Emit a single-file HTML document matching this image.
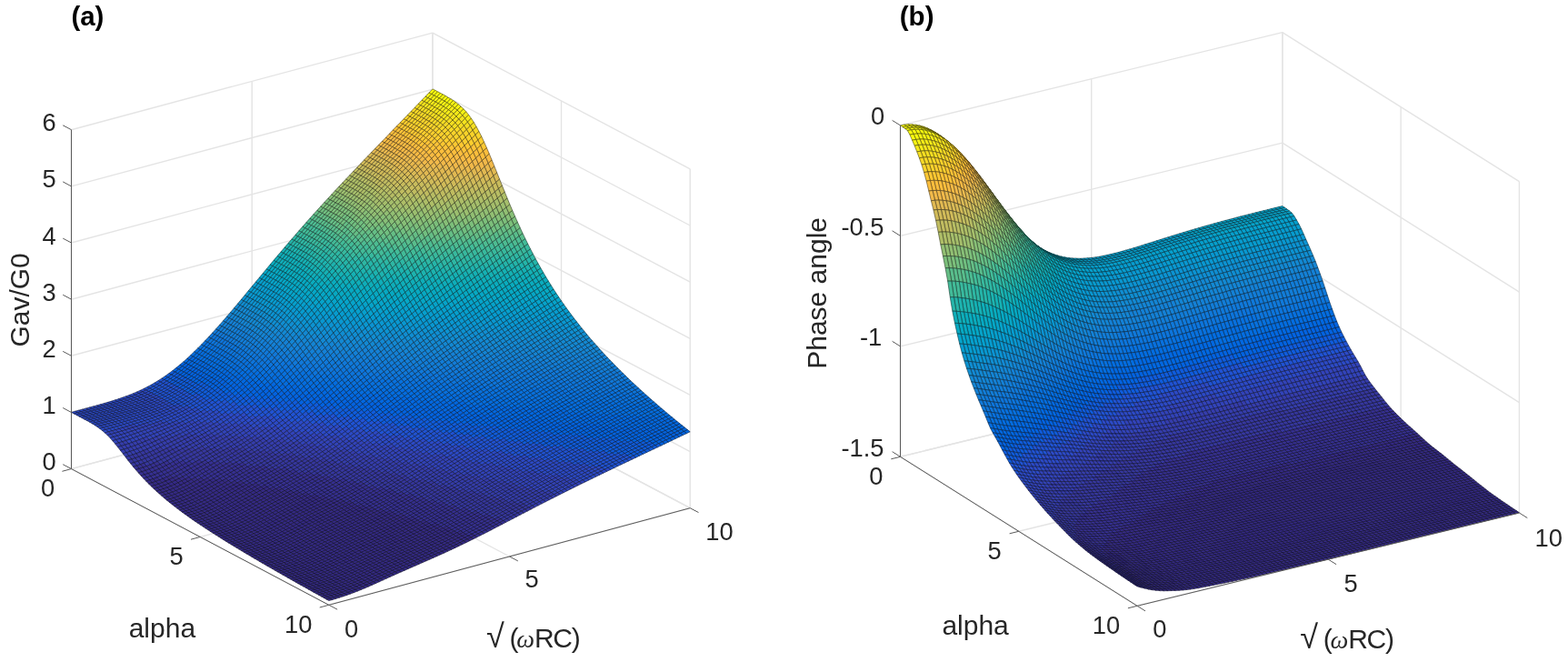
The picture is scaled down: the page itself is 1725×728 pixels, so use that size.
<!DOCTYPE html>
<html><head><meta charset="utf-8"><title>plot</title>
<style>
html,body{margin:0;padding:0;background:#fff}
body{width:1725px;height:728px;position:relative;overflow:hidden}
svg,canvas{position:absolute;left:0;top:0}
.tx{font-family:"Liberation Sans",Arial,Helvetica,sans-serif;fill:#262626}
</style></head><body>
<svg width="1725" height="728" id="g"><line x1="78.5" y1="515.6" x2="475.9" y2="409.0" stroke="#e4e4e4" stroke-width="1.4"/><line x1="475.9" y1="409.0" x2="759.2" y2="558.7" stroke="#e4e4e4" stroke-width="1.4"/><line x1="78.5" y1="453.5" x2="475.9" y2="346.9" stroke="#e4e4e4" stroke-width="1.4"/><line x1="475.9" y1="346.9" x2="759.2" y2="496.6" stroke="#e4e4e4" stroke-width="1.4"/><line x1="78.5" y1="391.3" x2="475.9" y2="284.7" stroke="#e4e4e4" stroke-width="1.4"/><line x1="475.9" y1="284.7" x2="759.2" y2="434.4" stroke="#e4e4e4" stroke-width="1.4"/><line x1="78.5" y1="329.2" x2="475.9" y2="222.6" stroke="#e4e4e4" stroke-width="1.4"/><line x1="475.9" y1="222.6" x2="759.2" y2="372.3" stroke="#e4e4e4" stroke-width="1.4"/><line x1="78.5" y1="267.0" x2="475.9" y2="160.4" stroke="#e4e4e4" stroke-width="1.4"/><line x1="475.9" y1="160.4" x2="759.2" y2="310.1" stroke="#e4e4e4" stroke-width="1.4"/><line x1="78.5" y1="204.9" x2="475.9" y2="98.2" stroke="#e4e4e4" stroke-width="1.4"/><line x1="475.9" y1="98.2" x2="759.2" y2="248.0" stroke="#e4e4e4" stroke-width="1.4"/><line x1="78.5" y1="142.7" x2="475.9" y2="36.1" stroke="#e4e4e4" stroke-width="1.4"/><line x1="475.9" y1="36.1" x2="759.2" y2="185.8" stroke="#e4e4e4" stroke-width="1.4"/><line x1="78.5" y1="515.6" x2="78.5" y2="142.7" stroke="#e4e4e4" stroke-width="1.4"/><line x1="475.9" y1="409.0" x2="475.9" y2="36.1" stroke="#e4e4e4" stroke-width="1.4"/><line x1="78.5" y1="515.6" x2="475.9" y2="409.0" stroke="#e4e4e4" stroke-width="1.4"/><line x1="78.5" y1="515.6" x2="361.8" y2="665.3" stroke="#e4e4e4" stroke-width="1.4"/><line x1="277.2" y1="462.3" x2="277.2" y2="89.4" stroke="#e4e4e4" stroke-width="1.4"/><line x1="617.5" y1="483.9" x2="617.5" y2="111.0" stroke="#e4e4e4" stroke-width="1.4"/><line x1="220.1" y1="590.5" x2="617.5" y2="483.9" stroke="#e4e4e4" stroke-width="1.4"/><line x1="277.2" y1="462.3" x2="560.5" y2="612.0" stroke="#e4e4e4" stroke-width="1.4"/><line x1="475.9" y1="409.0" x2="475.9" y2="36.1" stroke="#e4e4e4" stroke-width="1.4"/><line x1="759.2" y1="558.7" x2="759.2" y2="185.8" stroke="#e4e4e4" stroke-width="1.4"/><line x1="361.8" y1="665.3" x2="759.2" y2="558.7" stroke="#e4e4e4" stroke-width="1.4"/><line x1="475.9" y1="409.0" x2="759.2" y2="558.7" stroke="#e4e4e4" stroke-width="1.4"/><line x1="990.5" y1="502.3" x2="1410.8" y2="400.0" stroke="#e4e4e4" stroke-width="1.4"/><line x1="1410.8" y1="400.0" x2="1671.4" y2="564.0" stroke="#e4e4e4" stroke-width="1.4"/><line x1="990.5" y1="380.9" x2="1410.8" y2="278.6" stroke="#e4e4e4" stroke-width="1.4"/><line x1="1410.8" y1="278.6" x2="1671.4" y2="442.6" stroke="#e4e4e4" stroke-width="1.4"/><line x1="990.5" y1="259.4" x2="1410.8" y2="157.1" stroke="#e4e4e4" stroke-width="1.4"/><line x1="1410.8" y1="157.1" x2="1671.4" y2="321.1" stroke="#e4e4e4" stroke-width="1.4"/><line x1="990.5" y1="137.9" x2="1410.8" y2="35.6" stroke="#e4e4e4" stroke-width="1.4"/><line x1="1410.8" y1="35.6" x2="1671.4" y2="199.6" stroke="#e4e4e4" stroke-width="1.4"/><line x1="990.5" y1="502.3" x2="990.5" y2="137.9" stroke="#e4e4e4" stroke-width="1.4"/><line x1="1410.8" y1="400.0" x2="1410.8" y2="35.6" stroke="#e4e4e4" stroke-width="1.4"/><line x1="990.5" y1="502.3" x2="1410.8" y2="400.0" stroke="#e4e4e4" stroke-width="1.4"/><line x1="990.5" y1="502.3" x2="1251.1" y2="666.3" stroke="#e4e4e4" stroke-width="1.4"/><line x1="1200.7" y1="451.1" x2="1200.7" y2="86.8" stroke="#e4e4e4" stroke-width="1.4"/><line x1="1541.1" y1="482.0" x2="1541.1" y2="117.6" stroke="#e4e4e4" stroke-width="1.4"/><line x1="1120.8" y1="584.3" x2="1541.1" y2="482.0" stroke="#e4e4e4" stroke-width="1.4"/><line x1="1200.7" y1="451.1" x2="1461.2" y2="615.1" stroke="#e4e4e4" stroke-width="1.4"/><line x1="1410.8" y1="400.0" x2="1410.8" y2="35.6" stroke="#e4e4e4" stroke-width="1.4"/><line x1="1671.4" y1="564.0" x2="1671.4" y2="199.6" stroke="#e4e4e4" stroke-width="1.4"/><line x1="1251.1" y1="666.3" x2="1671.4" y2="564.0" stroke="#e4e4e4" stroke-width="1.4"/><line x1="1410.8" y1="400.0" x2="1671.4" y2="564.0" stroke="#e4e4e4" stroke-width="1.4"/></svg>
<svg width="1725" height="728" id="fb" stroke-width="0.6" stroke-linejoin="round"><path fill="#c2c40b" stroke="#c2c40b" d="M471.9 102.0L475.9 97.9 484.4 102.4 480.4 106.5Z"/><path fill="#bfb713" stroke="#bfb713" d="M460.0 114.4L471.9 102.0 480.4 106.5 468.5 118.9Z"/><path fill="#bfad1a" stroke="#bfad1a" d="M448.1 126.7L460.0 114.4 468.5 118.9 456.6 131.2Z"/><path fill="#c5a024" stroke="#c5a024" d="M436.2 139.0L448.1 126.7 456.6 131.2 444.7 143.5Z"/><path fill="#c7982b" stroke="#c7982b" d="M424.2 151.4L436.2 139.0 444.7 143.5 432.7 155.9Z"/><path fill="#bc9039" stroke="#bc9039" d="M412.3 163.7L424.2 151.4 432.7 155.9 420.8 168.2Z"/><path fill="#b09140" stroke="#b09140" d="M400.4 176.2L412.3 163.7 420.8 168.2 408.9 180.6Z"/><path fill="#9c9248" stroke="#9c9248" d="M388.5 188.7L400.4 176.2 408.9 180.6 397.0 193.2Z"/><path fill="#8f934e" stroke="#8f934e" d="M376.6 201.3L388.5 188.7 397.0 193.2 385.0 205.8Z"/><path fill="#799556" stroke="#799556" d="M364.6 214.1L376.6 201.3 385.0 205.8 373.1 218.6Z"/><path fill="#69955d" stroke="#69955d" d="M352.7 227.1L364.6 214.1 373.1 218.6 361.2 231.6Z"/><path fill="#4f9468" stroke="#4f9468" d="M340.8 240.3L352.7 227.1 361.2 231.6 349.3 244.8Z"/><path fill="#3c9372" stroke="#3c9372" d="M328.9 253.8L340.8 240.3 349.3 244.8 337.4 258.3Z"/><path fill="#248f80" stroke="#248f80" d="M316.9 267.6L328.9 253.8 337.4 258.3 325.4 272.1Z"/><path fill="#178c88" stroke="#178c88" d="M305.0 281.6L316.9 267.6 325.4 272.1 313.5 286.1Z"/><path fill="#088694" stroke="#088694" d="M293.1 295.9L305.0 281.6 313.5 286.1 301.6 300.4Z"/><path fill="#05829b" stroke="#05829b" d="M281.2 310.3L293.1 295.9 301.6 300.4 289.7 314.8Z"/><path fill="#057aa2" stroke="#057aa2" d="M269.3 324.7L281.2 310.3 289.7 314.8 277.8 329.2Z"/><path fill="#0a73a4" stroke="#0a73a4" d="M257.3 338.9L269.3 324.7 277.8 329.2 265.8 343.4Z"/><path fill="#1067a5" stroke="#1067a5" d="M245.4 352.9L257.3 338.9 265.8 343.4 253.9 357.4Z"/><path fill="#0e61a8" stroke="#0e61a8" d="M233.5 366.3L245.4 352.9 253.9 357.4 242.0 370.8Z"/><path fill="#0a5bac" stroke="#0a5bac" d="M221.6 379.0L233.5 366.3 242.0 370.8 230.1 383.5Z"/><path fill="#0355af" stroke="#0355af" d="M209.6 390.7L221.6 379.0 230.1 383.5 218.1 395.2Z"/><path fill="#0151b0" stroke="#0151b0" d="M197.7 401.3L209.6 390.7 218.1 395.2 206.2 405.8Z"/><path fill="#024daf" stroke="#024daf" d="M185.8 410.6L197.7 401.3 206.2 405.8 194.3 415.1Z"/><path fill="#0c48ad" stroke="#0c48ad" d="M173.9 418.7L185.8 410.6 194.3 415.1 182.4 423.2Z"/><path fill="#1940a5" stroke="#1940a5" d="M162.0 425.5L173.9 418.7 182.4 423.2 170.5 430.0ZM150.0 431.2L162.0 425.5 170.5 430.0 158.5 435.7Z"/><path fill="#223a9b" stroke="#223a9b" d="M138.1 436.0L150.0 431.2 158.5 435.7 146.6 440.4ZM126.2 440.0L138.1 436.0 146.6 440.4 134.7 444.5ZM114.3 443.7L126.2 440.0 134.7 444.5 122.8 448.2ZM102.3 447.0L114.3 443.7 122.8 448.2 110.8 451.5ZM90.4 450.2L102.3 447.0 110.8 451.5 98.9 454.7ZM78.5 453.5L90.4 450.2 98.9 454.7 87.0 457.9Z"/><path fill="#c2c40b" stroke="#c2c40b" d="M480.4 106.5L484.4 102.4 492.9 107.1 488.9 111.2Z"/><path fill="#bfb713" stroke="#bfb713" d="M468.5 118.9L480.4 106.5 488.9 111.2 477.0 123.5Z"/><path fill="#bfad1a" stroke="#bfad1a" d="M456.6 131.2L468.5 118.9 477.0 123.5 465.1 135.9Z"/><path fill="#c5a024" stroke="#c5a024" d="M444.7 143.5L456.6 131.2 465.1 135.9 453.2 148.2Z"/><path fill="#c7982b" stroke="#c7982b" d="M432.7 155.9L444.7 143.5 453.2 148.2 441.2 160.5Z"/><path fill="#bc9039" stroke="#bc9039" d="M420.8 168.2L432.7 155.9 441.2 160.5 429.3 172.9Z"/><path fill="#b09140" stroke="#b09140" d="M408.9 180.6L420.8 168.2 429.3 172.9 417.4 185.3Z"/><path fill="#9c9248" stroke="#9c9248" d="M397.0 193.2L408.9 180.6 417.4 185.3 405.5 197.8Z"/><path fill="#8f934e" stroke="#8f934e" d="M385.0 205.8L397.0 193.2 405.5 197.8 393.5 210.4Z"/><path fill="#799556" stroke="#799556" d="M373.1 218.6L385.0 205.8 393.5 210.4 381.6 223.2Z"/><path fill="#69955d" stroke="#69955d" d="M361.2 231.6L373.1 218.6 381.6 223.2 369.7 236.2Z"/><path fill="#4f9468" stroke="#4f9468" d="M349.3 244.8L361.2 231.6 369.7 236.2 357.8 249.4Z"/><path fill="#3c9372" stroke="#3c9372" d="M337.4 258.3L349.3 244.8 357.8 249.4 345.9 262.9Z"/><path fill="#248f80" stroke="#248f80" d="M325.4 272.1L337.4 258.3 345.9 262.9 333.9 276.7Z"/><path fill="#178c88" stroke="#178c88" d="M313.5 286.1L325.4 272.1 333.9 276.7 322.0 290.7Z"/><path fill="#088694" stroke="#088694" d="M301.6 300.4L313.5 286.1 322.0 290.7 310.1 305.0Z"/><path fill="#05829b" stroke="#05829b" d="M289.7 314.8L301.6 300.4 310.1 305.0 298.2 319.3Z"/><path fill="#057aa2" stroke="#057aa2" d="M277.8 329.2L289.7 314.8 298.2 319.3 286.2 333.7Z"/><path fill="#0a73a4" stroke="#0a73a4" d="M265.8 343.4L277.8 329.2 286.2 333.7 274.3 348.0Z"/><path fill="#1067a5" stroke="#1067a5" d="M253.9 357.4L265.8 343.4 274.3 348.0 262.4 361.9Z"/><path fill="#0e61a8" stroke="#0e61a8" d="M242.0 370.8L253.9 357.4 262.4 361.9 250.5 375.3Z"/><path fill="#0a5bac" stroke="#0a5bac" d="M230.1 383.5L242.0 370.8 250.5 375.3 238.6 388.0Z"/><path fill="#0355af" stroke="#0355af" d="M218.1 395.2L230.1 383.5 238.6 388.0 226.6 399.7Z"/><path fill="#0151b0" stroke="#0151b0" d="M206.2 405.8L218.1 395.2 226.6 399.7 214.7 410.3Z"/><path fill="#024daf" stroke="#024daf" d="M194.3 415.1L206.2 405.8 214.7 410.3 202.8 419.7Z"/><path fill="#0c48ad" stroke="#0c48ad" d="M182.4 423.2L194.3 415.1 202.8 419.7 190.9 427.7Z"/><path fill="#1940a5" stroke="#1940a5" d="M170.5 430.0L182.4 423.2 190.9 427.7 179.0 434.5ZM158.5 435.7L170.5 430.0 179.0 434.5 167.0 440.2Z"/><path fill="#223a9b" stroke="#223a9b" d="M146.6 440.4L158.5 435.7 167.0 440.2 155.1 445.0ZM134.7 444.5L146.6 440.4 155.1 445.0 143.2 449.1ZM122.8 448.2L134.7 444.5 143.2 449.1 131.3 452.7ZM110.8 451.5L122.8 448.2 131.3 452.7 119.3 456.1ZM98.9 454.7L110.8 451.5 119.3 456.1 107.4 459.3ZM87.0 457.9L98.9 454.7 107.4 459.3 95.5 462.5Z"/><path fill="#c2c40b" stroke="#c2c40b" d="M488.9 111.2L492.9 107.1 501.4 112.5 497.4 116.6Z"/><path fill="#bfb713" stroke="#bfb713" d="M477.0 123.5L488.9 111.2 497.4 116.6 485.5 128.9Z"/><path fill="#bfad1a" stroke="#bfad1a" d="M465.1 135.9L477.0 123.5 485.5 128.9 473.6 141.2Z"/><path fill="#c5a024" stroke="#c5a024" d="M453.2 148.2L465.1 135.9 473.6 141.2 461.7 153.5Z"/><path fill="#c7982b" stroke="#c7982b" d="M441.2 160.5L453.2 148.2 461.7 153.5 449.7 165.8Z"/><path fill="#bc9039" stroke="#bc9039" d="M429.3 172.9L441.2 160.5 449.7 165.8 437.8 178.2Z"/><path fill="#b09140" stroke="#b09140" d="M417.4 185.3L429.3 172.9 437.8 178.2 425.9 190.5Z"/><path fill="#9c9248" stroke="#9c9248" d="M405.5 197.8L417.4 185.3 425.9 190.5 414.0 203.0Z"/><path fill="#8f934e" stroke="#8f934e" d="M393.5 210.4L405.5 197.8 414.0 203.0 402.0 215.6Z"/><path fill="#799556" stroke="#799556" d="M381.6 223.2L393.5 210.4 402.0 215.6 390.1 228.4Z"/><path fill="#69955d" stroke="#69955d" d="M369.7 236.2L381.6 223.2 390.1 228.4 378.2 241.3Z"/><path fill="#4f9468" stroke="#4f9468" d="M357.8 249.4L369.7 236.2 378.2 241.3 366.3 254.5Z"/><path fill="#3c9372" stroke="#3c9372" d="M345.9 262.9L357.8 249.4 366.3 254.5 354.4 268.0Z"/><path fill="#248f80" stroke="#248f80" d="M333.9 276.7L345.9 262.9 354.4 268.0 342.4 281.7Z"/><path fill="#178c88" stroke="#178c88" d="M322.0 290.7L333.9 276.7 342.4 281.7 330.5 295.7Z"/><path fill="#088694" stroke="#088694" d="M310.1 305.0L322.0 290.7 330.5 295.7 318.6 309.9Z"/><path fill="#05829b" stroke="#05829b" d="M298.2 319.3L310.1 305.0 318.6 309.9 306.7 324.3Z"/><path fill="#057aa2" stroke="#057aa2" d="M286.2 333.7L298.2 319.3 306.7 324.3 294.7 338.6Z"/><path fill="#0a73a4" stroke="#0a73a4" d="M274.3 348.0L286.2 333.7 294.7 338.6 282.8 352.9Z"/><path fill="#1067a5" stroke="#1067a5" d="M262.4 361.9L274.3 348.0 282.8 352.9 270.9 366.8Z"/><path fill="#0e61a8" stroke="#0e61a8" d="M250.5 375.3L262.4 361.9 270.9 366.8 259.0 380.2Z"/><path fill="#0a5bac" stroke="#0a5bac" d="M238.6 388.0L250.5 375.3 259.0 380.2 247.1 392.8Z"/><path fill="#0355af" stroke="#0355af" d="M226.6 399.7L238.6 388.0 247.1 392.8 235.1 404.5Z"/><path fill="#0151b0" stroke="#0151b0" d="M214.7 410.3L226.6 399.7 235.1 404.5 223.2 415.1Z"/><path fill="#024daf" stroke="#024daf" d="M202.8 419.7L214.7 410.3 223.2 415.1 211.3 424.4Z"/><path fill="#0c48ad" stroke="#0c48ad" d="M190.9 427.7L202.8 419.7 211.3 424.4 199.4 432.4Z"/><path fill="#1940a5" stroke="#1940a5" d="M179.0 434.5L190.9 427.7 199.4 432.4 187.5 439.2ZM167.0 440.2L179.0 434.5 187.5 439.2 175.5 444.9Z"/><path fill="#223a9b" stroke="#223a9b" d="M155.1 445.0L167.0 440.2 175.5 444.9 163.6 449.7ZM143.2 449.1L155.1 445.0 163.6 449.7 151.7 453.8ZM131.3 452.7L143.2 449.1 151.7 453.8 139.8 457.5ZM119.3 456.1L131.3 452.7 139.8 457.5 127.8 460.9ZM107.4 459.3L119.3 456.1 127.8 460.9 115.9 464.2ZM95.5 462.5L107.4 459.3 115.9 464.2 104.0 467.4Z"/><path fill="#c0bd0f" stroke="#c0bd0f" d="M497.4 116.6L501.4 112.5 509.9 119.7 505.9 123.8Z"/><path fill="#bfb713" stroke="#bfb713" d="M485.5 128.9L497.4 116.6 505.9 123.8 494.0 136.1Z"/><path fill="#c1a91d" stroke="#c1a91d" d="M473.6 141.2L485.5 128.9 494.0 136.1 482.1 148.3Z"/><path fill="#c5a024" stroke="#c5a024" d="M461.7 153.5L473.6 141.2 482.1 148.3 470.2 160.5Z"/><path fill="#c69430" stroke="#c69430" d="M449.7 165.8L461.7 153.5 470.2 160.5 458.2 172.7Z"/><path fill="#bc9039" stroke="#bc9039" d="M437.8 178.2L449.7 165.8 458.2 172.7 446.3 185.0Z"/><path fill="#a99143" stroke="#a99143" d="M425.9 190.5L437.8 178.2 446.3 185.0 434.4 197.3Z"/><path fill="#9c9248" stroke="#9c9248" d="M414.0 203.0L425.9 190.5 434.4 197.3 422.5 209.7Z"/><path fill="#889450" stroke="#889450" d="M402.0 215.6L414.0 203.0 422.5 209.7 410.5 222.2Z"/><path fill="#799556" stroke="#799556" d="M390.1 228.4L402.0 215.6 410.5 222.2 398.6 234.9Z"/><path fill="#619560" stroke="#619560" d="M378.2 241.3L390.1 228.4 398.6 234.9 386.7 247.8Z"/><path fill="#4f9468" stroke="#4f9468" d="M366.3 254.5L378.2 241.3 386.7 247.8 374.8 260.9Z"/><path fill="#339276" stroke="#339276" d="M354.4 268.0L366.3 254.5 374.8 260.9 362.9 274.2Z"/><path fill="#248f80" stroke="#248f80" d="M342.4 281.7L354.4 268.0 362.9 274.2 350.9 287.9Z"/><path fill="#118a8c" stroke="#118a8c" d="M330.5 295.7L342.4 281.7 350.9 287.9 339.0 301.8Z"/><path fill="#088694" stroke="#088694" d="M318.6 309.9L330.5 295.7 339.0 301.8 327.1 315.9Z"/><path fill="#05809d" stroke="#05809d" d="M306.7 324.3L318.6 309.9 327.1 315.9 315.2 330.1Z"/><path fill="#057aa2" stroke="#057aa2" d="M294.7 338.6L306.7 324.3 315.2 330.1 303.2 344.4Z"/><path fill="#0d6fa4" stroke="#0d6fa4" d="M282.8 352.9L294.7 338.6 303.2 344.4 291.3 358.5Z"/><path fill="#1067a5" stroke="#1067a5" d="M270.9 366.8L282.8 352.9 291.3 358.5 279.4 372.3Z"/><path fill="#0e61a8" stroke="#0e61a8" d="M259.0 380.2L270.9 366.8 279.4 372.3 267.5 385.6Z"/><path fill="#0a5bac" stroke="#0a5bac" d="M247.1 392.8L259.0 380.2 267.5 385.6 255.6 398.2Z"/><path fill="#0355af" stroke="#0355af" d="M235.1 404.5L247.1 392.8 255.6 398.2 243.6 409.8Z"/><path fill="#0151b0" stroke="#0151b0" d="M223.2 415.1L235.1 404.5 243.6 409.8 231.7 420.3Z"/><path fill="#024daf" stroke="#024daf" d="M211.3 424.4L223.2 415.1 231.7 420.3 219.8 429.6Z"/><path fill="#0c48ad" stroke="#0c48ad" d="M199.4 432.4L211.3 424.4 219.8 429.6 207.9 437.6Z"/><path fill="#1940a5" stroke="#1940a5" d="M187.5 439.2L199.4 432.4 207.9 437.6 195.9 444.4Z"/><path fill="#223a9b" stroke="#223a9b" d="M175.5 444.9L187.5 439.2 195.9 444.4 184.0 450.2ZM163.6 449.7L175.5 444.9 184.0 450.2 172.1 455.0ZM151.7 453.8L163.6 449.7 172.1 455.0 160.2 459.3ZM139.8 457.5L151.7 453.8 160.2 459.3 148.3 463.1ZM127.8 460.9L139.8 457.5 148.3 463.1 136.3 466.7ZM115.9 464.2L127.8 460.9 136.3 466.7 124.4 470.2ZM104.0 467.4L115.9 464.2 124.4 470.2 112.5 473.5Z"/><path fill="#bfb713" stroke="#bfb713" d="M505.9 123.8L509.9 119.7 518.4 130.1 514.4 134.2Z"/><path fill="#bfb217" stroke="#bfb217" d="M494.0 136.1L505.9 123.8 514.4 134.2 502.5 146.2Z"/><path fill="#c3a520" stroke="#c3a520" d="M482.1 148.3L494.0 136.1 502.5 146.2 490.6 158.3Z"/><path fill="#c69c27" stroke="#c69c27" d="M470.2 160.5L482.1 148.3 490.6 158.3 478.7 170.3Z"/><path fill="#c29135" stroke="#c29135" d="M458.2 172.7L470.2 160.5 478.7 170.3 466.7 182.4Z"/><path fill="#b6903d" stroke="#b6903d" d="M446.3 185.0L458.2 172.7 466.7 182.4 454.8 194.4Z"/><path fill="#a39246" stroke="#a39246" d="M434.4 197.3L446.3 185.0 454.8 194.4 442.9 206.6Z"/><path fill="#96934b" stroke="#96934b" d="M422.5 209.7L434.4 197.3 442.9 206.6 431.0 218.8Z"/><path fill="#819453" stroke="#819453" d="M410.5 222.2L422.5 209.7 431.0 218.8 419.0 231.1Z"/><path fill="#729559" stroke="#729559" d="M398.6 234.9L410.5 222.2 419.0 231.1 407.1 243.6Z"/><path fill="#619560" stroke="#619560" d="M386.7 247.8L398.6 234.9 407.1 243.6 395.2 256.3Z"/><path fill="#45946d" stroke="#45946d" d="M374.8 260.9L386.7 247.8 395.2 256.3 383.3 269.2Z"/><path fill="#339276" stroke="#339276" d="M362.9 274.2L374.8 260.9 383.3 269.2 371.4 282.4Z"/><path fill="#1d8d84" stroke="#1d8d84" d="M350.9 287.9L362.9 274.2 371.4 282.4 359.4 295.9Z"/><path fill="#118a8c" stroke="#118a8c" d="M339.0 301.8L350.9 287.9 359.4 295.9 347.5 309.5Z"/><path fill="#058497" stroke="#058497" d="M327.1 315.9L339.0 301.8 347.5 309.5 335.6 323.4Z"/><path fill="#05809d" stroke="#05809d" d="M315.2 330.1L327.1 315.9 335.6 323.4 323.7 337.5Z"/><path fill="#0777a3" stroke="#0777a3" d="M303.2 344.4L315.2 330.1 323.7 337.5 311.7 351.5Z"/><path fill="#0d6fa4" stroke="#0d6fa4" d="M291.3 358.5L303.2 344.4 311.7 351.5 299.8 365.4Z"/><path fill="#1067a5" stroke="#1067a5" d="M279.4 372.3L291.3 358.5 299.8 365.4 287.9 379.0Z"/><path fill="#0e61a8" stroke="#0e61a8" d="M267.5 385.6L279.4 372.3 287.9 379.0 276.0 392.1Z"/><path fill="#0a5bac" stroke="#0a5bac" d="M255.6 398.2L267.5 385.6 276.0 392.1 264.1 404.5Z"/><path fill="#0355af" stroke="#0355af" d="M243.6 409.8L255.6 398.2 264.1 404.5 252.1 416.0Z"/><path fill="#0151b0" stroke="#0151b0" d="M231.7 420.3L243.6 409.8 252.1 416.0 240.2 426.4Z"/><path fill="#0c48ad" stroke="#0c48ad" d="M219.8 429.6L231.7 420.3 240.2 426.4 228.3 435.6ZM207.9 437.6L219.8 429.6 228.3 435.6 216.4 443.6Z"/><path fill="#1940a5" stroke="#1940a5" d="M195.9 444.4L207.9 437.6 216.4 443.6 204.4 450.4Z"/><path fill="#223a9b" stroke="#223a9b" d="M184.0 450.2L195.9 444.4 204.4 450.4 192.5 456.2ZM172.1 455.0L184.0 450.2 192.5 456.2 180.6 461.3ZM160.2 459.3L172.1 455.0 180.6 461.3 168.7 465.9ZM148.3 463.1L160.2 459.3 168.7 465.9 156.8 470.1Z"/><path fill="#273591" stroke="#273591" d="M136.3 466.7L148.3 463.1 156.8 470.1 144.8 474.2ZM124.4 470.2L136.3 466.7 144.8 474.2 132.9 478.1ZM112.5 473.5L124.4 470.2 132.9 478.1 121.0 481.5Z"/><path fill="#bfad1a" stroke="#bfad1a" d="M514.4 134.2L518.4 130.1 526.9 144.5 522.9 148.4Z"/><path fill="#c3a520" stroke="#c3a520" d="M502.5 146.2L514.4 134.2 522.9 148.4 511.0 160.2Z"/><path fill="#c69c27" stroke="#c69c27" d="M490.6 158.3L502.5 146.2 511.0 160.2 499.1 171.9Z"/><path fill="#c69430" stroke="#c69430" d="M478.7 170.3L490.6 158.3 499.1 171.9 487.2 183.7Z"/><path fill="#b6903d" stroke="#b6903d" d="M466.7 182.4L478.7 170.3 487.2 183.7 475.2 195.5Z"/><path fill="#a99143" stroke="#a99143" d="M454.8 194.4L466.7 182.4 475.2 195.5 463.3 207.2Z"/><path fill="#9c9248" stroke="#9c9248" d="M442.9 206.6L454.8 194.4 463.3 207.2 451.4 219.1Z"/><path fill="#889450" stroke="#889450" d="M431.0 218.8L442.9 206.6 451.4 219.1 439.5 231.0Z"/><path fill="#799556" stroke="#799556" d="M419.0 231.1L431.0 218.8 439.5 231.0 427.5 243.0Z"/><path fill="#69955d" stroke="#69955d" d="M407.1 243.6L419.0 231.1 427.5 243.0 415.6 255.2Z"/><path fill="#4f9468" stroke="#4f9468" d="M395.2 256.3L407.1 243.6 415.6 255.2 403.7 267.6Z"/><path fill="#3c9372" stroke="#3c9372" d="M383.3 269.2L395.2 256.3 403.7 267.6 391.8 280.2Z"/><path fill="#2b907b" stroke="#2b907b" d="M371.4 282.4L383.3 269.2 391.8 280.2 379.9 293.1Z"/><path fill="#178c88" stroke="#178c88" d="M359.4 295.9L371.4 282.4 379.9 293.1 367.9 306.2Z"/><path fill="#0c8890" stroke="#0c8890" d="M347.5 309.5L359.4 295.9 367.9 306.2 356.0 319.5Z"/><path fill="#05829b" stroke="#05829b" d="M335.6 323.4L347.5 309.5 356.0 319.5 344.1 333.1Z"/><path fill="#057da0" stroke="#057da0" d="M323.7 337.5L335.6 323.4 344.1 333.1 332.2 346.7Z"/><path fill="#0777a3" stroke="#0777a3" d="M311.7 351.5L323.7 337.5 332.2 346.7 320.2 360.4Z"/><path fill="#0f6ba4" stroke="#0f6ba4" d="M299.8 365.4L311.7 351.5 320.2 360.4 308.3 374.0Z"/><path fill="#0f64a7" stroke="#0f64a7" d="M287.9 379.0L299.8 365.4 308.3 374.0 296.4 387.3Z"/><path fill="#0d5eaa" stroke="#0d5eaa" d="M276.0 392.1L287.9 379.0 296.4 387.3 284.5 400.1Z"/><path fill="#0758ad" stroke="#0758ad" d="M264.1 404.5L276.0 392.1 284.5 400.1 272.6 412.1Z"/><path fill="#0355af" stroke="#0355af" d="M252.1 416.0L264.1 404.5 272.6 412.1 260.6 423.4Z"/><path fill="#024daf" stroke="#024daf" d="M240.2 426.4L252.1 416.0 260.6 423.4 248.7 433.5Z"/><path fill="#0c48ad" stroke="#0c48ad" d="M228.3 435.6L240.2 426.4 248.7 433.5 236.8 442.6Z"/><path fill="#1940a5" stroke="#1940a5" d="M216.4 443.6L228.3 435.6 236.8 442.6 224.9 450.5Z"/><path fill="#223a9b" stroke="#223a9b" d="M204.4 450.4L216.4 443.6 224.9 450.5 212.9 457.4ZM192.5 456.2L204.4 450.4 212.9 457.4 201.0 463.4ZM180.6 461.3L192.5 456.2 201.0 463.4 189.1 468.8Z"/><path fill="#273591" stroke="#273591" d="M168.7 465.9L180.6 461.3 189.1 468.8 177.2 473.8ZM156.8 470.1L168.7 465.9 177.2 473.8 165.3 478.7ZM144.8 474.2L156.8 470.1 165.3 478.7 153.3 483.5ZM132.9 478.1L144.8 474.2 153.3 483.5 141.4 487.9ZM121.0 481.5L132.9 478.1 141.4 487.9 129.5 491.6Z"/><path fill="#c5a024" stroke="#c5a024" d="M522.9 148.4L526.9 144.5 535.4 162.5 531.4 166.3Z"/><path fill="#c7982b" stroke="#c7982b" d="M511.0 160.2L522.9 148.4 531.4 166.3 519.5 177.7Z"/><path fill="#c29135" stroke="#c29135" d="M499.1 171.9L511.0 160.2 519.5 177.7 507.6 189.0Z"/><path fill="#b6903d" stroke="#b6903d" d="M487.2 183.7L499.1 171.9 507.6 189.0 495.7 200.4Z"/><path fill="#a39246" stroke="#a39246" d="M475.2 195.5L487.2 183.7 495.7 200.4 483.7 211.8Z"/><path fill="#96934b" stroke="#96934b" d="M463.3 207.2L475.2 195.5 483.7 211.8 471.8 223.2Z"/><path fill="#889450" stroke="#889450" d="M451.4 219.1L463.3 207.2 471.8 223.2 459.9 234.6Z"/><path fill="#799556" stroke="#799556" d="M439.5 231.0L451.4 219.1 459.9 234.6 448.0 246.1Z"/><path fill="#69955d" stroke="#69955d" d="M427.5 243.0L439.5 231.0 448.0 246.1 436.0 257.7Z"/><path fill="#4f9468" stroke="#4f9468" d="M415.6 255.2L427.5 243.0 436.0 257.7 424.1 269.5Z"/><path fill="#3c9372" stroke="#3c9372" d="M403.7 267.6L415.6 255.2 424.1 269.5 412.2 281.5Z"/><path fill="#2b907b" stroke="#2b907b" d="M391.8 280.2L403.7 267.6 412.2 281.5 400.3 293.6Z"/><path fill="#1d8d84" stroke="#1d8d84" d="M379.9 293.1L391.8 280.2 400.3 293.6 388.4 306.0Z"/><path fill="#0c8890" stroke="#0c8890" d="M367.9 306.2L379.9 293.1 388.4 306.0 376.4 318.7Z"/><path fill="#058497" stroke="#058497" d="M356.0 319.5L367.9 306.2 376.4 318.7 364.5 331.6Z"/><path fill="#05809d" stroke="#05809d" d="M344.1 333.1L356.0 319.5 364.5 331.6 352.6 344.6Z"/><path fill="#057aa2" stroke="#057aa2" d="M332.2 346.7L344.1 333.1 352.6 344.6 340.7 357.8Z"/><path fill="#0d6fa4" stroke="#0d6fa4" d="M320.2 360.4L332.2 346.7 340.7 357.8 328.7 371.0Z"/><path fill="#1067a5" stroke="#1067a5" d="M308.3 374.0L320.2 360.4 328.7 371.0 316.8 384.1Z"/><path fill="#0e61a8" stroke="#0e61a8" d="M296.4 387.3L308.3 374.0 316.8 384.1 304.9 396.9Z"/><path fill="#0a5bac" stroke="#0a5bac" d="M284.5 400.1L296.4 387.3 304.9 396.9 293.0 409.2Z"/><path fill="#0758ad" stroke="#0758ad" d="M272.6 412.1L284.5 400.1 293.0 409.2 281.1 420.9Z"/><path fill="#0151b0" stroke="#0151b0" d="M260.6 423.4L272.6 412.1 281.1 420.9 269.1 431.8Z"/><path fill="#024daf" stroke="#024daf" d="M248.7 433.5L260.6 423.4 269.1 431.8 257.2 441.7Z"/><path fill="#0c48ad" stroke="#0c48ad" d="M236.8 442.6L248.7 433.5 257.2 441.7 245.3 450.5Z"/><path fill="#1940a5" stroke="#1940a5" d="M224.9 450.5L236.8 442.6 245.3 450.5 233.4 458.4Z"/><path fill="#223a9b" stroke="#223a9b" d="M212.9 457.4L224.9 450.5 233.4 458.4 221.4 465.3Z"/><path fill="#273591" stroke="#273591" d="M201.0 463.4L212.9 457.4 221.4 465.3 209.5 471.5ZM189.1 468.8L201.0 463.4 209.5 471.5 197.6 477.2ZM177.2 473.8L189.1 468.8 197.6 477.2 185.7 482.8Z"/><path fill="#292f87" stroke="#292f87" d="M165.3 478.7L177.2 473.8 185.7 482.8 173.8 488.4ZM153.3 483.5L165.3 478.7 173.8 488.4 161.8 493.8ZM141.4 487.9L153.3 483.5 161.8 493.8 149.9 498.7ZM129.5 491.6L141.4 487.9 149.9 498.7 138.0 502.5Z"/><path fill="#c29135" stroke="#c29135" d="M531.4 166.3L535.4 162.5 543.9 182.9 539.9 186.6Z"/><path fill="#b6903d" stroke="#b6903d" d="M519.5 177.7L531.4 166.3 539.9 186.6 528.0 197.5Z"/><path fill="#a99143" stroke="#a99143" d="M507.6 189.0L519.5 177.7 528.0 197.5 516.1 208.4Z"/><path fill="#9c9248" stroke="#9c9248" d="M495.7 200.4L507.6 189.0 516.1 208.4 504.2 219.2Z"/><path fill="#8f934e" stroke="#8f934e" d="M483.7 211.8L495.7 200.4 504.2 219.2 492.2 230.1Z"/><path fill="#819453" stroke="#819453" d="M471.8 223.2L483.7 211.8 492.2 230.1 480.3 241.1Z"/><path fill="#729559" stroke="#729559" d="M459.9 234.6L471.8 223.2 480.3 241.1 468.4 252.0Z"/><path fill="#619560" stroke="#619560" d="M448.0 246.1L459.9 234.6 468.4 252.0 456.5 263.1Z"/><path fill="#4f9468" stroke="#4f9468" d="M436.0 257.7L448.0 246.1 456.5 263.1 444.5 274.2Z"/><path fill="#3c9372" stroke="#3c9372" d="M424.1 269.5L436.0 257.7 444.5 274.2 432.6 285.5Z"/><path fill="#2b907b" stroke="#2b907b" d="M412.2 281.5L424.1 269.5 432.6 285.5 420.7 296.9Z"/><path fill="#1d8d84" stroke="#1d8d84" d="M400.3 293.6L412.2 281.5 420.7 296.9 408.8 308.6Z"/><path fill="#0c8890" stroke="#0c8890" d="M388.4 306.0L400.3 293.6 408.8 308.6 396.9 320.5Z"/><path fill="#058497" stroke="#058497" d="M376.4 318.7L388.4 306.0 396.9 320.5 384.9 332.6Z"/><path fill="#05809d" stroke="#05809d" d="M364.5 331.6L376.4 318.7 384.9 332.6 373.0 344.9Z"/><path fill="#057aa2" stroke="#057aa2" d="M352.6 344.6L364.5 331.6 373.0 344.9 361.1 357.4Z"/><path fill="#0a73a4" stroke="#0a73a4" d="M340.7 357.8L352.6 344.6 361.1 357.4 349.2 370.0Z"/><path fill="#0f6ba4" stroke="#0f6ba4" d="M328.7 371.0L340.7 357.8 349.2 370.0 337.2 382.7Z"/><path fill="#0f64a7" stroke="#0f64a7" d="M316.8 384.1L328.7 371.0 337.2 382.7 325.3 395.2Z"/><path fill="#0d5eaa" stroke="#0d5eaa" d="M304.9 396.9L316.8 384.1 325.3 395.2 313.4 407.4Z"/><path fill="#0758ad" stroke="#0758ad" d="M293.0 409.2L304.9 396.9 313.4 407.4 301.5 419.2Z"/><path fill="#0355af" stroke="#0355af" d="M281.1 420.9L293.0 409.2 301.5 419.2 289.6 430.5Z"/><path fill="#024daf" stroke="#024daf" d="M269.1 431.8L281.1 420.9 289.6 430.5 277.6 440.9Z"/><path fill="#0c48ad" stroke="#0c48ad" d="M257.2 441.7L269.1 431.8 277.6 440.9 265.7 450.4Z"/><path fill="#1940a5" stroke="#1940a5" d="M245.3 450.5L257.2 441.7 265.7 450.4 253.8 459.1Z"/><path fill="#223a9b" stroke="#223a9b" d="M233.4 458.4L245.3 450.5 253.8 459.1 241.9 466.8Z"/><path fill="#273591" stroke="#273591" d="M221.4 465.3L233.4 458.4 241.9 466.8 229.9 473.7ZM209.5 471.5L221.4 465.3 229.9 473.7 218.0 480.0Z"/><path fill="#292f87" stroke="#292f87" d="M197.6 477.2L209.5 471.5 218.0 480.0 206.1 486.1ZM185.7 482.8L197.6 477.2 206.1 486.1 194.2 492.2ZM173.8 488.4L185.7 482.8 194.2 492.2 182.3 498.3Z"/><path fill="#2a2b7d" stroke="#2a2b7d" d="M161.8 493.8L173.8 488.4 182.3 498.3 170.3 504.1ZM149.9 498.7L161.8 493.8 170.3 504.1 158.4 509.3ZM138.0 502.5L149.9 498.7 158.4 509.3 146.5 513.2Z"/><path fill="#a39246" stroke="#a39246" d="M539.9 186.6L543.9 182.9 552.4 204.1 548.4 207.5Z"/><path fill="#9c9248" stroke="#9c9248" d="M528.0 197.5L539.9 186.6 548.4 207.5 536.5 218.0Z"/><path fill="#8f934e" stroke="#8f934e" d="M516.1 208.4L528.0 197.5 536.5 218.0 524.6 228.4Z"/><path fill="#819453" stroke="#819453" d="M504.2 219.2L516.1 208.4 524.6 228.4 512.7 238.8Z"/><path fill="#729559" stroke="#729559" d="M492.2 230.1L504.2 219.2 512.7 238.8 500.7 249.2Z"/><path fill="#619560" stroke="#619560" d="M480.3 241.1L492.2 230.1 500.7 249.2 488.8 259.6Z"/><path fill="#4f9468" stroke="#4f9468" d="M468.4 252.0L480.3 241.1 488.8 259.6 476.9 270.1Z"/><path fill="#45946d" stroke="#45946d" d="M456.5 263.1L468.4 252.0 476.9 270.1 465.0 280.6Z"/><path fill="#339276" stroke="#339276" d="M444.5 274.2L456.5 263.1 465.0 280.6 453.0 291.3Z"/><path fill="#248f80" stroke="#248f80" d="M432.6 285.5L444.5 274.2 453.0 291.3 441.1 302.0Z"/><path fill="#178c88" stroke="#178c88" d="M420.7 296.9L432.6 285.5 441.1 302.0 429.2 313.0Z"/><path fill="#0c8890" stroke="#0c8890" d="M408.8 308.6L420.7 296.9 429.2 313.0 417.3 324.1Z"/><path fill="#058497" stroke="#058497" d="M396.9 320.5L408.8 308.6 417.3 324.1 405.4 335.4Z"/><path fill="#05809d" stroke="#05809d" d="M384.9 332.6L396.9 320.5 405.4 335.4 393.4 346.9Z"/><path fill="#057aa2" stroke="#057aa2" d="M373.0 344.9L384.9 332.6 393.4 346.9 381.5 358.7Z"/><path fill="#0a73a4" stroke="#0a73a4" d="M361.1 357.4L373.0 344.9 381.5 358.7 369.6 370.6Z"/><path fill="#0f6ba4" stroke="#0f6ba4" d="M349.2 370.0L361.1 357.4 369.6 370.6 357.7 382.6Z"/><path fill="#0f64a7" stroke="#0f64a7" d="M337.2 382.7L349.2 370.0 357.7 382.6 345.7 394.6Z"/><path fill="#0d5eaa" stroke="#0d5eaa" d="M325.3 395.2L337.2 382.7 345.7 394.6 333.8 406.6Z"/><path fill="#0a5bac" stroke="#0a5bac" d="M313.4 407.4L325.3 395.2 333.8 406.6 321.9 418.2Z"/><path fill="#0355af" stroke="#0355af" d="M301.5 419.2L313.4 407.4 321.9 418.2 310.0 429.5Z"/><path fill="#0151b0" stroke="#0151b0" d="M289.6 430.5L301.5 419.2 310.0 429.5 298.1 440.2Z"/><path fill="#0c48ad" stroke="#0c48ad" d="M277.6 440.9L289.6 430.5 298.1 440.2 286.1 450.2Z"/><path fill="#1940a5" stroke="#1940a5" d="M265.7 450.4L277.6 440.9 286.1 450.2 274.2 459.4Z"/><path fill="#223a9b" stroke="#223a9b" d="M253.8 459.1L265.7 450.4 274.2 459.4 262.3 467.8Z"/><path fill="#273591" stroke="#273591" d="M241.9 466.8L253.8 459.1 262.3 467.8 250.4 475.3ZM229.9 473.7L241.9 466.8 250.4 475.3 238.4 482.2Z"/><path fill="#292f87" stroke="#292f87" d="M218.0 480.0L229.9 473.7 238.4 482.2 226.5 488.7ZM206.1 486.1L218.0 480.0 226.5 488.7 214.6 495.0Z"/><path fill="#2a2b7d" stroke="#2a2b7d" d="M194.2 492.2L206.1 486.1 214.6 495.0 202.7 501.3ZM182.3 498.3L194.2 492.2 202.7 501.3 190.8 507.7ZM170.3 504.1L182.3 498.3 190.8 507.7 178.8 513.8Z"/><path fill="#2a2673" stroke="#2a2673" d="M158.4 509.3L170.3 504.1 178.8 513.8 166.9 519.1ZM146.5 513.2L158.4 509.3 166.9 519.1 155.0 523.0Z"/><path fill="#889450" stroke="#889450" d="M548.4 207.5L552.4 204.1 560.9 224.8 556.9 228.1Z"/><path fill="#819453" stroke="#819453" d="M536.5 218.0L548.4 207.5 556.9 228.1 545.0 238.0Z"/><path fill="#729559" stroke="#729559" d="M524.6 228.4L536.5 218.0 545.0 238.0 533.1 248.0Z"/><path fill="#619560" stroke="#619560" d="M512.7 238.8L524.6 228.4 533.1 248.0 521.2 257.9Z"/><path fill="#4f9468" stroke="#4f9468" d="M500.7 249.2L512.7 238.8 521.2 257.9 509.2 267.8Z"/><path fill="#45946d" stroke="#45946d" d="M488.8 259.6L500.7 249.2 509.2 267.8 497.3 277.8Z"/><path fill="#339276" stroke="#339276" d="M476.9 270.1L488.8 259.6 497.3 277.8 485.4 287.8Z"/><path fill="#248f80" stroke="#248f80" d="M465.0 280.6L476.9 270.1 485.4 287.8 473.5 297.8Z"/><path fill="#1d8d84" stroke="#1d8d84" d="M453.0 291.3L465.0 280.6 473.5 297.8 461.5 308.0Z"/><path fill="#118a8c" stroke="#118a8c" d="M441.1 302.0L453.0 291.3 461.5 308.0 449.6 318.2Z"/><path fill="#088694" stroke="#088694" d="M429.2 313.0L441.1 302.0 449.6 318.2 437.7 328.6Z"/><path fill="#05829b" stroke="#05829b" d="M417.3 324.1L429.2 313.0 437.7 328.6 425.8 339.2Z"/><path fill="#05809d" stroke="#05809d" d="M405.4 335.4L417.3 324.1 425.8 339.2 413.9 350.0Z"/><path fill="#057aa2" stroke="#057aa2" d="M393.4 346.9L405.4 335.4 413.9 350.0 401.9 361.0Z"/><path fill="#0a73a4" stroke="#0a73a4" d="M381.5 358.7L393.4 346.9 401.9 361.0 390.0 372.2Z"/><path fill="#0f6ba4" stroke="#0f6ba4" d="M369.6 370.6L381.5 358.7 390.0 372.2 378.1 383.5Z"/><path fill="#1067a5" stroke="#1067a5" d="M357.7 382.6L369.6 370.6 378.1 383.5 366.2 395.0Z"/><path fill="#0e61a8" stroke="#0e61a8" d="M345.7 394.6L357.7 382.6 366.2 395.0 354.2 406.4Z"/><path fill="#0a5bac" stroke="#0a5bac" d="M333.8 406.6L345.7 394.6 354.2 406.4 342.3 417.8Z"/><path fill="#0355af" stroke="#0355af" d="M321.9 418.2L333.8 406.6 342.3 417.8 330.4 428.9Z"/><path fill="#0151b0" stroke="#0151b0" d="M310.0 429.5L321.9 418.2 330.4 428.9 318.5 439.6Z"/><path fill="#024daf" stroke="#024daf" d="M298.1 440.2L310.0 429.5 318.5 439.6 306.6 449.8Z"/><path fill="#1940a5" stroke="#1940a5" d="M286.1 450.2L298.1 440.2 306.6 449.8 294.6 459.4Z"/><path fill="#223a9b" stroke="#223a9b" d="M274.2 459.4L286.1 450.2 294.6 459.4 282.7 468.2ZM262.3 467.8L274.2 459.4 282.7 468.2 270.8 476.3Z"/><path fill="#273591" stroke="#273591" d="M250.4 475.3L262.3 467.8 270.8 476.3 258.9 483.7Z"/><path fill="#292f87" stroke="#292f87" d="M238.4 482.2L250.4 475.3 258.9 483.7 246.9 490.5ZM226.5 488.7L238.4 482.2 246.9 490.5 235.0 497.0Z"/><path fill="#2a2b7d" stroke="#2a2b7d" d="M214.6 495.0L226.5 488.7 235.0 497.0 223.1 503.5ZM202.7 501.3L214.6 495.0 223.1 503.5 211.2 510.0Z"/><path fill="#2a2673" stroke="#2a2673" d="M190.8 507.7L202.7 501.3 211.2 510.0 199.3 516.5ZM178.8 513.8L190.8 507.7 199.3 516.5 187.3 522.7ZM166.9 519.1L178.8 513.8 187.3 522.7 175.4 528.0ZM155.0 523.0L166.9 519.1 175.4 528.0 163.5 532.0Z"/><path fill="#69955d" stroke="#69955d" d="M556.9 228.1L560.9 224.8 569.4 244.3 565.4 247.5Z"/><path fill="#619560" stroke="#619560" d="M545.0 238.0L556.9 228.1 565.4 247.5 553.5 257.0Z"/><path fill="#4f9468" stroke="#4f9468" d="M533.1 248.0L545.0 238.0 553.5 257.0 541.6 266.5Z"/><path fill="#45946d" stroke="#45946d" d="M521.2 257.9L533.1 248.0 541.6 266.5 529.6 276.0Z"/><path fill="#339276" stroke="#339276" d="M509.2 267.8L521.2 257.9 529.6 276.0 517.7 285.5Z"/><path fill="#248f80" stroke="#248f80" d="M497.3 277.8L509.2 267.8 517.7 285.5 505.8 295.0Z"/><path fill="#1d8d84" stroke="#1d8d84" d="M485.4 287.8L497.3 277.8 505.8 295.0 493.9 304.5Z"/><path fill="#118a8c" stroke="#118a8c" d="M473.5 297.8L485.4 287.8 493.9 304.5 482.0 314.1Z"/><path fill="#0c8890" stroke="#0c8890" d="M461.5 308.0L473.5 297.8 482.0 314.1 470.0 323.8Z"/><path fill="#058497" stroke="#058497" d="M449.6 318.2L461.5 308.0 470.0 323.8 458.1 333.6Z"/><path fill="#05829b" stroke="#05829b" d="M437.7 328.6L449.6 318.2 458.1 333.6 446.2 343.6Z"/><path fill="#057da0" stroke="#057da0" d="M425.8 339.2L437.7 328.6 446.2 343.6 434.3 353.7Z"/><path fill="#0777a3" stroke="#0777a3" d="M413.9 350.0L425.8 339.2 434.3 353.7 422.4 363.9Z"/><path fill="#0a73a4" stroke="#0a73a4" d="M401.9 361.0L413.9 350.0 422.4 363.9 410.4 374.4Z"/><path fill="#0f6ba4" stroke="#0f6ba4" d="M390.0 372.2L401.9 361.0 410.4 374.4 398.5 385.1Z"/><path fill="#1067a5" stroke="#1067a5" d="M378.1 383.5L390.0 372.2 398.5 385.1 386.6 395.9Z"/><path fill="#0e61a8" stroke="#0e61a8" d="M366.2 395.0L378.1 383.5 386.6 395.9 374.7 406.8Z"/><path fill="#0a5bac" stroke="#0a5bac" d="M354.2 406.4L366.2 395.0 374.7 406.8 362.7 417.7Z"/><path fill="#0758ad" stroke="#0758ad" d="M342.3 417.8L354.2 406.4 362.7 417.7 350.8 428.5Z"/><path fill="#0151b0" stroke="#0151b0" d="M330.4 428.9L342.3 417.8 350.8 428.5 338.9 439.1Z"/><path fill="#024daf" stroke="#024daf" d="M318.5 439.6L330.4 428.9 338.9 439.1 327.0 449.3Z"/><path fill="#0c48ad" stroke="#0c48ad" d="M306.6 449.8L318.5 439.6 327.0 449.3 315.1 459.1Z"/><path fill="#1940a5" stroke="#1940a5" d="M294.6 459.4L306.6 449.8 315.1 459.1 303.1 468.3Z"/><path fill="#223a9b" stroke="#223a9b" d="M282.7 468.2L294.6 459.4 303.1 468.3 291.2 476.8Z"/><path fill="#273591" stroke="#273591" d="M270.8 476.3L282.7 468.2 291.2 476.8 279.3 484.6Z"/><path fill="#292f87" stroke="#292f87" d="M258.9 483.7L270.8 476.3 279.3 484.6 267.4 491.8ZM246.9 490.5L258.9 483.7 267.4 491.8 255.4 498.5Z"/><path fill="#2a2b7d" stroke="#2a2b7d" d="M235.0 497.0L246.9 490.5 255.4 498.5 243.5 505.0ZM223.1 503.5L235.0 497.0 243.5 505.0 231.6 511.5Z"/><path fill="#2a2673" stroke="#2a2673" d="M211.2 510.0L223.1 503.5 231.6 511.5 219.7 518.1ZM199.3 516.5L211.2 510.0 219.7 518.1 207.8 524.7ZM187.3 522.7L199.3 516.5 207.8 524.7 195.8 530.9Z"/><path fill="#292169" stroke="#292169" d="M175.4 528.0L187.3 522.7 195.8 530.9 183.9 536.1ZM163.5 532.0L175.4 528.0 183.9 536.1 172.0 540.1Z"/><path fill="#45946d" stroke="#45946d" d="M565.4 247.5L569.4 244.3 577.9 262.5 573.9 265.6Z"/><path fill="#3c9372" stroke="#3c9372" d="M553.5 257.0L565.4 247.5 573.9 265.6 562.0 274.7Z"/><path fill="#339276" stroke="#339276" d="M541.6 266.5L553.5 257.0 562.0 274.7 550.1 283.8Z"/><path fill="#248f80" stroke="#248f80" d="M529.6 276.0L541.6 266.5 550.1 283.8 538.1 292.8Z"/><path fill="#1d8d84" stroke="#1d8d84" d="M517.7 285.5L529.6 276.0 538.1 292.8 526.2 301.9Z"/><path fill="#118a8c" stroke="#118a8c" d="M505.8 295.0L517.7 285.5 526.2 301.9 514.3 311.0Z"/><path fill="#0c8890" stroke="#0c8890" d="M493.9 304.5L505.8 295.0 514.3 311.0 502.4 320.2Z"/><path fill="#088694" stroke="#088694" d="M482.0 314.1L493.9 304.5 502.4 320.2 490.5 329.4Z"/><path fill="#05829b" stroke="#05829b" d="M470.0 323.8L482.0 314.1 490.5 329.4 478.5 338.6Z"/><path fill="#05809d" stroke="#05809d" d="M458.1 333.6L470.0 323.8 478.5 338.6 466.6 348.0Z"/><path fill="#057aa2" stroke="#057aa2" d="M446.2 343.6L458.1 333.6 466.6 348.0 454.7 357.5Z"/><path fill="#0777a3" stroke="#0777a3" d="M434.3 353.7L446.2 343.6 454.7 357.5 442.8 367.2Z"/><path fill="#0d6fa4" stroke="#0d6fa4" d="M422.4 363.9L434.3 353.7 442.8 367.2 430.9 377.0Z"/><path fill="#0f6ba4" stroke="#0f6ba4" d="M410.4 374.4L422.4 363.9 430.9 377.0 418.9 387.0Z"/><path fill="#0f64a7" stroke="#0f64a7" d="M398.5 385.1L410.4 374.4 418.9 387.0 407.0 397.2Z"/><path fill="#0e61a8" stroke="#0e61a8" d="M386.6 395.9L398.5 385.1 407.0 397.2 395.1 407.5Z"/><path fill="#0a5bac" stroke="#0a5bac" d="M374.7 406.8L386.6 395.9 395.1 407.5 383.2 417.9Z"/><path fill="#0758ad" stroke="#0758ad" d="M362.7 417.7L374.7 406.8 383.2 417.9 371.2 428.3Z"/><path fill="#0355af" stroke="#0355af" d="M350.8 428.5L362.7 417.7 371.2 428.3 359.3 438.6Z"/><path fill="#024daf" stroke="#024daf" d="M338.9 439.1L350.8 428.5 359.3 438.6 347.4 448.8Z"/><path fill="#0c48ad" stroke="#0c48ad" d="M327.0 449.3L338.9 439.1 347.4 448.8 335.5 458.6Z"/><path fill="#1940a5" stroke="#1940a5" d="M315.1 459.1L327.0 449.3 335.5 458.6 323.6 467.9Z"/><path fill="#223a9b" stroke="#223a9b" d="M303.1 468.3L315.1 459.1 323.6 467.9 311.6 476.7Z"/><path fill="#273591" stroke="#273591" d="M291.2 476.8L303.1 468.3 311.6 476.7 299.7 484.9Z"/><path fill="#292f87" stroke="#292f87" d="M279.3 484.6L291.2 476.8 299.7 484.9 287.8 492.5ZM267.4 491.8L279.3 484.6 287.8 492.5 275.9 499.5Z"/><path fill="#2a2b7d" stroke="#2a2b7d" d="M255.4 498.5L267.4 491.8 275.9 499.5 263.9 506.1ZM243.5 505.0L255.4 498.5 263.9 506.1 252.0 512.6Z"/><path fill="#2a2673" stroke="#2a2673" d="M231.6 511.5L243.5 505.0 252.0 512.6 240.1 519.1ZM219.7 518.1L231.6 511.5 240.1 519.1 228.2 525.8ZM207.8 524.7L219.7 518.1 228.2 525.8 216.3 532.3Z"/><path fill="#292169" stroke="#292169" d="M195.8 530.9L207.8 524.7 216.3 532.3 204.3 538.4ZM183.9 536.1L195.8 530.9 204.3 538.4 192.4 543.6ZM172.0 540.1L183.9 536.1 192.4 543.6 180.5 547.5Z"/><path fill="#2b907b" stroke="#2b907b" d="M573.9 265.6L577.9 262.5 586.4 279.3 582.4 282.3Z"/><path fill="#248f80" stroke="#248f80" d="M562.0 274.7L573.9 265.6 582.4 282.3 570.5 291.0Z"/><path fill="#1d8d84" stroke="#1d8d84" d="M550.1 283.8L562.0 274.7 570.5 291.0 558.6 299.7Z"/><path fill="#178c88" stroke="#178c88" d="M538.1 292.8L550.1 283.8 558.6 299.7 546.6 308.4Z"/><path fill="#0c8890" stroke="#0c8890" d="M526.2 301.9L538.1 292.8 546.6 308.4 534.7 317.2Z"/><path fill="#088694" stroke="#088694" d="M514.3 311.0L526.2 301.9 534.7 317.2 522.8 325.9Z"/><path fill="#058497" stroke="#058497" d="M502.4 320.2L514.3 311.0 522.8 325.9 510.9 334.7Z"/><path fill="#05809d" stroke="#05809d" d="M490.5 329.4L502.4 320.2 510.9 334.7 499.0 343.5Z"/><path fill="#057da0" stroke="#057da0" d="M478.5 338.6L490.5 329.4 499.0 343.5 487.0 352.4Z"/><path fill="#057aa2" stroke="#057aa2" d="M466.6 348.0L478.5 338.6 487.0 352.4 475.1 361.4Z"/><path fill="#0a73a4" stroke="#0a73a4" d="M454.7 357.5L466.6 348.0 475.1 361.4 463.2 370.5Z"/><path fill="#0d6fa4" stroke="#0d6fa4" d="M442.8 367.2L454.7 357.5 463.2 370.5 451.3 379.8Z"/><path fill="#0f6ba4" stroke="#0f6ba4" d="M430.9 377.0L442.8 367.2 451.3 379.8 439.3 389.2Z"/><path fill="#0f64a7" stroke="#0f64a7" d="M418.9 387.0L430.9 377.0 439.3 389.2 427.4 398.8Z"/><path fill="#0e61a8" stroke="#0e61a8" d="M407.0 397.2L418.9 387.0 427.4 398.8 415.5 408.5Z"/><path fill="#0d5eaa" stroke="#0d5eaa" d="M395.1 407.5L407.0 397.2 415.5 408.5 403.6 418.4Z"/><path fill="#0758ad" stroke="#0758ad" d="M383.2 417.9L395.1 407.5 403.6 418.4 391.7 428.4Z"/><path fill="#0355af" stroke="#0355af" d="M371.2 428.3L383.2 417.9 391.7 428.4 379.7 438.3Z"/><path fill="#0151b0" stroke="#0151b0" d="M359.3 438.6L371.2 428.3 379.7 438.3 367.8 448.2Z"/><path fill="#0c48ad" stroke="#0c48ad" d="M347.4 448.8L359.3 438.6 367.8 448.2 355.9 457.9Z"/><path fill="#1940a5" stroke="#1940a5" d="M335.5 458.6L347.4 448.8 355.9 457.9 344.0 467.3Z"/><path fill="#223a9b" stroke="#223a9b" d="M323.6 467.9L335.5 458.6 344.0 467.3 332.1 476.3Z"/><path fill="#273591" stroke="#273591" d="M311.6 476.7L323.6 467.9 332.1 476.3 320.1 484.8ZM299.7 484.9L311.6 476.7 320.1 484.8 308.2 492.7Z"/><path fill="#292f87" stroke="#292f87" d="M287.8 492.5L299.7 484.9 308.2 492.7 296.3 500.0Z"/><path fill="#2a2b7d" stroke="#2a2b7d" d="M275.9 499.5L287.8 492.5 296.3 500.0 284.4 506.9ZM263.9 506.1L275.9 499.5 284.4 506.9 272.4 513.4Z"/><path fill="#2a2673" stroke="#2a2673" d="M252.0 512.6L263.9 506.1 272.4 513.4 260.5 519.8ZM240.1 519.1L252.0 512.6 260.5 519.8 248.6 526.3ZM228.2 525.8L240.1 519.1 248.6 526.3 236.7 532.9Z"/><path fill="#292169" stroke="#292169" d="M216.3 532.3L228.2 525.8 236.7 532.9 224.8 539.5ZM204.3 538.4L216.3 532.3 224.8 539.5 212.8 545.5ZM192.4 543.6L204.3 538.4 212.8 545.5 200.9 550.6ZM180.5 547.5L192.4 543.6 200.9 550.6 189.0 554.5Z"/><path fill="#178c88" stroke="#178c88" d="M582.4 282.3L586.4 279.3 594.9 294.8 590.9 297.7ZM570.5 291.0L582.4 282.3 590.9 297.7 579.0 306.1Z"/><path fill="#0c8890" stroke="#0c8890" d="M558.6 299.7L570.5 291.0 579.0 306.1 567.1 314.5Z"/><path fill="#088694" stroke="#088694" d="M546.6 308.4L558.6 299.7 567.1 314.5 555.1 322.9Z"/><path fill="#058497" stroke="#058497" d="M534.7 317.2L546.6 308.4 555.1 322.9 543.2 331.3Z"/><path fill="#05829b" stroke="#05829b" d="M522.8 325.9L534.7 317.2 543.2 331.3 531.3 339.7Z"/><path fill="#057da0" stroke="#057da0" d="M510.9 334.7L522.8 325.9 531.3 339.7 519.4 348.1Z"/><path fill="#057aa2" stroke="#057aa2" d="M499.0 343.5L510.9 334.7 519.4 348.1 507.5 356.6Z"/><path fill="#0777a3" stroke="#0777a3" d="M487.0 352.4L499.0 343.5 507.5 356.6 495.5 365.2Z"/><path fill="#0a73a4" stroke="#0a73a4" d="M475.1 361.4L487.0 352.4 495.5 365.2 483.6 373.8Z"/><path fill="#0d6fa4" stroke="#0d6fa4" d="M463.2 370.5L475.1 361.4 483.6 373.8 471.7 382.6Z"/><path fill="#1067a5" stroke="#1067a5" d="M451.3 379.8L463.2 370.5 471.7 382.6 459.8 391.5Z"/><path fill="#0f64a7" stroke="#0f64a7" d="M439.3 389.2L451.3 379.8 459.8 391.5 447.8 400.6Z"/><path fill="#0e61a8" stroke="#0e61a8" d="M427.4 398.8L439.3 389.2 447.8 400.6 435.9 409.8Z"/><path fill="#0d5eaa" stroke="#0d5eaa" d="M415.5 408.5L427.4 398.8 435.9 409.8 424.0 419.2Z"/><path fill="#0758ad" stroke="#0758ad" d="M403.6 418.4L415.5 408.5 424.0 419.2 412.1 428.6Z"/><path fill="#0355af" stroke="#0355af" d="M391.7 428.4L403.6 418.4 412.1 428.6 400.2 438.2Z"/><path fill="#0151b0" stroke="#0151b0" d="M379.7 438.3L391.7 428.4 400.2 438.2 388.2 447.8Z"/><path fill="#024daf" stroke="#024daf" d="M367.8 448.2L379.7 438.3 388.2 447.8 376.3 457.3Z"/><path fill="#0c48ad" stroke="#0c48ad" d="M355.9 457.9L367.8 448.2 376.3 457.3 364.4 466.6Z"/><path fill="#1940a5" stroke="#1940a5" d="M344.0 467.3L355.9 457.9 364.4 466.6 352.5 475.6Z"/><path fill="#223a9b" stroke="#223a9b" d="M332.1 476.3L344.0 467.3 352.5 475.6 340.6 484.3Z"/><path fill="#273591" stroke="#273591" d="M320.1 484.8L332.1 476.3 340.6 484.3 328.6 492.4Z"/><path fill="#292f87" stroke="#292f87" d="M308.2 492.7L320.1 484.8 328.6 492.4 316.7 500.1Z"/><path fill="#2a2b7d" stroke="#2a2b7d" d="M296.3 500.0L308.2 492.7 316.7 500.1 304.8 507.2ZM284.4 506.9L296.3 500.0 304.8 507.2 292.9 513.9Z"/><path fill="#2a2673" stroke="#2a2673" d="M272.4 513.4L284.4 506.9 292.9 513.9 280.9 520.4ZM260.5 519.8L272.4 513.4 280.9 520.4 269.0 526.7ZM248.6 526.3L260.5 519.8 269.0 526.7 257.1 533.2Z"/><path fill="#292169" stroke="#292169" d="M236.7 532.9L248.6 526.3 257.1 533.2 245.2 539.7ZM224.8 539.5L236.7 532.9 245.2 539.7 233.3 546.2ZM212.8 545.5L224.8 539.5 233.3 546.2 221.3 552.1ZM200.9 550.6L212.8 545.5 221.3 552.1 209.4 557.2ZM189.0 554.5L200.9 550.6 209.4 557.2 197.5 561.0Z"/><path fill="#0c8890" stroke="#0c8890" d="M590.9 297.7L594.9 294.8 603.4 309.2 599.4 311.9Z"/><path fill="#088694" stroke="#088694" d="M579.0 306.1L590.9 297.7 599.4 311.9 587.5 320.0Z"/><path fill="#058497" stroke="#058497" d="M567.1 314.5L579.0 306.1 587.5 320.0 575.6 328.1Z"/><path fill="#05829b" stroke="#05829b" d="M555.1 322.9L567.1 314.5 575.6 328.1 563.6 336.2Z"/><path fill="#05809d" stroke="#05809d" d="M543.2 331.3L555.1 322.9 563.6 336.2 551.7 344.3Z"/><path fill="#057da0" stroke="#057da0" d="M531.3 339.7L543.2 331.3 551.7 344.3 539.8 352.5Z"/><path fill="#0777a3" stroke="#0777a3" d="M519.4 348.1L531.3 339.7 539.8 352.5 527.9 360.6Z"/><path fill="#0a73a4" stroke="#0a73a4" d="M507.5 356.6L519.4 348.1 527.9 360.6 516.0 368.8Z"/><path fill="#0d6fa4" stroke="#0d6fa4" d="M495.5 365.2L507.5 356.6 516.0 368.8 504.0 377.1Z"/><path fill="#0f6ba4" stroke="#0f6ba4" d="M483.6 373.8L495.5 365.2 504.0 377.1 492.1 385.4Z"/><path fill="#1067a5" stroke="#1067a5" d="M471.7 382.6L483.6 373.8 492.1 385.4 480.2 393.9Z"/><path fill="#0f64a7" stroke="#0f64a7" d="M459.8 391.5L471.7 382.6 480.2 393.9 468.3 402.5Z"/><path fill="#0e61a8" stroke="#0e61a8" d="M447.8 400.6L459.8 391.5 468.3 402.5 456.3 411.2Z"/><path fill="#0d5eaa" stroke="#0d5eaa" d="M435.9 409.8L447.8 400.6 456.3 411.2 444.4 420.1Z"/><path fill="#0758ad" stroke="#0758ad" d="M424.0 419.2L435.9 409.8 444.4 420.1 432.5 429.1Z"/><path fill="#0355af" stroke="#0355af" d="M412.1 428.6L424.0 419.2 432.5 429.1 420.6 438.3Z"/><path fill="#0151b0" stroke="#0151b0" d="M400.2 438.2L412.1 428.6 420.6 438.3 408.7 447.5Z"/><path fill="#024daf" stroke="#024daf" d="M388.2 447.8L400.2 438.2 408.7 447.5 396.7 456.7Z"/><path fill="#0c48ad" stroke="#0c48ad" d="M376.3 457.3L388.2 447.8 396.7 456.7 384.8 465.8Z"/><path fill="#1940a5" stroke="#1940a5" d="M364.4 466.6L376.3 457.3 384.8 465.8 372.9 474.8Z"/><path fill="#223a9b" stroke="#223a9b" d="M352.5 475.6L364.4 466.6 372.9 474.8 361.0 483.5Z"/><path fill="#273591" stroke="#273591" d="M340.6 484.3L352.5 475.6 361.0 483.5 349.0 491.9Z"/><path fill="#292f87" stroke="#292f87" d="M328.6 492.4L340.6 484.3 349.0 491.9 337.1 499.8ZM316.7 500.1L328.6 492.4 337.1 499.8 325.2 507.2Z"/><path fill="#2a2b7d" stroke="#2a2b7d" d="M304.8 507.2L316.7 500.1 325.2 507.2 313.3 514.1ZM292.9 513.9L304.8 507.2 313.3 514.1 301.4 520.7Z"/><path fill="#2a2673" stroke="#2a2673" d="M280.9 520.4L292.9 513.9 301.4 520.7 289.4 527.0ZM269.0 526.7L280.9 520.4 289.4 527.0 277.5 533.3Z"/><path fill="#292169" stroke="#292169" d="M257.1 533.2L269.0 526.7 277.5 533.3 265.6 539.7ZM245.2 539.7L257.1 533.2 265.6 539.7 253.7 546.2ZM233.3 546.2L245.2 539.7 253.7 546.2 241.8 552.6ZM221.3 552.1L233.3 546.2 241.8 552.6 229.8 558.4ZM209.4 557.2L221.3 552.1 229.8 558.4 217.9 563.4ZM197.5 561.0L209.4 557.2 217.9 563.4 206.0 567.2Z"/><path fill="#058497" stroke="#058497" d="M599.4 311.9L603.4 309.2 611.9 322.5 607.9 325.1Z"/><path fill="#05829b" stroke="#05829b" d="M587.5 320.0L599.4 311.9 607.9 325.1 596.0 333.0Z"/><path fill="#05809d" stroke="#05809d" d="M575.6 328.1L587.5 320.0 596.0 333.0 584.1 340.8Z"/><path fill="#057da0" stroke="#057da0" d="M563.6 336.2L575.6 328.1 584.1 340.8 572.1 348.7Z"/><path fill="#057aa2" stroke="#057aa2" d="M551.7 344.3L563.6 336.2 572.1 348.7 560.2 356.5Z"/><path fill="#0777a3" stroke="#0777a3" d="M539.8 352.5L551.7 344.3 560.2 356.5 548.3 364.4Z"/><path fill="#0a73a4" stroke="#0a73a4" d="M527.9 360.6L539.8 352.5 548.3 364.4 536.4 372.3Z"/><path fill="#0d6fa4" stroke="#0d6fa4" d="M516.0 368.8L527.9 360.6 536.4 372.3 524.5 380.2Z"/><path fill="#0f6ba4" stroke="#0f6ba4" d="M504.0 377.1L516.0 368.8 524.5 380.2 512.5 388.2Z"/><path fill="#1067a5" stroke="#1067a5" d="M492.1 385.4L504.0 377.1 512.5 388.2 500.6 396.3Z"/><path fill="#0f64a7" stroke="#0f64a7" d="M480.2 393.9L492.1 385.4 500.6 396.3 488.7 404.5Z"/><path fill="#0e61a8" stroke="#0e61a8" d="M468.3 402.5L480.2 393.9 488.7 404.5 476.8 412.8Z"/><path fill="#0d5eaa" stroke="#0d5eaa" d="M456.3 411.2L468.3 402.5 476.8 412.8 464.8 421.2Z"/><path fill="#0758ad" stroke="#0758ad" d="M444.4 420.1L456.3 411.2 464.8 421.2 452.9 429.8Z"/><path fill="#0355af" stroke="#0355af" d="M432.5 429.1L444.4 420.1 452.9 429.8 441.0 438.5Z"/><path fill="#0151b0" stroke="#0151b0" d="M420.6 438.3L432.5 429.1 441.0 438.5 429.1 447.4Z"/><path fill="#024daf" stroke="#024daf" d="M408.7 447.5L420.6 438.3 429.1 447.4 417.2 456.3Z"/><path fill="#0c48ad" stroke="#0c48ad" d="M396.7 456.7L408.7 447.5 417.2 456.3 405.2 465.2Z"/><path fill="#1940a5" stroke="#1940a5" d="M384.8 465.8L396.7 456.7 405.2 465.2 393.3 474.0Z"/><path fill="#223a9b" stroke="#223a9b" d="M372.9 474.8L384.8 465.8 393.3 474.0 381.4 482.7Z"/><path fill="#273591" stroke="#273591" d="M361.0 483.5L372.9 474.8 381.4 482.7 369.5 491.1ZM349.0 491.9L361.0 483.5 369.5 491.1 357.5 499.2Z"/><path fill="#292f87" stroke="#292f87" d="M337.1 499.8L349.0 491.9 357.5 499.2 345.6 506.8Z"/><path fill="#2a2b7d" stroke="#2a2b7d" d="M325.2 507.2L337.1 499.8 345.6 506.8 333.7 514.0ZM313.3 514.1L325.2 507.2 333.7 514.0 321.8 520.8Z"/><path fill="#2a2673" stroke="#2a2673" d="M301.4 520.7L313.3 514.1 321.8 520.8 309.9 527.2ZM289.4 527.0L301.4 520.7 309.9 527.2 297.9 533.5ZM277.5 533.3L289.4 527.0 297.9 533.5 286.0 539.7Z"/><path fill="#292169" stroke="#292169" d="M265.6 539.7L277.5 533.3 286.0 539.7 274.1 546.0ZM253.7 546.2L265.6 539.7 274.1 546.0 262.2 552.5ZM241.8 552.6L253.7 546.2 262.2 552.5 250.2 558.7ZM229.8 558.4L241.8 552.6 250.2 558.7 238.3 564.5ZM217.9 563.4L229.8 558.4 238.3 564.5 226.4 569.4ZM206.0 567.2L217.9 563.4 226.4 569.4 214.5 573.1Z"/><path fill="#05809d" stroke="#05809d" d="M607.9 325.1L611.9 322.5 620.4 334.9 616.4 337.5Z"/><path fill="#057da0" stroke="#057da0" d="M596.0 333.0L607.9 325.1 616.4 337.5 604.5 345.1Z"/><path fill="#057aa2" stroke="#057aa2" d="M584.1 340.8L596.0 333.0 604.5 345.1 592.6 352.7Z"/><path fill="#0777a3" stroke="#0777a3" d="M572.1 348.7L584.1 340.8 592.6 352.7 580.6 360.3Z"/><path fill="#0a73a4" stroke="#0a73a4" d="M560.2 356.5L572.1 348.7 580.6 360.3 568.7 368.0Z"/><path fill="#0d6fa4" stroke="#0d6fa4" d="M548.3 364.4L560.2 356.5 568.7 368.0 556.8 375.6Z"/><path fill="#0f6ba4" stroke="#0f6ba4" d="M536.4 372.3L548.3 364.4 556.8 375.6 544.9 383.2Z"/><path fill="#1067a5" stroke="#1067a5" d="M524.5 380.2L536.4 372.3 544.9 383.2 533.0 390.9Z"/><path fill="#0f64a7" stroke="#0f64a7" d="M512.5 388.2L524.5 380.2 533.0 390.9 521.0 398.7Z"/><path fill="#0e61a8" stroke="#0e61a8" d="M500.6 396.3L512.5 388.2 521.0 398.7 509.1 406.5Z"/><path fill="#0d5eaa" stroke="#0d5eaa" d="M488.7 404.5L500.6 396.3 509.1 406.5 497.2 414.5Z"/><path fill="#0a5bac" stroke="#0a5bac" d="M476.8 412.8L488.7 404.5 497.2 414.5 485.3 422.5Z"/><path fill="#0758ad" stroke="#0758ad" d="M464.8 421.2L476.8 412.8 485.3 422.5 473.3 430.7Z"/><path fill="#0355af" stroke="#0355af" d="M452.9 429.8L464.8 421.2 473.3 430.7 461.4 439.0Z"/><path fill="#0151b0" stroke="#0151b0" d="M441.0 438.5L452.9 429.8 461.4 439.0 449.5 447.5Z"/><path fill="#024daf" stroke="#024daf" d="M429.1 447.4L441.0 438.5 449.5 447.5 437.6 456.0Z"/><path fill="#0c48ad" stroke="#0c48ad" d="M417.2 456.3L429.1 447.4 437.6 456.0 425.7 464.6ZM405.2 465.2L417.2 456.3 425.7 464.6 413.7 473.2Z"/><path fill="#1940a5" stroke="#1940a5" d="M393.3 474.0L405.2 465.2 413.7 473.2 401.8 481.8Z"/><path fill="#223a9b" stroke="#223a9b" d="M381.4 482.7L393.3 474.0 401.8 481.8 389.9 490.2Z"/><path fill="#273591" stroke="#273591" d="M369.5 491.1L381.4 482.7 389.9 490.2 378.0 498.3Z"/><path fill="#292f87" stroke="#292f87" d="M357.5 499.2L369.5 491.1 378.0 498.3 366.0 506.2ZM345.6 506.8L357.5 499.2 366.0 506.2 354.1 513.6Z"/><path fill="#2a2b7d" stroke="#2a2b7d" d="M333.7 514.0L345.6 506.8 354.1 513.6 342.2 520.6Z"/><path fill="#2a2673" stroke="#2a2673" d="M321.8 520.8L333.7 514.0 342.2 520.6 330.3 527.2ZM309.9 527.2L321.8 520.8 330.3 527.2 318.4 533.6ZM297.9 533.5L309.9 527.2 318.4 533.6 306.4 539.7Z"/><path fill="#292169" stroke="#292169" d="M286.0 539.7L297.9 533.5 306.4 539.7 294.5 545.9ZM274.1 546.0L286.0 539.7 294.5 545.9 282.6 552.1ZM262.2 552.5L274.1 546.0 282.6 552.1 270.7 558.5ZM250.2 558.7L262.2 552.5 270.7 558.5 258.7 564.7ZM238.3 564.5L250.2 558.7 258.7 564.7 246.8 570.3ZM226.4 569.4L238.3 564.5 246.8 570.3 234.9 575.1ZM214.5 573.1L226.4 569.4 234.9 575.1 223.0 578.9Z"/><path fill="#057aa2" stroke="#057aa2" d="M616.4 337.5L620.4 334.9 628.9 346.6 624.9 349.1ZM604.5 345.1L616.4 337.5 624.9 349.1 613.0 356.5Z"/><path fill="#0777a3" stroke="#0777a3" d="M592.6 352.7L604.5 345.1 613.0 356.5 601.1 363.9Z"/><path fill="#0a73a4" stroke="#0a73a4" d="M580.6 360.3L592.6 352.7 601.1 363.9 589.1 371.3Z"/><path fill="#0d6fa4" stroke="#0d6fa4" d="M568.7 368.0L580.6 360.3 589.1 371.3 577.2 378.7Z"/><path fill="#0f6ba4" stroke="#0f6ba4" d="M556.8 375.6L568.7 368.0 577.2 378.7 565.3 386.1Z"/><path fill="#1067a5" stroke="#1067a5" d="M544.9 383.2L556.8 375.6 565.3 386.1 553.4 393.6Z"/><path fill="#0f64a7" stroke="#0f64a7" d="M533.0 390.9L544.9 383.2 553.4 393.6 541.5 401.1Z"/><path fill="#0e61a8" stroke="#0e61a8" d="M521.0 398.7L533.0 390.9 541.5 401.1 529.5 408.6Z"/><path fill="#0d5eaa" stroke="#0d5eaa" d="M509.1 406.5L521.0 398.7 529.5 408.6 517.6 416.2Z"/><path fill="#0a5bac" stroke="#0a5bac" d="M497.2 414.5L509.1 406.5 517.6 416.2 505.7 423.9Z"/><path fill="#0758ad" stroke="#0758ad" d="M485.3 422.5L497.2 414.5 505.7 423.9 493.8 431.7ZM473.3 430.7L485.3 422.5 493.8 431.7 481.8 439.7Z"/><path fill="#0355af" stroke="#0355af" d="M461.4 439.0L473.3 430.7 481.8 439.7 469.9 447.7Z"/><path fill="#0151b0" stroke="#0151b0" d="M449.5 447.5L461.4 439.0 469.9 447.7 458.0 455.9Z"/><path fill="#024daf" stroke="#024daf" d="M437.6 456.0L449.5 447.5 458.0 455.9 446.1 464.2Z"/><path fill="#0c48ad" stroke="#0c48ad" d="M425.7 464.6L437.6 456.0 446.1 464.2 434.2 472.6Z"/><path fill="#1940a5" stroke="#1940a5" d="M413.7 473.2L425.7 464.6 434.2 472.6 422.2 480.9Z"/><path fill="#223a9b" stroke="#223a9b" d="M401.8 481.8L413.7 473.2 422.2 480.9 410.3 489.2Z"/><path fill="#273591" stroke="#273591" d="M389.9 490.2L401.8 481.8 410.3 489.2 398.4 497.4Z"/><path fill="#292f87" stroke="#292f87" d="M378.0 498.3L389.9 490.2 398.4 497.4 386.5 505.3ZM366.0 506.2L378.0 498.3 386.5 505.3 374.5 512.9Z"/><path fill="#2a2b7d" stroke="#2a2b7d" d="M354.1 513.6L366.0 506.2 374.5 512.9 362.6 520.2ZM342.2 520.6L354.1 513.6 362.6 520.2 350.7 527.0Z"/><path fill="#2a2673" stroke="#2a2673" d="M330.3 527.2L342.2 520.6 350.7 527.0 338.8 533.5ZM318.4 533.6L330.3 527.2 338.8 533.5 326.9 539.7Z"/><path fill="#292169" stroke="#292169" d="M306.4 539.7L318.4 533.6 326.9 539.7 314.9 545.8ZM294.5 545.9L306.4 539.7 314.9 545.8 303.0 551.8ZM282.6 552.1L294.5 545.9 303.0 551.8 291.1 558.1ZM270.7 558.5L282.6 552.1 291.1 558.1 279.2 564.3ZM258.7 564.7L270.7 558.5 279.2 564.3 267.2 570.4ZM246.8 570.3L258.7 564.7 267.2 570.4 255.3 576.0ZM234.9 575.1L246.8 570.3 255.3 576.0 243.4 580.7ZM223.0 578.9L234.9 575.1 243.4 580.7 231.5 584.5Z"/><path fill="#0777a3" stroke="#0777a3" d="M624.9 349.1L628.9 346.6 637.4 357.6 633.4 360.0Z"/><path fill="#0a73a4" stroke="#0a73a4" d="M613.0 356.5L624.9 349.1 633.4 360.0 621.5 367.2Z"/><path fill="#0d6fa4" stroke="#0d6fa4" d="M601.1 363.9L613.0 356.5 621.5 367.2 609.6 374.4Z"/><path fill="#0f6ba4" stroke="#0f6ba4" d="M589.1 371.3L601.1 363.9 609.6 374.4 597.6 381.7ZM577.2 378.7L589.1 371.3 597.6 381.7 585.7 388.9Z"/><path fill="#1067a5" stroke="#1067a5" d="M565.3 386.1L577.2 378.7 585.7 388.9 573.8 396.1Z"/><path fill="#0f64a7" stroke="#0f64a7" d="M553.4 393.6L565.3 386.1 573.8 396.1 561.9 403.3Z"/><path fill="#0e61a8" stroke="#0e61a8" d="M541.5 401.1L553.4 393.6 561.9 403.3 550.0 410.6Z"/><path fill="#0d5eaa" stroke="#0d5eaa" d="M529.5 408.6L541.5 401.1 550.0 410.6 538.0 418.0Z"/><path fill="#0a5bac" stroke="#0a5bac" d="M517.6 416.2L529.5 408.6 538.0 418.0 526.1 425.4Z"/><path fill="#0758ad" stroke="#0758ad" d="M505.7 423.9L517.6 416.2 526.1 425.4 514.2 432.9ZM493.8 431.7L505.7 423.9 514.2 432.9 502.3 440.5Z"/><path fill="#0355af" stroke="#0355af" d="M481.8 439.7L493.8 431.7 502.3 440.5 490.3 448.2Z"/><path fill="#0151b0" stroke="#0151b0" d="M469.9 447.7L481.8 439.7 490.3 448.2 478.4 456.1Z"/><path fill="#024daf" stroke="#024daf" d="M458.0 455.9L469.9 447.7 478.4 456.1 466.5 464.0Z"/><path fill="#0c48ad" stroke="#0c48ad" d="M446.1 464.2L458.0 455.9 466.5 464.0 454.6 472.1Z"/><path fill="#1940a5" stroke="#1940a5" d="M434.2 472.6L446.1 464.2 454.6 472.1 442.7 480.2Z"/><path fill="#223a9b" stroke="#223a9b" d="M422.2 480.9L434.2 472.6 442.7 480.2 430.7 488.3ZM410.3 489.2L422.2 480.9 430.7 488.3 418.8 496.4Z"/><path fill="#273591" stroke="#273591" d="M398.4 497.4L410.3 489.2 418.8 496.4 406.9 504.3Z"/><path fill="#292f87" stroke="#292f87" d="M386.5 505.3L398.4 497.4 406.9 504.3 395.0 512.0Z"/><path fill="#2a2b7d" stroke="#2a2b7d" d="M374.5 512.9L386.5 505.3 395.0 512.0 383.0 519.5ZM362.6 520.2L374.5 512.9 383.0 519.5 371.1 526.5Z"/><path fill="#2a2673" stroke="#2a2673" d="M350.7 527.0L362.6 520.2 371.1 526.5 359.2 533.2ZM338.8 533.5L350.7 527.0 359.2 533.2 347.3 539.6ZM326.9 539.7L338.8 533.5 347.3 539.6 335.4 545.7Z"/><path fill="#292169" stroke="#292169" d="M314.9 545.8L326.9 539.7 335.4 545.7 323.4 551.7ZM303.0 551.8L314.9 545.8 323.4 551.7 311.5 557.7ZM291.1 558.1L303.0 551.8 311.5 557.7 299.6 563.8ZM279.2 564.3L291.1 558.1 299.6 563.8 287.7 570.0ZM267.2 570.4L279.2 564.3 287.7 570.0 275.7 576.0ZM255.3 576.0L267.2 570.4 275.7 576.0 263.8 581.5ZM243.4 580.7L255.3 576.0 263.8 581.5 251.9 586.2ZM231.5 584.5L243.4 580.7 251.9 586.2 240.0 589.9Z"/><path fill="#0d6fa4" stroke="#0d6fa4" d="M633.4 360.0L637.4 357.6 645.9 368.0 641.9 370.4ZM621.5 367.2L633.4 360.0 641.9 370.4 630.0 377.4Z"/><path fill="#0f6ba4" stroke="#0f6ba4" d="M609.6 374.4L621.5 367.2 630.0 377.4 618.1 384.4Z"/><path fill="#1067a5" stroke="#1067a5" d="M597.6 381.7L609.6 374.4 618.1 384.4 606.1 391.5Z"/><path fill="#0f64a7" stroke="#0f64a7" d="M585.7 388.9L597.6 381.7 606.1 391.5 594.2 398.5ZM573.8 396.1L585.7 388.9 594.2 398.5 582.3 405.6Z"/><path fill="#0e61a8" stroke="#0e61a8" d="M561.9 403.3L573.8 396.1 582.3 405.6 570.4 412.6Z"/><path fill="#0d5eaa" stroke="#0d5eaa" d="M550.0 410.6L561.9 403.3 570.4 412.6 558.5 419.8Z"/><path fill="#0a5bac" stroke="#0a5bac" d="M538.0 418.0L550.0 410.6 558.5 419.8 546.5 426.9Z"/><path fill="#0758ad" stroke="#0758ad" d="M526.1 425.4L538.0 418.0 546.5 426.9 534.6 434.2ZM514.2 432.9L526.1 425.4 534.6 434.2 522.7 441.5Z"/><path fill="#0355af" stroke="#0355af" d="M502.3 440.5L514.2 432.9 522.7 441.5 510.8 448.9Z"/><path fill="#0151b0" stroke="#0151b0" d="M490.3 448.2L502.3 440.5 510.8 448.9 498.8 456.4Z"/><path fill="#024daf" stroke="#024daf" d="M478.4 456.1L490.3 448.2 498.8 456.4 486.9 464.1Z"/><path fill="#0c48ad" stroke="#0c48ad" d="M466.5 464.0L478.4 456.1 486.9 464.1 475.0 471.8ZM454.6 472.1L466.5 464.0 475.0 471.8 463.1 479.7Z"/><path fill="#1940a5" stroke="#1940a5" d="M442.7 480.2L454.6 472.1 463.1 479.7 451.2 487.6Z"/><path fill="#223a9b" stroke="#223a9b" d="M430.7 488.3L442.7 480.2 451.2 487.6 439.2 495.5Z"/><path fill="#273591" stroke="#273591" d="M418.8 496.4L430.7 488.3 439.2 495.5 427.3 503.3Z"/><path fill="#292f87" stroke="#292f87" d="M406.9 504.3L418.8 496.4 427.3 503.3 415.4 511.1ZM395.0 512.0L406.9 504.3 415.4 511.1 403.5 518.6Z"/><path fill="#2a2b7d" stroke="#2a2b7d" d="M383.0 519.5L395.0 512.0 403.5 518.6 391.5 525.8ZM371.1 526.5L383.0 519.5 391.5 525.8 379.6 532.7Z"/><path fill="#2a2673" stroke="#2a2673" d="M359.2 533.2L371.1 526.5 379.6 532.7 367.7 539.3ZM347.3 539.6L359.2 533.2 367.7 539.3 355.8 545.5Z"/><path fill="#292169" stroke="#292169" d="M335.4 545.7L347.3 539.6 355.8 545.5 343.9 551.5ZM323.4 551.7L335.4 545.7 343.9 551.5 331.9 557.4ZM311.5 557.7L323.4 551.7 331.9 557.4 320.0 563.4ZM299.6 563.8L311.5 557.7 320.0 563.4 308.1 569.5ZM287.7 570.0L299.6 563.8 308.1 569.5 296.2 575.6ZM275.7 576.0L287.7 570.0 296.2 575.6 284.2 581.5ZM263.8 581.5L275.7 576.0 284.2 581.5 272.3 586.9ZM251.9 586.2L263.8 581.5 272.3 586.9 260.4 591.5ZM240.0 589.9L251.9 586.2 260.4 591.5 248.5 595.2Z"/><path fill="#0f6ba4" stroke="#0f6ba4" d="M641.9 370.4L645.9 368.0 654.4 377.9 650.4 380.2ZM630.0 377.4L641.9 370.4 650.4 380.2 638.5 387.1Z"/><path fill="#1067a5" stroke="#1067a5" d="M618.1 384.4L630.0 377.4 638.5 387.1 626.6 394.0Z"/><path fill="#0f64a7" stroke="#0f64a7" d="M606.1 391.5L618.1 384.4 626.6 394.0 614.6 400.8Z"/><path fill="#0e61a8" stroke="#0e61a8" d="M594.2 398.5L606.1 391.5 614.6 400.8 602.7 407.7ZM582.3 405.6L594.2 398.5 602.7 407.7 590.8 414.6Z"/><path fill="#0d5eaa" stroke="#0d5eaa" d="M570.4 412.6L582.3 405.6 590.8 414.6 578.9 421.5Z"/><path fill="#0a5bac" stroke="#0a5bac" d="M558.5 419.8L570.4 412.6 578.9 421.5 567.0 428.5Z"/><path fill="#0758ad" stroke="#0758ad" d="M546.5 426.9L558.5 419.8 567.0 428.5 555.0 435.5ZM534.6 434.2L546.5 426.9 555.0 435.5 543.1 442.6Z"/><path fill="#0355af" stroke="#0355af" d="M522.7 441.5L534.6 434.2 543.1 442.6 531.2 449.7Z"/><path fill="#0151b0" stroke="#0151b0" d="M510.8 448.9L522.7 441.5 531.2 449.7 519.3 456.9Z"/><path fill="#024daf" stroke="#024daf" d="M498.8 456.4L510.8 448.9 519.3 456.9 507.3 464.3ZM486.9 464.1L498.8 456.4 507.3 464.3 495.4 471.8Z"/><path fill="#0c48ad" stroke="#0c48ad" d="M475.0 471.8L486.9 464.1 495.4 471.8 483.5 479.3Z"/><path fill="#1940a5" stroke="#1940a5" d="M463.1 479.7L475.0 471.8 483.5 479.3 471.6 487.0Z"/><path fill="#223a9b" stroke="#223a9b" d="M451.2 487.6L463.1 479.7 471.6 487.0 459.7 494.7ZM439.2 495.5L451.2 487.6 459.7 494.7 447.7 502.4Z"/><path fill="#273591" stroke="#273591" d="M427.3 503.3L439.2 495.5 447.7 502.4 435.8 510.1Z"/><path fill="#292f87" stroke="#292f87" d="M415.4 511.1L427.3 503.3 435.8 510.1 423.9 517.6Z"/><path fill="#2a2b7d" stroke="#2a2b7d" d="M403.5 518.6L415.4 511.1 423.9 517.6 412.0 524.9ZM391.5 525.8L403.5 518.6 412.0 524.9 400.0 532.0Z"/><path fill="#2a2673" stroke="#2a2673" d="M379.6 532.7L391.5 525.8 400.0 532.0 388.1 538.8ZM367.7 539.3L379.6 532.7 388.1 538.8 376.2 545.2ZM355.8 545.5L367.7 539.3 376.2 545.2 364.3 551.3Z"/><path fill="#292169" stroke="#292169" d="M343.9 551.5L355.8 545.5 364.3 551.3 352.4 557.2ZM331.9 557.4L343.9 551.5 352.4 557.2 340.4 563.1ZM320.0 563.4L331.9 557.4 340.4 563.1 328.5 569.0ZM308.1 569.5L320.0 563.4 328.5 569.0 316.6 575.0ZM296.2 575.6L308.1 569.5 316.6 575.0 304.7 581.0ZM284.2 581.5L296.2 575.6 304.7 581.0 292.7 586.9ZM272.3 586.9L284.2 581.5 292.7 586.9 280.8 592.2ZM260.4 591.5L272.3 586.9 280.8 592.2 268.9 596.8ZM248.5 595.2L260.4 591.5 268.9 596.8 257.0 600.4Z"/><path fill="#1067a5" stroke="#1067a5" d="M650.4 380.2L654.4 377.9 662.9 387.3 658.9 389.6ZM638.5 387.1L650.4 380.2 658.9 389.6 647.0 396.3Z"/><path fill="#0f64a7" stroke="#0f64a7" d="M626.6 394.0L638.5 387.1 647.0 396.3 635.1 403.1Z"/><path fill="#0e61a8" stroke="#0e61a8" d="M614.6 400.8L626.6 394.0 635.1 403.1 623.1 409.8Z"/><path fill="#0d5eaa" stroke="#0d5eaa" d="M602.7 407.7L614.6 400.8 623.1 409.8 611.2 416.5ZM590.8 414.6L602.7 407.7 611.2 416.5 599.3 423.3Z"/><path fill="#0a5bac" stroke="#0a5bac" d="M578.9 421.5L590.8 414.6 599.3 423.3 587.4 430.1Z"/><path fill="#0758ad" stroke="#0758ad" d="M567.0 428.5L578.9 421.5 587.4 430.1 575.5 436.9ZM555.0 435.5L567.0 428.5 575.5 436.9 563.5 443.7Z"/><path fill="#0355af" stroke="#0355af" d="M543.1 442.6L555.0 435.5 563.5 443.7 551.6 450.6Z"/><path fill="#0151b0" stroke="#0151b0" d="M531.2 449.7L543.1 442.6 551.6 450.6 539.7 457.6Z"/><path fill="#024daf" stroke="#024daf" d="M519.3 456.9L531.2 449.7 539.7 457.6 527.8 464.7ZM507.3 464.3L519.3 456.9 527.8 464.7 515.8 471.9Z"/><path fill="#0c48ad" stroke="#0c48ad" d="M495.4 471.8L507.3 464.3 515.8 471.9 503.9 479.2Z"/><path fill="#1940a5" stroke="#1940a5" d="M483.5 479.3L495.4 471.8 503.9 479.2 492.0 486.6ZM471.6 487.0L483.5 479.3 492.0 486.6 480.1 494.1Z"/><path fill="#223a9b" stroke="#223a9b" d="M459.7 494.7L471.6 487.0 480.1 494.1 468.2 501.6Z"/><path fill="#273591" stroke="#273591" d="M447.7 502.4L459.7 494.7 468.2 501.6 456.2 509.1Z"/><path fill="#292f87" stroke="#292f87" d="M435.8 510.1L447.7 502.4 456.2 509.1 444.3 516.6ZM423.9 517.6L435.8 510.1 444.3 516.6 432.4 524.0Z"/><path fill="#2a2b7d" stroke="#2a2b7d" d="M412.0 524.9L423.9 517.6 432.4 524.0 420.5 531.2ZM400.0 532.0L412.0 524.9 420.5 531.2 408.5 538.1Z"/><path fill="#2a2673" stroke="#2a2673" d="M388.1 538.8L400.0 532.0 408.5 538.1 396.6 544.7ZM376.2 545.2L388.1 538.8 396.6 544.7 384.7 551.0ZM364.3 551.3L376.2 545.2 384.7 551.0 372.8 557.0Z"/><path fill="#292169" stroke="#292169" d="M352.4 557.2L364.3 551.3 372.8 557.0 360.9 562.8ZM340.4 563.1L352.4 557.2 360.9 562.8 348.9 568.6ZM328.5 569.0L340.4 563.1 348.9 568.6 337.0 574.4ZM316.6 575.0L328.5 569.0 337.0 574.4 325.1 580.4ZM304.7 581.0L316.6 575.0 325.1 580.4 313.2 586.4ZM292.7 586.9L304.7 581.0 313.2 586.4 301.2 592.2ZM280.8 592.2L292.7 586.9 301.2 592.2 289.3 597.4ZM268.9 596.8L280.8 592.2 289.3 597.4 277.4 601.9ZM257.0 600.4L268.9 596.8 277.4 601.9 265.5 605.5Z"/><path fill="#0f64a7" stroke="#0f64a7" d="M658.9 389.6L662.9 387.3 671.4 396.4 667.4 398.6ZM647.0 396.3L658.9 389.6 667.4 398.6 655.5 405.2Z"/><path fill="#0e61a8" stroke="#0e61a8" d="M635.1 403.1L647.0 396.3 655.5 405.2 643.6 411.8Z"/><path fill="#0d5eaa" stroke="#0d5eaa" d="M623.1 409.8L635.1 403.1 643.6 411.8 631.6 418.4ZM611.2 416.5L623.1 409.8 631.6 418.4 619.7 425.0Z"/><path fill="#0a5bac" stroke="#0a5bac" d="M599.3 423.3L611.2 416.5 619.7 425.0 607.8 431.6Z"/><path fill="#0758ad" stroke="#0758ad" d="M587.4 430.1L599.3 423.3 607.8 431.6 595.9 438.3ZM575.5 436.9L587.4 430.1 595.9 438.3 583.9 444.9Z"/><path fill="#0355af" stroke="#0355af" d="M563.5 443.7L575.5 436.9 583.9 444.9 572.0 451.6Z"/><path fill="#0151b0" stroke="#0151b0" d="M551.6 450.6L563.5 443.7 572.0 451.6 560.1 458.4ZM539.7 457.6L551.6 450.6 560.1 458.4 548.2 465.3Z"/><path fill="#024daf" stroke="#024daf" d="M527.8 464.7L539.7 457.6 548.2 465.3 536.3 472.2Z"/><path fill="#0c48ad" stroke="#0c48ad" d="M515.8 471.9L527.8 464.7 536.3 472.2 524.3 479.2Z"/><path fill="#1940a5" stroke="#1940a5" d="M503.9 479.2L515.8 471.9 524.3 479.2 512.4 486.4ZM492.0 486.6L503.9 479.2 512.4 486.4 500.5 493.6Z"/><path fill="#223a9b" stroke="#223a9b" d="M480.1 494.1L492.0 486.6 500.5 493.6 488.6 500.9Z"/><path fill="#273591" stroke="#273591" d="M468.2 501.6L480.1 494.1 488.6 500.9 476.7 508.3ZM456.2 509.1L468.2 501.6 476.7 508.3 464.7 515.7Z"/><path fill="#292f87" stroke="#292f87" d="M444.3 516.6L456.2 509.1 464.7 515.7 452.8 523.0ZM432.4 524.0L444.3 516.6 452.8 523.0 440.9 530.2Z"/><path fill="#2a2b7d" stroke="#2a2b7d" d="M420.5 531.2L432.4 524.0 440.9 530.2 429.0 537.2ZM408.5 538.1L420.5 531.2 429.0 537.2 417.0 544.0Z"/><path fill="#2a2673" stroke="#2a2673" d="M396.6 544.7L408.5 538.1 417.0 544.0 405.1 550.5ZM384.7 551.0L396.6 544.7 405.1 550.5 393.2 556.7Z"/><path fill="#292169" stroke="#292169" d="M372.8 557.0L384.7 551.0 393.2 556.7 381.3 562.6ZM360.9 562.8L372.8 557.0 381.3 562.6 369.4 568.4ZM348.9 568.6L360.9 562.8 369.4 568.4 357.4 574.1ZM337.0 574.4L348.9 568.6 357.4 574.1 345.5 579.8ZM325.1 580.4L337.0 574.4 345.5 579.8 333.6 585.7ZM313.2 586.4L325.1 580.4 333.6 585.7 321.7 591.7ZM301.2 592.2L313.2 586.4 321.7 591.7 309.7 597.4ZM289.3 597.4L301.2 592.2 309.7 597.4 297.8 602.5ZM277.4 601.9L289.3 597.4 297.8 602.5 285.9 607.0ZM265.5 605.5L277.4 601.9 285.9 607.0 274.0 610.6Z"/><path fill="#0e61a8" stroke="#0e61a8" d="M667.4 398.6L671.4 396.4 679.9 405.1 675.9 407.3ZM655.5 405.2L667.4 398.6 675.9 407.3 664.0 413.7Z"/><path fill="#0d5eaa" stroke="#0d5eaa" d="M643.6 411.8L655.5 405.2 664.0 413.7 652.1 420.2Z"/><path fill="#0a5bac" stroke="#0a5bac" d="M631.6 418.4L643.6 411.8 652.1 420.2 640.1 426.7ZM619.7 425.0L631.6 418.4 640.1 426.7 628.2 433.2Z"/><path fill="#0758ad" stroke="#0758ad" d="M607.8 431.6L619.7 425.0 628.2 433.2 616.3 439.7ZM595.9 438.3L607.8 431.6 616.3 439.7 604.4 446.2Z"/><path fill="#0355af" stroke="#0355af" d="M583.9 444.9L595.9 438.3 604.4 446.2 592.4 452.7Z"/><path fill="#0151b0" stroke="#0151b0" d="M572.0 451.6L583.9 444.9 592.4 452.7 580.5 459.3ZM560.1 458.4L572.0 451.6 580.5 459.3 568.6 465.9Z"/><path fill="#024daf" stroke="#024daf" d="M548.2 465.3L560.1 458.4 568.6 465.9 556.7 472.7Z"/><path fill="#0c48ad" stroke="#0c48ad" d="M536.3 472.2L548.2 465.3 556.7 472.7 544.8 479.5ZM524.3 479.2L536.3 472.2 544.8 479.5 532.8 486.4Z"/><path fill="#1940a5" stroke="#1940a5" d="M512.4 486.4L524.3 479.2 532.8 486.4 520.9 493.4Z"/><path fill="#223a9b" stroke="#223a9b" d="M500.5 493.6L512.4 486.4 520.9 493.4 509.0 500.4ZM488.6 500.9L500.5 493.6 509.0 500.4 497.1 507.6Z"/><path fill="#273591" stroke="#273591" d="M476.7 508.3L488.6 500.9 497.1 507.6 485.1 514.8Z"/><path fill="#292f87" stroke="#292f87" d="M464.7 515.7L476.7 508.3 485.1 514.8 473.2 522.0ZM452.8 523.0L464.7 515.7 473.2 522.0 461.3 529.2Z"/><path fill="#2a2b7d" stroke="#2a2b7d" d="M440.9 530.2L452.8 523.0 461.3 529.2 449.4 536.3ZM429.0 537.2L440.9 530.2 449.4 536.3 437.5 543.2Z"/><path fill="#2a2673" stroke="#2a2673" d="M417.0 544.0L429.0 537.2 437.5 543.2 425.5 549.8ZM405.1 550.5L417.0 544.0 425.5 549.8 413.6 556.2ZM393.2 556.7L405.1 550.5 413.6 556.2 401.7 562.3Z"/><path fill="#292169" stroke="#292169" d="M381.3 562.6L393.2 556.7 401.7 562.3 389.8 568.1ZM369.4 568.4L381.3 562.6 389.8 568.1 377.9 573.8ZM357.4 574.1L369.4 568.4 377.9 573.8 365.9 579.5ZM345.5 579.8L357.4 574.1 365.9 579.5 354.0 585.2ZM333.6 585.7L345.5 579.8 354.0 585.2 342.1 591.0ZM321.7 591.7L333.6 585.7 342.1 591.0 330.2 596.9ZM309.7 597.4L321.7 591.7 330.2 596.9 318.2 602.5ZM297.8 602.5L309.7 597.4 318.2 602.5 306.3 607.6ZM285.9 607.0L297.8 602.5 306.3 607.6 294.4 612.0ZM274.0 610.6L285.9 607.0 294.4 612.0 282.5 615.6Z"/><path fill="#0d5eaa" stroke="#0d5eaa" d="M675.9 407.3L679.9 405.1 688.4 413.5 684.4 415.6ZM664.0 413.7L675.9 407.3 684.4 415.6 672.5 422.0Z"/><path fill="#0a5bac" stroke="#0a5bac" d="M652.1 420.2L664.0 413.7 672.5 422.0 660.6 428.3ZM640.1 426.7L652.1 420.2 660.6 428.3 648.6 434.7Z"/><path fill="#0758ad" stroke="#0758ad" d="M628.2 433.2L640.1 426.7 648.6 434.7 636.7 441.1ZM616.3 439.7L628.2 433.2 636.7 441.1 624.8 447.4Z"/><path fill="#0355af" stroke="#0355af" d="M604.4 446.2L616.3 439.7 624.8 447.4 612.9 453.8Z"/><path fill="#0151b0" stroke="#0151b0" d="M592.4 452.7L604.4 446.2 612.9 453.8 600.9 460.3ZM580.5 459.3L592.4 452.7 600.9 460.3 589.0 466.7Z"/><path fill="#024daf" stroke="#024daf" d="M568.6 465.9L580.5 459.3 589.0 466.7 577.1 473.3Z"/><path fill="#0c48ad" stroke="#0c48ad" d="M556.7 472.7L568.6 465.9 577.1 473.3 565.2 479.8ZM544.8 479.5L556.7 472.7 565.2 479.8 553.3 486.5Z"/><path fill="#1940a5" stroke="#1940a5" d="M532.8 486.4L544.8 479.5 553.3 486.5 541.3 493.3ZM520.9 493.4L532.8 486.4 541.3 493.3 529.4 500.2Z"/><path fill="#223a9b" stroke="#223a9b" d="M509.0 500.4L520.9 493.4 529.4 500.2 517.5 507.1Z"/><path fill="#273591" stroke="#273591" d="M497.1 507.6L509.0 500.4 517.5 507.1 505.6 514.1ZM485.1 514.8L497.1 507.6 505.6 514.1 493.6 521.2Z"/><path fill="#292f87" stroke="#292f87" d="M473.2 522.0L485.1 514.8 493.6 521.2 481.7 528.3ZM461.3 529.2L473.2 522.0 481.7 528.3 469.8 535.3Z"/><path fill="#2a2b7d" stroke="#2a2b7d" d="M449.4 536.3L461.3 529.2 469.8 535.3 457.9 542.2ZM437.5 543.2L449.4 536.3 457.9 542.2 446.0 549.0Z"/><path fill="#2a2673" stroke="#2a2673" d="M425.5 549.8L437.5 543.2 446.0 549.0 434.0 555.5ZM413.6 556.2L425.5 549.8 434.0 555.5 422.1 561.8Z"/><path fill="#292169" stroke="#292169" d="M401.7 562.3L413.6 556.2 422.1 561.8 410.2 567.8ZM389.8 568.1L401.7 562.3 410.2 567.8 398.3 573.6ZM377.9 573.8L389.8 568.1 398.3 573.6 386.4 579.2ZM365.9 579.5L377.9 573.8 386.4 579.2 374.4 584.8ZM354.0 585.2L365.9 579.5 374.4 584.8 362.5 590.4ZM342.1 591.0L354.0 585.2 362.5 590.4 350.6 596.2ZM330.2 596.9L342.1 591.0 350.6 596.2 338.7 602.0ZM318.2 602.5L330.2 596.9 338.7 602.0 326.7 607.6ZM306.3 607.6L318.2 602.5 326.7 607.6 314.8 612.6ZM294.4 612.0L306.3 607.6 314.8 612.6 302.9 617.0ZM282.5 615.6L294.4 612.0 302.9 617.0 291.0 620.6Z"/><path fill="#0d5eaa" stroke="#0d5eaa" d="M684.4 415.6L688.4 413.5 696.9 421.6 692.9 423.7Z"/><path fill="#0a5bac" stroke="#0a5bac" d="M672.5 422.0L684.4 415.6 692.9 423.7 681.0 429.9ZM660.6 428.3L672.5 422.0 681.0 429.9 669.1 436.2Z"/><path fill="#0758ad" stroke="#0758ad" d="M648.6 434.7L660.6 428.3 669.1 436.2 657.1 442.5Z"/><path fill="#0355af" stroke="#0355af" d="M636.7 441.1L648.6 434.7 657.1 442.5 645.2 448.7ZM624.8 447.4L636.7 441.1 645.2 448.7 633.3 455.0Z"/><path fill="#0151b0" stroke="#0151b0" d="M612.9 453.8L624.8 447.4 633.3 455.0 621.4 461.3ZM600.9 460.3L612.9 453.8 621.4 461.3 609.4 467.6Z"/><path fill="#024daf" stroke="#024daf" d="M589.0 466.7L600.9 460.3 609.4 467.6 597.5 473.9ZM577.1 473.3L589.0 466.7 597.5 473.9 585.6 480.4Z"/><path fill="#0c48ad" stroke="#0c48ad" d="M565.2 479.8L577.1 473.3 585.6 480.4 573.7 486.8Z"/><path fill="#1940a5" stroke="#1940a5" d="M553.3 486.5L565.2 479.8 573.7 486.8 561.8 493.4ZM541.3 493.3L553.3 486.5 561.8 493.4 549.8 500.0Z"/><path fill="#223a9b" stroke="#223a9b" d="M529.4 500.2L541.3 493.3 549.8 500.0 537.9 506.8ZM517.5 507.1L529.4 500.2 537.9 506.8 526.0 513.6Z"/><path fill="#273591" stroke="#273591" d="M505.6 514.1L517.5 507.1 526.0 513.6 514.1 520.5ZM493.6 521.2L505.6 514.1 514.1 520.5 502.1 527.4Z"/><path fill="#292f87" stroke="#292f87" d="M481.7 528.3L493.6 521.2 502.1 527.4 490.2 534.4Z"/><path fill="#2a2b7d" stroke="#2a2b7d" d="M469.8 535.3L481.7 528.3 490.2 534.4 478.3 541.3ZM457.9 542.2L469.8 535.3 478.3 541.3 466.4 548.1Z"/><path fill="#2a2673" stroke="#2a2673" d="M446.0 549.0L457.9 542.2 466.4 548.1 454.5 554.8ZM434.0 555.5L446.0 549.0 454.5 554.8 442.5 561.2ZM422.1 561.8L434.0 555.5 442.5 561.2 430.6 567.4Z"/><path fill="#292169" stroke="#292169" d="M410.2 567.8L422.1 561.8 430.6 567.4 418.7 573.3ZM398.3 573.6L410.2 567.8 418.7 573.3 406.8 578.9ZM386.4 579.2L398.3 573.6 406.8 578.9 394.9 584.5ZM374.4 584.8L386.4 579.2 394.9 584.5 382.9 590.0ZM362.5 590.4L374.4 584.8 382.9 590.0 371.0 595.6ZM350.6 596.2L362.5 590.4 371.0 595.6 359.1 601.4ZM338.7 602.0L350.6 596.2 359.1 601.4 347.2 607.1ZM326.7 607.6L338.7 602.0 347.2 607.1 335.2 612.6ZM314.8 612.6L326.7 607.6 335.2 612.6 323.3 617.6ZM302.9 617.0L314.8 612.6 323.3 617.6 311.4 621.9ZM291.0 620.6L302.9 617.0 311.4 621.9 299.5 625.5Z"/><path fill="#0a5bac" stroke="#0a5bac" d="M692.9 423.7L696.9 421.6 705.4 429.5 701.4 431.5ZM681.0 429.9L692.9 423.7 701.4 431.5 689.5 437.7Z"/><path fill="#0758ad" stroke="#0758ad" d="M669.1 436.2L681.0 429.9 689.5 437.7 677.6 443.8Z"/><path fill="#0355af" stroke="#0355af" d="M657.1 442.5L669.1 436.2 677.6 443.8 665.6 450.0ZM645.2 448.7L657.1 442.5 665.6 450.0 653.7 456.2Z"/><path fill="#0151b0" stroke="#0151b0" d="M633.3 455.0L645.2 448.7 653.7 456.2 641.8 462.3ZM621.4 461.3L633.3 455.0 641.8 462.3 629.9 468.5Z"/><path fill="#024daf" stroke="#024daf" d="M609.4 467.6L621.4 461.3 629.9 468.5 617.9 474.7ZM597.5 473.9L609.4 467.6 617.9 474.7 606.0 481.0Z"/><path fill="#0c48ad" stroke="#0c48ad" d="M585.6 480.4L597.5 473.9 606.0 481.0 594.1 487.3ZM573.7 486.8L585.6 480.4 594.1 487.3 582.2 493.7Z"/><path fill="#1940a5" stroke="#1940a5" d="M561.8 493.4L573.7 486.8 582.2 493.7 570.3 500.1Z"/><path fill="#223a9b" stroke="#223a9b" d="M549.8 500.0L561.8 493.4 570.3 500.1 558.3 506.6ZM537.9 506.8L549.8 500.0 558.3 506.6 546.4 513.3Z"/><path fill="#273591" stroke="#273591" d="M526.0 513.6L537.9 506.8 546.4 513.3 534.5 520.0ZM514.1 520.5L526.0 513.6 534.5 520.0 522.6 526.8Z"/><path fill="#292f87" stroke="#292f87" d="M502.1 527.4L514.1 520.5 522.6 526.8 510.6 533.6ZM490.2 534.4L502.1 527.4 510.6 533.6 498.7 540.4Z"/><path fill="#2a2b7d" stroke="#2a2b7d" d="M478.3 541.3L490.2 534.4 498.7 540.4 486.8 547.2ZM466.4 548.1L478.3 541.3 486.8 547.2 474.9 553.9Z"/><path fill="#2a2673" stroke="#2a2673" d="M454.5 554.8L466.4 548.1 474.9 553.9 463.0 560.4ZM442.5 561.2L454.5 554.8 463.0 560.4 451.0 566.7ZM430.6 567.4L442.5 561.2 451.0 566.7 439.1 572.8Z"/><path fill="#292169" stroke="#292169" d="M418.7 573.3L430.6 567.4 439.1 572.8 427.2 578.6ZM406.8 578.9L418.7 573.3 427.2 578.6 415.3 584.3ZM394.9 584.5L406.8 578.9 415.3 584.3 403.3 589.7ZM382.9 590.0L394.9 584.5 403.3 589.7 391.4 595.2ZM371.0 595.6L382.9 590.0 391.4 595.2 379.5 600.8ZM359.1 601.4L371.0 595.6 379.5 600.8 367.6 606.5ZM347.2 607.1L359.1 601.4 367.6 606.5 355.7 612.1ZM335.2 612.6L347.2 607.1 355.7 612.1 343.7 617.6ZM323.3 617.6L335.2 612.6 343.7 617.6 331.8 622.5ZM311.4 621.9L323.3 617.6 331.8 622.5 319.9 626.8ZM299.5 625.5L311.4 621.9 319.9 626.8 308.0 630.4Z"/><path fill="#0758ad" stroke="#0758ad" d="M701.4 431.5L705.4 429.5 713.9 437.1 709.9 439.1ZM689.5 437.7L701.4 431.5 709.9 439.1 698.0 445.2Z"/><path fill="#0355af" stroke="#0355af" d="M677.6 443.8L689.5 437.7 698.0 445.2 686.1 451.3ZM665.6 450.0L677.6 443.8 686.1 451.3 674.1 457.3Z"/><path fill="#0151b0" stroke="#0151b0" d="M653.7 456.2L665.6 450.0 674.1 457.3 662.2 463.4ZM641.8 462.3L653.7 456.2 662.2 463.4 650.3 469.5Z"/><path fill="#024daf" stroke="#024daf" d="M629.9 468.5L641.8 462.3 650.3 469.5 638.4 475.6ZM617.9 474.7L629.9 468.5 638.4 475.6 626.4 481.7Z"/><path fill="#0c48ad" stroke="#0c48ad" d="M606.0 481.0L617.9 474.7 626.4 481.7 614.5 487.8ZM594.1 487.3L606.0 481.0 614.5 487.8 602.6 494.0Z"/><path fill="#1940a5" stroke="#1940a5" d="M582.2 493.7L594.1 487.3 602.6 494.0 590.7 500.3ZM570.3 500.1L582.2 493.7 590.7 500.3 578.8 506.7Z"/><path fill="#223a9b" stroke="#223a9b" d="M558.3 506.6L570.3 500.1 578.8 506.7 566.8 513.1ZM546.4 513.3L558.3 506.6 566.8 513.1 554.9 519.6Z"/><path fill="#273591" stroke="#273591" d="M534.5 520.0L546.4 513.3 554.9 519.6 543.0 526.2ZM522.6 526.8L534.5 520.0 543.0 526.2 531.1 532.9Z"/><path fill="#292f87" stroke="#292f87" d="M510.6 533.6L522.6 526.8 531.1 532.9 519.1 539.6Z"/><path fill="#2a2b7d" stroke="#2a2b7d" d="M498.7 540.4L510.6 533.6 519.1 539.6 507.2 546.3ZM486.8 547.2L498.7 540.4 507.2 546.3 495.3 553.0ZM474.9 553.9L486.8 547.2 495.3 553.0 483.4 559.6Z"/><path fill="#2a2673" stroke="#2a2673" d="M463.0 560.4L474.9 553.9 483.4 559.6 471.5 566.0ZM451.0 566.7L463.0 560.4 471.5 566.0 459.5 572.2Z"/><path fill="#292169" stroke="#292169" d="M439.1 572.8L451.0 566.7 459.5 572.2 447.6 578.2ZM427.2 578.6L439.1 572.8 447.6 578.2 435.7 584.0ZM415.3 584.3L427.2 578.6 435.7 584.0 423.8 589.5ZM403.3 589.7L415.3 584.3 423.8 589.5 411.8 594.9ZM391.4 595.2L403.3 589.7 411.8 594.9 399.9 600.4ZM379.5 600.8L391.4 595.2 399.9 600.4 388.0 605.9ZM367.6 606.5L379.5 600.8 388.0 605.9 376.1 611.5ZM355.7 612.1L367.6 606.5 376.1 611.5 364.2 617.1ZM343.7 617.6L355.7 612.1 364.2 617.1 352.2 622.5ZM331.8 622.5L343.7 617.6 352.2 622.5 340.3 627.4ZM319.9 626.8L331.8 622.5 340.3 627.4 328.4 631.7ZM308.0 630.4L319.9 626.8 328.4 631.7 316.5 635.2Z"/><path fill="#0758ad" stroke="#0758ad" d="M709.9 439.1L713.9 437.1 722.4 444.5 718.4 446.5Z"/><path fill="#0355af" stroke="#0355af" d="M698.0 445.2L709.9 439.1 718.4 446.5 706.5 452.5ZM686.1 451.3L698.0 445.2 706.5 452.5 694.6 458.5Z"/><path fill="#0151b0" stroke="#0151b0" d="M674.1 457.3L686.1 451.3 694.6 458.5 682.6 464.5ZM662.2 463.4L674.1 457.3 682.6 464.5 670.7 470.4Z"/><path fill="#024daf" stroke="#024daf" d="M650.3 469.5L662.2 463.4 670.7 470.4 658.8 476.4ZM638.4 475.6L650.3 469.5 658.8 476.4 646.9 482.4Z"/><path fill="#0c48ad" stroke="#0c48ad" d="M626.4 481.7L638.4 475.6 646.9 482.4 634.9 488.5ZM614.5 487.8L626.4 481.7 634.9 488.5 623.0 494.5Z"/><path fill="#1940a5" stroke="#1940a5" d="M602.6 494.0L614.5 487.8 623.0 494.5 611.1 500.7ZM590.7 500.3L602.6 494.0 611.1 500.7 599.2 506.8Z"/><path fill="#223a9b" stroke="#223a9b" d="M578.8 506.7L590.7 500.3 599.2 506.8 587.3 513.1ZM566.8 513.1L578.8 506.7 587.3 513.1 575.3 519.4Z"/><path fill="#273591" stroke="#273591" d="M554.9 519.6L566.8 513.1 575.3 519.4 563.4 525.9ZM543.0 526.2L554.9 519.6 563.4 525.9 551.5 532.3Z"/><path fill="#292f87" stroke="#292f87" d="M531.1 532.9L543.0 526.2 551.5 532.3 539.6 538.9ZM519.1 539.6L531.1 532.9 539.6 538.9 527.6 545.5Z"/><path fill="#2a2b7d" stroke="#2a2b7d" d="M507.2 546.3L519.1 539.6 527.6 545.5 515.7 552.1ZM495.3 553.0L507.2 546.3 515.7 552.1 503.8 558.7Z"/><path fill="#2a2673" stroke="#2a2673" d="M483.4 559.6L495.3 553.0 503.8 558.7 491.9 565.2ZM471.5 566.0L483.4 559.6 491.9 565.2 480.0 571.5ZM459.5 572.2L471.5 566.0 480.0 571.5 468.0 577.6Z"/><path fill="#292169" stroke="#292169" d="M447.6 578.2L459.5 572.2 468.0 577.6 456.1 583.5ZM435.7 584.0L447.6 578.2 456.1 583.5 444.2 589.2ZM423.8 589.5L435.7 584.0 444.2 589.2 432.3 594.7ZM411.8 594.9L423.8 589.5 432.3 594.7 420.3 600.1ZM399.9 600.4L411.8 594.9 420.3 600.1 408.4 605.5ZM388.0 605.9L399.9 600.4 408.4 605.5 396.5 610.9ZM376.1 611.5L388.0 605.9 396.5 610.9 384.6 616.5ZM364.2 617.1L376.1 611.5 384.6 616.5 372.7 622.1ZM352.2 622.5L364.2 617.1 372.7 622.1 360.7 627.4ZM340.3 627.4L352.2 622.5 360.7 627.4 348.8 632.3ZM328.4 631.7L340.3 627.4 348.8 632.3 336.9 636.5ZM316.5 635.2L328.4 631.7 336.9 636.5 325.0 640.0Z"/><path fill="#0355af" stroke="#0355af" d="M718.4 446.5L722.4 444.5 730.9 451.8 726.9 453.7ZM706.5 452.5L718.4 446.5 726.9 453.7 715.0 459.7Z"/><path fill="#0151b0" stroke="#0151b0" d="M694.6 458.5L706.5 452.5 715.0 459.7 703.1 465.6ZM682.6 464.5L694.6 458.5 703.1 465.6 691.1 471.4Z"/><path fill="#024daf" stroke="#024daf" d="M670.7 470.4L682.6 464.5 691.1 471.4 679.2 477.3ZM658.8 476.4L670.7 470.4 679.2 477.3 667.3 483.3Z"/><path fill="#0c48ad" stroke="#0c48ad" d="M646.9 482.4L658.8 476.4 667.3 483.3 655.4 489.2ZM634.9 488.5L646.9 482.4 655.4 489.2 643.4 495.1Z"/><path fill="#1940a5" stroke="#1940a5" d="M623.0 494.5L634.9 488.5 643.4 495.1 631.5 501.1ZM611.1 500.7L623.0 494.5 631.5 501.1 619.6 507.2Z"/><path fill="#223a9b" stroke="#223a9b" d="M599.2 506.8L611.1 500.7 619.6 507.2 607.7 513.2ZM587.3 513.1L599.2 506.8 607.7 513.2 595.8 519.4ZM575.3 519.4L587.3 513.1 595.8 519.4 583.8 525.7Z"/><path fill="#273591" stroke="#273591" d="M563.4 525.9L575.3 519.4 583.8 525.7 571.9 532.0ZM551.5 532.3L563.4 525.9 571.9 532.0 560.0 538.4Z"/><path fill="#292f87" stroke="#292f87" d="M539.6 538.9L551.5 532.3 560.0 538.4 548.1 544.8ZM527.6 545.5L539.6 538.9 548.1 544.8 536.1 551.3Z"/><path fill="#2a2b7d" stroke="#2a2b7d" d="M515.7 552.1L527.6 545.5 536.1 551.3 524.2 557.9ZM503.8 558.7L515.7 552.1 524.2 557.9 512.3 564.3Z"/><path fill="#2a2673" stroke="#2a2673" d="M491.9 565.2L503.8 558.7 512.3 564.3 500.4 570.7ZM480.0 571.5L491.9 565.2 500.4 570.7 488.5 577.0ZM468.0 577.6L480.0 571.5 488.5 577.0 476.5 583.0Z"/><path fill="#292169" stroke="#292169" d="M456.1 583.5L468.0 577.6 476.5 583.0 464.6 588.8ZM444.2 589.2L456.1 583.5 464.6 588.8 452.7 594.4ZM432.3 594.7L444.2 589.2 452.7 594.4 440.8 599.9ZM420.3 600.1L432.3 594.7 440.8 599.9 428.8 605.2ZM408.4 605.5L420.3 600.1 428.8 605.2 416.9 610.5ZM396.5 610.9L408.4 605.5 416.9 610.5 405.0 616.0ZM384.6 616.5L396.5 610.9 405.0 616.0 393.1 621.5ZM372.7 622.1L384.6 616.5 393.1 621.5 381.2 627.0ZM360.7 627.4L372.7 622.1 381.2 627.0 369.2 632.3ZM348.8 632.3L360.7 627.4 369.2 632.3 357.3 637.1ZM336.9 636.5L348.8 632.3 357.3 637.1 345.4 641.3ZM325.0 640.0L336.9 636.5 345.4 641.3 333.5 644.8Z"/><path fill="#0355af" stroke="#0355af" d="M726.9 453.7L730.9 451.8 739.4 458.9 735.4 460.8Z"/><path fill="#0151b0" stroke="#0151b0" d="M715.0 459.7L726.9 453.7 735.4 460.8 723.5 466.6ZM703.1 465.6L715.0 459.7 723.5 466.6 711.6 472.5Z"/><path fill="#024daf" stroke="#024daf" d="M691.1 471.4L703.1 465.6 711.6 472.5 699.6 478.3ZM679.2 477.3L691.1 471.4 699.6 478.3 687.7 484.1ZM667.3 483.3L679.2 477.3 687.7 484.1 675.8 489.9Z"/><path fill="#0c48ad" stroke="#0c48ad" d="M655.4 489.2L667.3 483.3 675.8 489.9 663.9 495.8ZM643.4 495.1L655.4 489.2 663.9 495.8 651.9 501.7Z"/><path fill="#1940a5" stroke="#1940a5" d="M631.5 501.1L643.4 495.1 651.9 501.7 640.0 507.6ZM619.6 507.2L631.5 501.1 640.0 507.6 628.1 513.5Z"/><path fill="#223a9b" stroke="#223a9b" d="M607.7 513.2L619.6 507.2 628.1 513.5 616.2 519.5ZM595.8 519.4L607.7 513.2 616.2 519.5 604.3 525.6Z"/><path fill="#273591" stroke="#273591" d="M583.8 525.7L595.8 519.4 604.3 525.6 592.3 531.8ZM571.9 532.0L583.8 525.7 592.3 531.8 580.4 538.0Z"/><path fill="#292f87" stroke="#292f87" d="M560.0 538.4L571.9 532.0 580.4 538.0 568.5 544.3ZM548.1 544.8L560.0 538.4 568.5 544.3 556.6 550.7Z"/><path fill="#2a2b7d" stroke="#2a2b7d" d="M536.1 551.3L548.1 544.8 556.6 550.7 544.6 557.1ZM524.2 557.9L536.1 551.3 544.6 557.1 532.7 563.5ZM512.3 564.3L524.2 557.9 532.7 563.5 520.8 569.9Z"/><path fill="#2a2673" stroke="#2a2673" d="M500.4 570.7L512.3 564.3 520.8 569.9 508.9 576.2ZM488.5 577.0L500.4 570.7 508.9 576.2 497.0 582.3Z"/><path fill="#292169" stroke="#292169" d="M476.5 583.0L488.5 577.0 497.0 582.3 485.0 588.3ZM464.6 588.8L476.5 583.0 485.0 588.3 473.1 594.1ZM452.7 594.4L464.6 588.8 473.1 594.1 461.2 599.6ZM440.8 599.9L452.7 594.4 461.2 599.6 449.3 605.0ZM428.8 605.2L440.8 599.9 449.3 605.0 437.3 610.3ZM416.9 610.5L428.8 605.2 437.3 610.3 425.4 615.6ZM405.0 616.0L416.9 610.5 425.4 615.6 413.5 620.9ZM393.1 621.5L405.0 616.0 413.5 620.9 401.6 626.4ZM381.2 627.0L393.1 621.5 401.6 626.4 389.7 631.9ZM369.2 632.3L381.2 627.0 389.7 631.9 377.7 637.1ZM357.3 637.1L369.2 632.3 377.7 637.1 365.8 641.9ZM345.4 641.3L357.3 637.1 365.8 641.9 353.9 646.0ZM333.5 644.8L345.4 641.3 353.9 646.0 342.0 649.6Z"/><path fill="#0151b0" stroke="#0151b0" d="M735.4 460.8L739.4 458.9 747.9 465.8 743.9 467.7ZM723.5 466.6L735.4 460.8 743.9 467.7 732.0 473.5ZM711.6 472.5L723.5 466.6 732.0 473.5 720.0 479.2Z"/><path fill="#024daf" stroke="#024daf" d="M699.6 478.3L711.6 472.5 720.0 479.2 708.1 485.0ZM687.7 484.1L699.6 478.3 708.1 485.0 696.2 490.7Z"/><path fill="#0c48ad" stroke="#0c48ad" d="M675.8 489.9L687.7 484.1 696.2 490.7 684.3 496.5ZM663.9 495.8L675.8 489.9 684.3 496.5 672.4 502.3Z"/><path fill="#1940a5" stroke="#1940a5" d="M651.9 501.7L663.9 495.8 672.4 502.3 660.4 508.1ZM640.0 507.6L651.9 501.7 660.4 508.1 648.5 513.9Z"/><path fill="#223a9b" stroke="#223a9b" d="M628.1 513.5L640.0 507.6 648.5 513.9 636.6 519.8ZM616.2 519.5L628.1 513.5 636.6 519.8 624.7 525.7Z"/><path fill="#273591" stroke="#273591" d="M604.3 525.6L616.2 519.5 624.7 525.7 612.8 531.7ZM592.3 531.8L604.3 525.6 612.8 531.7 600.8 537.8ZM580.4 538.0L592.3 531.8 600.8 537.8 588.9 543.9Z"/><path fill="#292f87" stroke="#292f87" d="M568.5 544.3L580.4 538.0 588.9 543.9 577.0 550.2ZM556.6 550.7L568.5 544.3 577.0 550.2 565.1 556.4Z"/><path fill="#2a2b7d" stroke="#2a2b7d" d="M544.6 557.1L556.6 550.7 565.1 556.4 553.1 562.8ZM532.7 563.5L544.6 557.1 553.1 562.8 541.2 569.1Z"/><path fill="#2a2673" stroke="#2a2673" d="M520.8 569.9L532.7 563.5 541.2 569.1 529.3 575.4ZM508.9 576.2L520.8 569.9 529.3 575.4 517.4 581.6ZM497.0 582.3L508.9 576.2 517.4 581.6 505.5 587.7Z"/><path fill="#292169" stroke="#292169" d="M485.0 588.3L497.0 582.3 505.5 587.7 493.5 593.6ZM473.1 594.1L485.0 588.3 493.5 593.6 481.6 599.3ZM461.2 599.6L473.1 594.1 481.6 599.3 469.7 604.7ZM449.3 605.0L461.2 599.6 469.7 604.7 457.8 610.1ZM437.3 610.3L449.3 605.0 457.8 610.1 445.8 615.3ZM425.4 615.6L437.3 610.3 445.8 615.3 433.9 620.6ZM413.5 620.9L425.4 615.6 433.9 620.6 422.0 625.9ZM401.6 626.4L413.5 620.9 422.0 625.9 410.1 631.4ZM389.7 631.9L401.6 626.4 410.1 631.4 398.2 636.8ZM377.7 637.1L389.7 631.9 398.2 636.8 386.2 642.0ZM365.8 641.9L377.7 637.1 386.2 642.0 374.3 646.7ZM353.9 646.0L365.8 641.9 374.3 646.7 362.4 650.8ZM342.0 649.6L353.9 646.0 362.4 650.8 350.5 654.3Z"/><path fill="#0151b0" stroke="#0151b0" d="M743.9 467.7L747.9 465.8 756.4 472.6 752.4 474.5ZM732.0 473.5L743.9 467.7 752.4 474.5 740.5 480.2Z"/><path fill="#024daf" stroke="#024daf" d="M720.0 479.2L732.0 473.5 740.5 480.2 728.5 485.9ZM708.1 485.0L720.0 479.2 728.5 485.9 716.6 491.5Z"/><path fill="#0c48ad" stroke="#0c48ad" d="M696.2 490.7L708.1 485.0 716.6 491.5 704.7 497.2ZM684.3 496.5L696.2 490.7 704.7 497.2 692.8 502.9Z"/><path fill="#1940a5" stroke="#1940a5" d="M672.4 502.3L684.3 496.5 692.8 502.9 680.9 508.6ZM660.4 508.1L672.4 502.3 680.9 508.6 668.9 514.4Z"/><path fill="#223a9b" stroke="#223a9b" d="M648.5 513.9L660.4 508.1 668.9 514.4 657.0 520.1ZM636.6 519.8L648.5 513.9 657.0 520.1 645.1 525.9ZM624.7 525.7L636.6 519.8 645.1 525.9 633.2 531.8Z"/><path fill="#273591" stroke="#273591" d="M612.8 531.7L624.7 525.7 633.2 531.8 621.3 537.7ZM600.8 537.8L612.8 531.7 621.3 537.7 609.3 543.7Z"/><path fill="#292f87" stroke="#292f87" d="M588.9 543.9L600.8 537.8 609.3 543.7 597.4 549.8ZM577.0 550.2L588.9 543.9 597.4 549.8 585.5 555.9Z"/><path fill="#2a2b7d" stroke="#2a2b7d" d="M565.1 556.4L577.0 550.2 585.5 555.9 573.6 562.1ZM553.1 562.8L565.1 556.4 573.6 562.1 561.6 568.4ZM541.2 569.1L553.1 562.8 561.6 568.4 549.7 574.6Z"/><path fill="#2a2673" stroke="#2a2673" d="M529.3 575.4L541.2 569.1 549.7 574.6 537.8 580.8ZM517.4 581.6L529.3 575.4 537.8 580.8 525.9 587.0ZM505.5 587.7L517.4 581.6 525.9 587.0 514.0 593.0Z"/><path fill="#292169" stroke="#292169" d="M493.5 593.6L505.5 587.7 514.0 593.0 502.0 598.8ZM481.6 599.3L493.5 593.6 502.0 598.8 490.1 604.4ZM469.7 604.7L481.6 599.3 490.1 604.4 478.2 609.8ZM457.8 610.1L469.7 604.7 478.2 609.8 466.3 615.1ZM445.8 615.3L457.8 610.1 466.3 615.1 454.3 620.3ZM433.9 620.6L445.8 615.3 454.3 620.3 442.4 625.5ZM422.0 625.9L433.9 620.6 442.4 625.5 430.5 630.8ZM410.1 631.4L422.0 625.9 430.5 630.8 418.6 636.2ZM398.2 636.8L410.1 631.4 418.6 636.2 406.7 641.6ZM386.2 642.0L398.2 636.8 406.7 641.6 394.7 646.8ZM374.3 646.7L386.2 642.0 394.7 646.8 382.8 651.4ZM362.4 650.8L374.3 646.7 382.8 651.4 370.9 655.5ZM350.5 654.3L362.4 650.8 370.9 655.5 359.0 659.0Z"/><path fill="#0151b0" stroke="#0151b0" d="M752.4 474.5L756.4 472.6 759.2 474.8 755.2 476.7Z"/><path fill="#024daf" stroke="#024daf" d="M740.5 480.2L752.4 474.5 755.2 476.7 743.3 482.4ZM728.5 485.9L740.5 480.2 743.3 482.4 731.4 488.1Z"/><path fill="#0c48ad" stroke="#0c48ad" d="M716.6 491.5L728.5 485.9 731.4 488.1 719.5 493.7ZM704.7 497.2L716.6 491.5 719.5 493.7 707.5 499.4ZM692.8 502.9L704.7 497.2 707.5 499.4 695.6 505.0Z"/><path fill="#1940a5" stroke="#1940a5" d="M680.9 508.6L692.8 502.9 695.6 505.0 683.7 510.7ZM668.9 514.4L680.9 508.6 683.7 510.7 671.8 516.4Z"/><path fill="#223a9b" stroke="#223a9b" d="M657.0 520.1L668.9 514.4 671.8 516.4 659.8 522.2ZM645.1 525.9L657.0 520.1 659.8 522.2 647.9 528.0Z"/><path fill="#273591" stroke="#273591" d="M633.2 531.8L645.1 525.9 647.9 528.0 636.0 533.8ZM621.3 537.7L633.2 531.8 636.0 533.8 624.1 539.7ZM609.3 543.7L621.3 537.7 624.1 539.7 612.2 545.7Z"/><path fill="#292f87" stroke="#292f87" d="M597.4 549.8L609.3 543.7 612.2 545.7 600.2 551.7ZM585.5 555.9L597.4 549.8 600.2 551.7 588.3 557.8Z"/><path fill="#2a2b7d" stroke="#2a2b7d" d="M573.6 562.1L585.5 555.9 588.3 557.8 576.4 564.0ZM561.6 568.4L573.6 562.1 576.4 564.0 564.5 570.2ZM549.7 574.6L561.6 568.4 564.5 570.2 552.6 576.5Z"/><path fill="#2a2673" stroke="#2a2673" d="M537.8 580.8L549.7 574.6 552.6 576.5 540.6 582.6ZM525.9 587.0L537.8 580.8 540.6 582.6 528.7 588.7Z"/><path fill="#292169" stroke="#292169" d="M514.0 593.0L525.9 587.0 528.7 588.7 516.8 594.7ZM502.0 598.8L514.0 593.0 516.8 594.7 504.9 600.5ZM490.1 604.4L502.0 598.8 504.9 600.5 492.9 606.1ZM478.2 609.8L490.1 604.4 492.9 606.1 481.0 611.5ZM466.3 615.1L478.2 609.8 481.0 611.5 469.1 616.8ZM454.3 620.3L466.3 615.1 469.1 616.8 457.2 622.0ZM442.4 625.5L454.3 620.3 457.2 622.0 445.3 627.2ZM430.5 630.8L442.4 625.5 445.3 627.2 433.3 632.5ZM418.6 636.2L430.5 630.8 433.3 632.5 421.4 637.9ZM406.7 641.6L418.6 636.2 421.4 637.9 409.5 643.2ZM394.7 646.8L406.7 641.6 409.5 643.2 397.6 648.4ZM382.8 651.4L394.7 646.8 397.6 648.4 385.6 653.0ZM370.9 655.5L382.8 651.4 385.6 653.0 373.7 657.1ZM359.0 659.0L370.9 655.5 373.7 657.1 361.8 660.6Z"/><path fill="#05809d" stroke="#05809d" d="M1406.6 227.6L1410.8 226.6 1418.6 232.0 1414.4 233.0ZM1394.0 230.7L1406.6 227.6 1414.4 233.0 1401.8 236.1ZM1381.4 233.8L1394.0 230.7 1401.8 236.1 1389.2 239.3ZM1368.8 237.0L1381.4 233.8 1389.2 239.3 1376.6 242.5ZM1356.2 240.3L1368.8 237.0 1376.6 242.5 1364.0 245.7ZM1343.6 243.7L1356.2 240.3 1364.0 245.7 1351.4 249.1ZM1330.9 247.1L1343.6 243.7 1351.4 249.1 1338.8 252.6ZM1318.3 250.7L1330.9 247.1 1338.8 252.6 1326.2 256.2ZM1305.7 254.4L1318.3 250.7 1326.2 256.2 1313.5 259.9Z"/><path fill="#057da0" stroke="#057da0" d="M1293.1 258.3L1305.7 254.4 1313.5 259.9 1300.9 263.7ZM1280.5 262.2L1293.1 258.3 1300.9 263.7 1288.3 267.6ZM1267.9 266.2L1280.5 262.2 1288.3 267.6 1275.7 271.6ZM1255.3 270.2L1267.9 266.2 1275.7 271.6 1263.1 275.6ZM1242.7 274.0L1255.3 270.2 1263.1 275.6 1250.5 279.4ZM1230.1 277.5L1242.7 274.0 1250.5 279.4 1237.9 282.9ZM1217.5 280.6L1230.1 277.5 1237.9 282.9 1225.3 286.0ZM1204.9 282.9L1217.5 280.6 1225.3 286.0 1212.7 288.3ZM1192.2 284.1L1204.9 282.9 1212.7 288.3 1200.1 289.5ZM1179.6 283.9L1192.2 284.1 1200.1 289.5 1187.5 289.3Z"/><path fill="#05809d" stroke="#05809d" d="M1167.0 281.9L1179.6 283.9 1187.5 289.3 1174.8 287.3Z"/><path fill="#05829b" stroke="#05829b" d="M1154.4 277.6L1167.0 281.9 1174.8 287.3 1162.2 283.1Z"/><path fill="#088694" stroke="#088694" d="M1141.8 270.8L1154.4 277.6 1162.2 283.1 1149.6 276.3Z"/><path fill="#118a8c" stroke="#118a8c" d="M1129.2 261.2L1141.8 270.8 1149.6 276.3 1137.0 266.6Z"/><path fill="#248f80" stroke="#248f80" d="M1116.6 248.7L1129.2 261.2 1137.0 266.6 1124.4 254.2Z"/><path fill="#3c9372" stroke="#3c9372" d="M1104.0 233.8L1116.6 248.7 1124.4 254.2 1111.8 239.3Z"/><path fill="#619560" stroke="#619560" d="M1091.4 217.1L1104.0 233.8 1111.8 239.3 1099.2 222.6Z"/><path fill="#819453" stroke="#819453" d="M1078.8 199.6L1091.4 217.1 1099.2 222.6 1086.6 205.2Z"/><path fill="#a39246" stroke="#a39246" d="M1066.2 182.7L1078.8 199.6 1086.6 205.2 1074.0 188.3Z"/><path fill="#bc9039" stroke="#bc9039" d="M1053.5 167.4L1066.2 182.7 1074.0 188.3 1061.4 173.0Z"/><path fill="#c69c27" stroke="#c69c27" d="M1040.9 154.7L1053.5 167.4 1061.4 173.0 1048.8 160.3Z"/><path fill="#c1a91d" stroke="#c1a91d" d="M1028.3 145.2L1040.9 154.7 1048.8 160.3 1036.1 150.8Z"/><path fill="#bfb713" stroke="#bfb713" d="M1015.7 139.1L1028.3 145.2 1036.1 150.8 1023.5 144.7Z"/><path fill="#c0bd0f" stroke="#c0bd0f" d="M1003.1 136.7L1015.7 139.1 1023.5 144.7 1010.9 142.3Z"/><path fill="#c2c40b" stroke="#c2c40b" d="M990.5 137.9L1003.1 136.7 1010.9 142.3 998.3 143.5Z"/><path fill="#05809d" stroke="#05809d" d="M1414.4 233.0L1418.6 232.0 1426.4 242.0 1422.2 243.0ZM1401.8 236.1L1414.4 233.0 1422.2 243.0 1409.6 246.1ZM1389.2 239.3L1401.8 236.1 1409.6 246.1 1397.0 249.2Z"/><path fill="#057da0" stroke="#057da0" d="M1376.6 242.5L1389.2 239.3 1397.0 249.2 1384.4 252.4ZM1364.0 245.7L1376.6 242.5 1384.4 252.4 1371.8 255.7ZM1351.4 249.1L1364.0 245.7 1371.8 255.7 1359.2 259.0ZM1338.8 252.6L1351.4 249.1 1359.2 259.0 1346.6 262.5ZM1326.2 256.2L1338.8 252.6 1346.6 262.5 1334.0 266.1ZM1313.5 259.9L1326.2 256.2 1334.0 266.1 1321.4 269.8ZM1300.9 263.7L1313.5 259.9 1321.4 269.8 1308.8 273.6ZM1288.3 267.6L1300.9 263.7 1308.8 273.6 1296.1 277.5ZM1275.7 271.6L1288.3 267.6 1296.1 277.5 1283.5 281.5ZM1263.1 275.6L1275.7 271.6 1283.5 281.5 1270.9 285.4Z"/><path fill="#057aa2" stroke="#057aa2" d="M1250.5 279.4L1263.1 275.6 1270.9 285.4 1258.3 289.2ZM1237.9 282.9L1250.5 279.4 1258.3 289.2 1245.7 292.7ZM1225.3 286.0L1237.9 282.9 1245.7 292.7 1233.1 295.8ZM1212.7 288.3L1225.3 286.0 1233.1 295.8 1220.5 298.1Z"/><path fill="#057da0" stroke="#057da0" d="M1200.1 289.5L1212.7 288.3 1220.5 298.1 1207.9 299.4ZM1187.5 289.3L1200.1 289.5 1207.9 299.4 1195.3 299.3Z"/><path fill="#05809d" stroke="#05809d" d="M1174.8 287.3L1187.5 289.3 1195.3 299.3 1182.7 297.5Z"/><path fill="#05829b" stroke="#05829b" d="M1162.2 283.1L1174.8 287.3 1182.7 297.5 1170.1 293.5Z"/><path fill="#058497" stroke="#058497" d="M1149.6 276.3L1162.2 283.1 1170.1 293.5 1157.4 287.1Z"/><path fill="#118a8c" stroke="#118a8c" d="M1137.0 266.6L1149.6 276.3 1157.4 287.1 1144.8 277.9Z"/><path fill="#1d8d84" stroke="#1d8d84" d="M1124.4 254.2L1137.0 266.6 1144.8 277.9 1132.2 266.1Z"/><path fill="#339276" stroke="#339276" d="M1111.8 239.3L1124.4 254.2 1132.2 266.1 1119.6 251.8Z"/><path fill="#589564" stroke="#589564" d="M1099.2 222.6L1111.8 239.3 1119.6 251.8 1107.0 235.8Z"/><path fill="#799556" stroke="#799556" d="M1086.6 205.2L1099.2 222.6 1107.0 235.8 1094.4 219.2Z"/><path fill="#9c9248" stroke="#9c9248" d="M1074.0 188.3L1086.6 205.2 1094.4 219.2 1081.8 203.0Z"/><path fill="#b6903d" stroke="#b6903d" d="M1061.4 173.0L1074.0 188.3 1081.8 203.0 1069.2 188.4Z"/><path fill="#c7982b" stroke="#c7982b" d="M1048.8 160.3L1061.4 173.0 1069.2 188.4 1056.6 176.3Z"/><path fill="#c3a520" stroke="#c3a520" d="M1036.1 150.8L1048.8 160.3 1056.6 176.3 1044.0 167.3Z"/><path fill="#bfad1a" stroke="#bfad1a" d="M1023.5 144.7L1036.1 150.8 1044.0 167.3 1031.4 161.5Z"/><path fill="#bfb713" stroke="#bfb713" d="M1010.9 142.3L1023.5 144.7 1031.4 161.5 1018.7 159.2Z"/><path fill="#c0bd0f" stroke="#c0bd0f" d="M998.3 143.5L1010.9 142.3 1018.7 159.2 1006.1 160.2Z"/><path fill="#057aa2" stroke="#057aa2" d="M1422.2 243.0L1426.4 242.0 1434.3 257.5 1430.1 258.6ZM1409.6 246.1L1422.2 243.0 1430.1 258.6 1417.4 261.7ZM1397.0 249.2L1409.6 246.1 1417.4 261.7 1404.8 264.8ZM1384.4 252.4L1397.0 249.2 1404.8 264.8 1392.2 268.0ZM1371.8 255.7L1384.4 252.4 1392.2 268.0 1379.6 271.2ZM1359.2 259.0L1371.8 255.7 1379.6 271.2 1367.0 274.6ZM1346.6 262.5L1359.2 259.0 1367.0 274.6 1354.4 278.0ZM1334.0 266.1L1346.6 262.5 1354.4 278.0 1341.8 281.5ZM1321.4 269.8L1334.0 266.1 1341.8 281.5 1329.2 285.2ZM1308.8 273.6L1321.4 269.8 1329.2 285.2 1316.6 289.0Z"/><path fill="#0777a3" stroke="#0777a3" d="M1296.1 277.5L1308.8 273.6 1316.6 289.0 1304.0 292.8ZM1283.5 281.5L1296.1 277.5 1304.0 292.8 1291.4 296.7ZM1270.9 285.4L1283.5 281.5 1291.4 296.7 1278.7 300.6ZM1258.3 289.2L1270.9 285.4 1278.7 300.6 1266.1 304.3ZM1245.7 292.7L1258.3 289.2 1266.1 304.3 1253.5 307.8ZM1233.1 295.8L1245.7 292.7 1253.5 307.8 1240.9 310.8ZM1220.5 298.1L1233.1 295.8 1240.9 310.8 1228.3 313.2ZM1207.9 299.4L1220.5 298.1 1228.3 313.2 1215.7 314.5Z"/><path fill="#057aa2" stroke="#057aa2" d="M1195.3 299.3L1207.9 299.4 1215.7 314.5 1203.1 314.6ZM1182.7 297.5L1195.3 299.3 1203.1 314.6 1190.5 312.9Z"/><path fill="#057da0" stroke="#057da0" d="M1170.1 293.5L1182.7 297.5 1190.5 312.9 1177.9 309.3Z"/><path fill="#05829b" stroke="#05829b" d="M1157.4 287.1L1170.1 293.5 1177.9 309.3 1165.3 303.2Z"/><path fill="#088694" stroke="#088694" d="M1144.8 277.9L1157.4 287.1 1165.3 303.2 1152.7 294.6Z"/><path fill="#118a8c" stroke="#118a8c" d="M1132.2 266.1L1144.8 277.9 1152.7 294.6 1140.0 283.4Z"/><path fill="#248f80" stroke="#248f80" d="M1119.6 251.8L1132.2 266.1 1140.0 283.4 1127.4 269.8Z"/><path fill="#45946d" stroke="#45946d" d="M1107.0 235.8L1119.6 251.8 1127.4 269.8 1114.8 254.6Z"/><path fill="#69955d" stroke="#69955d" d="M1094.4 219.2L1107.0 235.8 1114.8 254.6 1102.2 238.7Z"/><path fill="#889450" stroke="#889450" d="M1081.8 203.0L1094.4 219.2 1102.2 238.7 1089.6 223.1Z"/><path fill="#a39246" stroke="#a39246" d="M1069.2 188.4L1081.8 203.0 1089.6 223.1 1077.0 209.1Z"/><path fill="#bc9039" stroke="#bc9039" d="M1056.6 176.3L1069.2 188.4 1077.0 209.1 1064.4 197.3Z"/><path fill="#c7982b" stroke="#c7982b" d="M1044.0 167.3L1056.6 176.3 1064.4 197.3 1051.8 188.4Z"/><path fill="#c5a024" stroke="#c5a024" d="M1031.4 161.5L1044.0 167.3 1051.8 188.4 1039.2 182.7Z"/><path fill="#c1a91d" stroke="#c1a91d" d="M1018.7 159.2L1031.4 161.5 1039.2 182.7 1026.6 180.2Z"/><path fill="#bfad1a" stroke="#bfad1a" d="M1006.1 160.2L1018.7 159.2 1026.6 180.2 1014.0 181.1Z"/><path fill="#0a73a4" stroke="#0a73a4" d="M1430.1 258.6L1434.3 257.5 1442.1 275.2 1437.9 276.2ZM1417.4 261.7L1430.1 258.6 1437.9 276.2 1425.3 279.3ZM1404.8 264.8L1417.4 261.7 1425.3 279.3 1412.7 282.4ZM1392.2 268.0L1404.8 264.8 1412.7 282.4 1400.0 285.6ZM1379.6 271.2L1392.2 268.0 1400.0 285.6 1387.4 288.8ZM1367.0 274.6L1379.6 271.2 1387.4 288.8 1374.8 292.2ZM1354.4 278.0L1367.0 274.6 1374.8 292.2 1362.2 295.6ZM1341.8 281.5L1354.4 278.0 1362.2 295.6 1349.6 299.1ZM1329.2 285.2L1341.8 281.5 1349.6 299.1 1337.0 302.7ZM1316.6 289.0L1329.2 285.2 1337.0 302.7 1324.4 306.4Z"/><path fill="#0d6fa4" stroke="#0d6fa4" d="M1304.0 292.8L1316.6 289.0 1324.4 306.4 1311.8 310.2ZM1291.4 296.7L1304.0 292.8 1311.8 310.2 1299.2 314.0ZM1278.7 300.6L1291.4 296.7 1299.2 314.0 1286.6 317.8ZM1266.1 304.3L1278.7 300.6 1286.6 317.8 1274.0 321.5ZM1253.5 307.8L1266.1 304.3 1274.0 321.5 1261.3 324.9ZM1240.9 310.8L1253.5 307.8 1261.3 324.9 1248.7 327.9ZM1228.3 313.2L1240.9 310.8 1248.7 327.9 1236.1 330.3ZM1215.7 314.5L1228.3 313.2 1236.1 330.3 1223.5 331.8Z"/><path fill="#0a73a4" stroke="#0a73a4" d="M1203.1 314.6L1215.7 314.5 1223.5 331.8 1210.9 332.1ZM1190.5 312.9L1203.1 314.6 1210.9 332.1 1198.3 330.8Z"/><path fill="#0777a3" stroke="#0777a3" d="M1177.9 309.3L1190.5 312.9 1198.3 330.8 1185.7 327.6Z"/><path fill="#057da0" stroke="#057da0" d="M1165.3 303.2L1177.9 309.3 1185.7 327.6 1173.1 322.2Z"/><path fill="#05809d" stroke="#05809d" d="M1152.7 294.6L1165.3 303.2 1173.1 322.2 1160.5 314.5Z"/><path fill="#088694" stroke="#088694" d="M1140.0 283.4L1152.7 294.6 1160.5 314.5 1147.9 304.3Z"/><path fill="#178c88" stroke="#178c88" d="M1127.4 269.8L1140.0 283.4 1147.9 304.3 1135.3 292.0Z"/><path fill="#2b907b" stroke="#2b907b" d="M1114.8 254.6L1127.4 269.8 1135.3 292.0 1122.6 278.1Z"/><path fill="#4f9468" stroke="#4f9468" d="M1102.2 238.7L1114.8 254.6 1122.6 278.1 1110.0 263.5Z"/><path fill="#69955d" stroke="#69955d" d="M1089.6 223.1L1102.2 238.7 1110.0 263.5 1097.4 249.3Z"/><path fill="#889450" stroke="#889450" d="M1077.0 209.1L1089.6 223.1 1097.4 249.3 1084.8 236.4Z"/><path fill="#9c9248" stroke="#9c9248" d="M1064.4 197.3L1077.0 209.1 1084.8 236.4 1072.2 225.5Z"/><path fill="#b09140" stroke="#b09140" d="M1051.8 188.4L1064.4 197.3 1072.2 225.5 1059.6 217.3Z"/><path fill="#c29135" stroke="#c29135" d="M1039.2 182.7L1051.8 188.4 1059.6 217.3 1047.0 212.0Z"/><path fill="#c69430" stroke="#c69430" d="M1026.6 180.2L1039.2 182.7 1047.0 212.0 1034.4 209.5Z"/><path fill="#c7982b" stroke="#c7982b" d="M1014.0 181.1L1026.6 180.2 1034.4 209.5 1021.8 210.0Z"/><path fill="#0f6ba4" stroke="#0f6ba4" d="M1437.9 276.2L1442.1 275.2 1449.9 294.5 1445.7 295.5ZM1425.3 279.3L1437.9 276.2 1445.7 295.5 1433.1 298.6ZM1412.7 282.4L1425.3 279.3 1433.1 298.6 1420.5 301.7ZM1400.0 285.6L1412.7 282.4 1420.5 301.7 1407.9 304.9ZM1387.4 288.8L1400.0 285.6 1407.9 304.9 1395.3 308.1ZM1374.8 292.2L1387.4 288.8 1395.3 308.1 1382.6 311.4ZM1362.2 295.6L1374.8 292.2 1382.6 311.4 1370.0 314.8Z"/><path fill="#1067a5" stroke="#1067a5" d="M1349.6 299.1L1362.2 295.6 1370.0 314.8 1357.4 318.2ZM1337.0 302.7L1349.6 299.1 1357.4 318.2 1344.8 321.8ZM1324.4 306.4L1337.0 302.7 1344.8 321.8 1332.2 325.4ZM1311.8 310.2L1324.4 306.4 1332.2 325.4 1319.6 329.1ZM1299.2 314.0L1311.8 310.2 1319.6 329.1 1307.0 332.9ZM1286.6 317.8L1299.2 314.0 1307.0 332.9 1294.4 336.6ZM1274.0 321.5L1286.6 317.8 1294.4 336.6 1281.8 340.2ZM1261.3 324.9L1274.0 321.5 1281.8 340.2 1269.2 343.6ZM1248.7 327.9L1261.3 324.9 1269.2 343.6 1256.6 346.6ZM1236.1 330.3L1248.7 327.9 1256.6 346.6 1243.9 349.1ZM1223.5 331.8L1236.1 330.3 1243.9 349.1 1231.3 350.7ZM1210.9 332.1L1223.5 331.8 1231.3 350.7 1218.7 351.2Z"/><path fill="#0f6ba4" stroke="#0f6ba4" d="M1198.3 330.8L1210.9 332.1 1218.7 351.2 1206.1 350.3Z"/><path fill="#0d6fa4" stroke="#0d6fa4" d="M1185.7 327.6L1198.3 330.8 1206.1 350.3 1193.5 347.7Z"/><path fill="#0a73a4" stroke="#0a73a4" d="M1173.1 322.2L1185.7 327.6 1193.5 347.7 1180.9 343.2Z"/><path fill="#057aa2" stroke="#057aa2" d="M1160.5 314.5L1173.1 322.2 1180.9 343.2 1168.3 336.4Z"/><path fill="#05809d" stroke="#05809d" d="M1147.9 304.3L1160.5 314.5 1168.3 336.4 1155.7 327.4Z"/><path fill="#058497" stroke="#058497" d="M1135.3 292.0L1147.9 304.3 1155.7 327.4 1143.1 316.5Z"/><path fill="#118a8c" stroke="#118a8c" d="M1122.6 278.1L1135.3 292.0 1143.1 316.5 1130.5 304.1Z"/><path fill="#248f80" stroke="#248f80" d="M1110.0 263.5L1122.6 278.1 1130.5 304.1 1117.9 291.1Z"/><path fill="#45946d" stroke="#45946d" d="M1097.4 249.3L1110.0 263.5 1117.9 291.1 1105.2 278.3Z"/><path fill="#619560" stroke="#619560" d="M1084.8 236.4L1097.4 249.3 1105.2 278.3 1092.6 266.8Z"/><path fill="#799556" stroke="#799556" d="M1072.2 225.5L1084.8 236.4 1092.6 266.8 1080.0 257.0Z"/><path fill="#8f934e" stroke="#8f934e" d="M1059.6 217.3L1072.2 225.5 1080.0 257.0 1067.4 249.6Z"/><path fill="#9c9248" stroke="#9c9248" d="M1047.0 212.0L1059.6 217.3 1067.4 249.6 1054.8 244.7Z"/><path fill="#a39246" stroke="#a39246" d="M1034.4 209.5L1047.0 212.0 1054.8 244.7 1042.2 242.3Z"/><path fill="#a99143" stroke="#a99143" d="M1021.8 210.0L1034.4 209.5 1042.2 242.3 1029.6 242.4Z"/><path fill="#0e61a8" stroke="#0e61a8" d="M1445.7 295.5L1449.9 294.5 1457.7 316.7 1453.5 317.8ZM1433.1 298.6L1445.7 295.5 1453.5 317.8 1440.9 320.8ZM1420.5 301.7L1433.1 298.6 1440.9 320.8 1428.3 324.0ZM1407.9 304.9L1420.5 301.7 1428.3 324.0 1415.7 327.1ZM1395.3 308.1L1407.9 304.9 1415.7 327.1 1403.1 330.3ZM1382.6 311.4L1395.3 308.1 1403.1 330.3 1390.5 333.6ZM1370.0 314.8L1382.6 311.4 1390.5 333.6 1377.9 336.9ZM1357.4 318.2L1370.0 314.8 1377.9 336.9 1365.2 340.3ZM1344.8 321.8L1357.4 318.2 1365.2 340.3 1352.6 343.8ZM1332.2 325.4L1344.8 321.8 1352.6 343.8 1340.0 347.4ZM1319.6 329.1L1332.2 325.4 1340.0 347.4 1327.4 351.0ZM1307.0 332.9L1319.6 329.1 1327.4 351.0 1314.8 354.6Z"/><path fill="#0d5eaa" stroke="#0d5eaa" d="M1294.4 336.6L1307.0 332.9 1314.8 354.6 1302.2 358.3ZM1281.8 340.2L1294.4 336.6 1302.2 358.3 1289.6 361.8ZM1269.2 343.6L1281.8 340.2 1289.6 361.8 1277.0 365.2ZM1256.6 346.6L1269.2 343.6 1277.0 365.2 1264.4 368.2ZM1243.9 349.1L1256.6 346.6 1264.4 368.2 1251.8 370.7ZM1231.3 350.7L1243.9 349.1 1251.8 370.7 1239.2 372.5Z"/><path fill="#0e61a8" stroke="#0e61a8" d="M1218.7 351.2L1231.3 350.7 1239.2 372.5 1226.5 373.3ZM1206.1 350.3L1218.7 351.2 1226.5 373.3 1213.9 373.0Z"/><path fill="#0f64a7" stroke="#0f64a7" d="M1193.5 347.7L1206.1 350.3 1213.9 373.0 1201.3 371.1Z"/><path fill="#1067a5" stroke="#1067a5" d="M1180.9 343.2L1193.5 347.7 1201.3 371.1 1188.7 367.5Z"/><path fill="#0f6ba4" stroke="#0f6ba4" d="M1168.3 336.4L1180.9 343.2 1188.7 367.5 1176.1 362.0Z"/><path fill="#0a73a4" stroke="#0a73a4" d="M1155.7 327.4L1168.3 336.4 1176.1 362.0 1163.5 354.5Z"/><path fill="#057aa2" stroke="#057aa2" d="M1143.1 316.5L1155.7 327.4 1163.5 354.5 1150.9 345.4Z"/><path fill="#05829b" stroke="#05829b" d="M1130.5 304.1L1143.1 316.5 1150.9 345.4 1138.3 334.9Z"/><path fill="#0c8890" stroke="#0c8890" d="M1117.9 291.1L1130.5 304.1 1138.3 334.9 1125.7 323.9Z"/><path fill="#178c88" stroke="#178c88" d="M1105.2 278.3L1117.9 291.1 1125.7 323.9 1113.1 313.1Z"/><path fill="#2b907b" stroke="#2b907b" d="M1092.6 266.8L1105.2 278.3 1113.1 313.1 1100.5 303.3Z"/><path fill="#45946d" stroke="#45946d" d="M1080.0 257.0L1092.6 266.8 1100.5 303.3 1087.8 295.0Z"/><path fill="#589564" stroke="#589564" d="M1067.4 249.6L1080.0 257.0 1087.8 295.0 1075.2 288.5Z"/><path fill="#69955d" stroke="#69955d" d="M1054.8 244.7L1067.4 249.6 1075.2 288.5 1062.6 284.2Z"/><path fill="#729559" stroke="#729559" d="M1042.2 242.3L1054.8 244.7 1062.6 284.2 1050.0 281.9Z"/><path fill="#799556" stroke="#799556" d="M1029.6 242.4L1042.2 242.3 1050.0 281.9 1037.4 281.6Z"/><path fill="#0758ad" stroke="#0758ad" d="M1453.5 317.8L1457.7 316.7 1465.5 339.9 1461.3 340.9ZM1440.9 320.8L1453.5 317.8 1461.3 340.9 1448.7 344.0ZM1428.3 324.0L1440.9 320.8 1448.7 344.0 1436.1 347.1ZM1415.7 327.1L1428.3 324.0 1436.1 347.1 1423.5 350.2ZM1403.1 330.3L1415.7 327.1 1423.5 350.2 1410.9 353.4ZM1390.5 333.6L1403.1 330.3 1410.9 353.4 1398.3 356.6ZM1377.9 336.9L1390.5 333.6 1398.3 356.6 1385.7 359.9ZM1365.2 340.3L1377.9 336.9 1385.7 359.9 1373.1 363.3ZM1352.6 343.8L1365.2 340.3 1373.1 363.3 1360.5 366.7ZM1340.0 347.4L1352.6 343.8 1360.5 366.7 1347.8 370.2ZM1327.4 351.0L1340.0 347.4 1347.8 370.2 1335.2 373.7ZM1314.8 354.6L1327.4 351.0 1335.2 373.7 1322.6 377.3ZM1302.2 358.3L1314.8 354.6 1322.6 377.3 1310.0 380.8ZM1289.6 361.8L1302.2 358.3 1310.0 380.8 1297.4 384.3ZM1277.0 365.2L1289.6 361.8 1297.4 384.3 1284.8 387.6ZM1264.4 368.2L1277.0 365.2 1284.8 387.6 1272.2 390.7ZM1251.8 370.7L1264.4 368.2 1272.2 390.7 1259.6 393.3ZM1239.2 372.5L1251.8 370.7 1259.6 393.3 1247.0 395.3ZM1226.5 373.3L1239.2 372.5 1247.0 395.3 1234.4 396.6ZM1213.9 373.0L1226.5 373.3 1234.4 396.6 1221.8 396.8Z"/><path fill="#0a5bac" stroke="#0a5bac" d="M1201.3 371.1L1213.9 373.0 1221.8 396.8 1209.1 395.8Z"/><path fill="#0d5eaa" stroke="#0d5eaa" d="M1188.7 367.5L1201.3 371.1 1209.1 395.8 1196.5 393.3Z"/><path fill="#0e61a8" stroke="#0e61a8" d="M1176.1 362.0L1188.7 367.5 1196.5 393.3 1183.9 389.3Z"/><path fill="#0f64a7" stroke="#0f64a7" d="M1163.5 354.5L1176.1 362.0 1183.9 389.3 1171.3 383.8Z"/><path fill="#0f6ba4" stroke="#0f6ba4" d="M1150.9 345.4L1163.5 354.5 1171.3 383.8 1158.7 376.8Z"/><path fill="#0a73a4" stroke="#0a73a4" d="M1138.3 334.9L1150.9 345.4 1158.7 376.8 1146.1 368.7Z"/><path fill="#057aa2" stroke="#057aa2" d="M1125.7 323.9L1138.3 334.9 1146.1 368.7 1133.5 360.2Z"/><path fill="#05829b" stroke="#05829b" d="M1113.1 313.1L1125.7 323.9 1133.5 360.2 1120.9 351.9Z"/><path fill="#088694" stroke="#088694" d="M1100.5 303.3L1113.1 313.1 1120.9 351.9 1108.3 344.4Z"/><path fill="#118a8c" stroke="#118a8c" d="M1087.8 295.0L1100.5 303.3 1108.3 344.4 1095.7 338.0Z"/><path fill="#1d8d84" stroke="#1d8d84" d="M1075.2 288.5L1087.8 295.0 1095.7 338.0 1083.1 333.0Z"/><path fill="#2b907b" stroke="#2b907b" d="M1062.6 284.2L1075.2 288.5 1083.1 333.0 1070.4 329.6Z"/><path fill="#339276" stroke="#339276" d="M1050.0 281.9L1062.6 284.2 1070.4 329.6 1057.8 327.5Z"/><path fill="#3c9372" stroke="#3c9372" d="M1037.4 281.6L1050.0 281.9 1057.8 327.5 1045.2 326.7Z"/><path fill="#0151b0" stroke="#0151b0" d="M1461.3 340.9L1465.5 339.9 1473.3 359.7 1469.1 360.7ZM1448.7 344.0L1461.3 340.9 1469.1 360.7 1456.5 363.8ZM1436.1 347.1L1448.7 344.0 1456.5 363.8 1443.9 366.9ZM1423.5 350.2L1436.1 347.1 1443.9 366.9 1431.3 370.0ZM1410.9 353.4L1423.5 350.2 1431.3 370.0 1418.7 373.2ZM1398.3 356.6L1410.9 353.4 1418.7 373.2 1406.1 376.4ZM1385.7 359.9L1398.3 356.6 1406.1 376.4 1393.5 379.6ZM1373.1 363.3L1385.7 359.9 1393.5 379.6 1380.9 382.9ZM1360.5 366.7L1373.1 363.3 1380.9 382.9 1368.3 386.3ZM1347.8 370.2L1360.5 366.7 1368.3 386.3 1355.7 389.7Z"/><path fill="#024daf" stroke="#024daf" d="M1335.2 373.7L1347.8 370.2 1355.7 389.7 1343.1 393.2ZM1322.6 377.3L1335.2 373.7 1343.1 393.2 1330.4 396.7ZM1310.0 380.8L1322.6 377.3 1330.4 396.7 1317.8 400.2ZM1297.4 384.3L1310.0 380.8 1317.8 400.2 1305.2 403.6ZM1284.8 387.6L1297.4 384.3 1305.2 403.6 1292.6 406.9ZM1272.2 390.7L1284.8 387.6 1292.6 406.9 1280.0 410.0ZM1259.6 393.3L1272.2 390.7 1280.0 410.0 1267.4 412.7ZM1247.0 395.3L1259.6 393.3 1267.4 412.7 1254.8 415.0Z"/><path fill="#0151b0" stroke="#0151b0" d="M1234.4 396.6L1247.0 395.3 1254.8 415.0 1242.2 416.6ZM1221.8 396.8L1234.4 396.6 1242.2 416.6 1229.6 417.4ZM1209.1 395.8L1221.8 396.8 1229.6 417.4 1217.0 417.1Z"/><path fill="#0355af" stroke="#0355af" d="M1196.5 393.3L1209.1 395.8 1217.0 417.1 1204.4 415.7Z"/><path fill="#0758ad" stroke="#0758ad" d="M1183.9 389.3L1196.5 393.3 1204.4 415.7 1191.7 413.1Z"/><path fill="#0a5bac" stroke="#0a5bac" d="M1171.3 383.8L1183.9 389.3 1191.7 413.1 1179.1 409.2Z"/><path fill="#0d5eaa" stroke="#0d5eaa" d="M1158.7 376.8L1171.3 383.8 1179.1 409.2 1166.5 404.1Z"/><path fill="#0f64a7" stroke="#0f64a7" d="M1146.1 368.7L1158.7 376.8 1166.5 404.1 1153.9 398.3Z"/><path fill="#1067a5" stroke="#1067a5" d="M1133.5 360.2L1146.1 368.7 1153.9 398.3 1141.3 392.1Z"/><path fill="#0d6fa4" stroke="#0d6fa4" d="M1120.9 351.9L1133.5 360.2 1141.3 392.1 1128.7 386.1Z"/><path fill="#0777a3" stroke="#0777a3" d="M1108.3 344.4L1120.9 351.9 1128.7 386.1 1116.1 380.8Z"/><path fill="#057aa2" stroke="#057aa2" d="M1095.7 338.0L1108.3 344.4 1116.1 380.8 1103.5 376.2Z"/><path fill="#05809d" stroke="#05809d" d="M1083.1 333.0L1095.7 338.0 1103.5 376.2 1090.9 372.5Z"/><path fill="#05829b" stroke="#05829b" d="M1070.4 329.6L1083.1 333.0 1090.9 372.5 1078.3 370.1Z"/><path fill="#058497" stroke="#058497" d="M1057.8 327.5L1070.4 329.6 1078.3 370.1 1065.7 368.2Z"/><path fill="#088694" stroke="#088694" d="M1045.2 326.7L1057.8 327.5 1065.7 368.2 1053.0 367.1Z"/><path fill="#0c48ad" stroke="#0c48ad" d="M1469.1 360.7L1473.3 359.7 1481.2 375.5 1477.0 376.5ZM1456.5 363.8L1469.1 360.7 1477.0 376.5 1464.4 379.6ZM1443.9 366.9L1456.5 363.8 1464.4 379.6 1451.7 382.7ZM1431.3 370.0L1443.9 366.9 1451.7 382.7 1439.1 385.8ZM1418.7 373.2L1431.3 370.0 1439.1 385.8 1426.5 389.0ZM1406.1 376.4L1418.7 373.2 1426.5 389.0 1413.9 392.2ZM1393.5 379.6L1406.1 376.4 1413.9 392.2 1401.3 395.4ZM1380.9 382.9L1393.5 379.6 1401.3 395.4 1388.7 398.7ZM1368.3 386.3L1380.9 382.9 1388.7 398.7 1376.1 402.0ZM1355.7 389.7L1368.3 386.3 1376.1 402.0 1363.5 405.4ZM1343.1 393.2L1355.7 389.7 1363.5 405.4 1350.9 408.8ZM1330.4 396.7L1343.1 393.2 1350.9 408.8 1338.3 412.2ZM1317.8 400.2L1330.4 396.7 1338.3 412.2 1325.7 415.7ZM1305.2 403.6L1317.8 400.2 1325.7 415.7 1313.0 419.1ZM1292.6 406.9L1305.2 403.6 1313.0 419.1 1300.4 422.4ZM1280.0 410.0L1292.6 406.9 1300.4 422.4 1287.8 425.5ZM1267.4 412.7L1280.0 410.0 1287.8 425.5 1275.2 428.3ZM1254.8 415.0L1267.4 412.7 1275.2 428.3 1262.6 430.7ZM1242.2 416.6L1254.8 415.0 1262.6 430.7 1250.0 432.5ZM1229.6 417.4L1242.2 416.6 1250.0 432.5 1237.4 433.7ZM1217.0 417.1L1229.6 417.4 1237.4 433.7 1224.8 434.0Z"/><path fill="#024daf" stroke="#024daf" d="M1204.4 415.7L1217.0 417.1 1224.8 434.0 1212.2 433.3ZM1191.7 413.1L1204.4 415.7 1212.2 433.3 1199.6 431.6Z"/><path fill="#0151b0" stroke="#0151b0" d="M1179.1 409.2L1191.7 413.1 1199.6 431.6 1187.0 428.9Z"/><path fill="#0355af" stroke="#0355af" d="M1166.5 404.1L1179.1 409.2 1187.0 428.9 1174.3 425.2Z"/><path fill="#0a5bac" stroke="#0a5bac" d="M1153.9 398.3L1166.5 404.1 1174.3 425.2 1161.7 420.8Z"/><path fill="#0d5eaa" stroke="#0d5eaa" d="M1141.3 392.1L1153.9 398.3 1161.7 420.8 1149.1 416.2Z"/><path fill="#0e61a8" stroke="#0e61a8" d="M1128.7 386.1L1141.3 392.1 1149.1 416.2 1136.5 411.8Z"/><path fill="#0f64a7" stroke="#0f64a7" d="M1116.1 380.8L1128.7 386.1 1136.5 411.8 1123.9 407.9Z"/><path fill="#0f6ba4" stroke="#0f6ba4" d="M1103.5 376.2L1116.1 380.8 1123.9 407.9 1111.3 404.6Z"/><path fill="#0d6fa4" stroke="#0d6fa4" d="M1090.9 372.5L1103.5 376.2 1111.3 404.6 1098.7 401.9Z"/><path fill="#0a73a4" stroke="#0a73a4" d="M1078.3 370.1L1090.9 372.5 1098.7 401.9 1086.1 400.0Z"/><path fill="#0777a3" stroke="#0777a3" d="M1065.7 368.2L1078.3 370.1 1086.1 400.0 1073.5 398.3ZM1053.0 367.1L1065.7 368.2 1073.5 398.3 1060.9 396.9Z"/><path fill="#1940a5" stroke="#1940a5" d="M1477.0 376.5L1481.2 375.5 1489.0 389.2 1484.8 390.3ZM1464.4 379.6L1477.0 376.5 1484.8 390.3 1472.2 393.3ZM1451.7 382.7L1464.4 379.6 1472.2 393.3 1459.6 396.4ZM1439.1 385.8L1451.7 382.7 1459.6 396.4 1447.0 399.6ZM1426.5 389.0L1439.1 385.8 1447.0 399.6 1434.3 402.7ZM1413.9 392.2L1426.5 389.0 1434.3 402.7 1421.7 405.9ZM1401.3 395.4L1413.9 392.2 1421.7 405.9 1409.1 409.1ZM1388.7 398.7L1401.3 395.4 1409.1 409.1 1396.5 412.3ZM1376.1 402.0L1388.7 398.7 1396.5 412.3 1383.9 415.6Z"/><path fill="#223a9b" stroke="#223a9b" d="M1363.5 405.4L1376.1 402.0 1383.9 415.6 1371.3 419.0ZM1350.9 408.8L1363.5 405.4 1371.3 419.0 1358.7 422.3ZM1338.3 412.2L1350.9 408.8 1358.7 422.3 1346.1 425.7ZM1325.7 415.7L1338.3 412.2 1346.1 425.7 1333.5 429.1ZM1313.0 419.1L1325.7 415.7 1333.5 429.1 1320.9 432.5ZM1300.4 422.4L1313.0 419.1 1320.9 432.5 1308.3 435.7ZM1287.8 425.5L1300.4 422.4 1308.3 435.7 1295.6 438.9ZM1275.2 428.3L1287.8 425.5 1295.6 438.9 1283.0 441.7ZM1262.6 430.7L1275.2 428.3 1283.0 441.7 1270.4 444.2ZM1250.0 432.5L1262.6 430.7 1270.4 444.2 1257.8 446.2Z"/><path fill="#1940a5" stroke="#1940a5" d="M1237.4 433.7L1250.0 432.5 1257.8 446.2 1245.2 447.7ZM1224.8 434.0L1237.4 433.7 1245.2 447.7 1232.6 448.4ZM1212.2 433.3L1224.8 434.0 1232.6 448.4 1220.0 448.2Z"/><path fill="#0c48ad" stroke="#0c48ad" d="M1199.6 431.6L1212.2 433.3 1220.0 448.2 1207.4 447.2Z"/><path fill="#024daf" stroke="#024daf" d="M1187.0 428.9L1199.6 431.6 1207.4 447.2 1194.8 445.3ZM1174.3 425.2L1187.0 428.9 1194.8 445.3 1182.2 442.5Z"/><path fill="#0151b0" stroke="#0151b0" d="M1161.7 420.8L1174.3 425.2 1182.2 442.5 1169.6 439.2Z"/><path fill="#0355af" stroke="#0355af" d="M1149.1 416.2L1161.7 420.8 1169.6 439.2 1156.9 435.7Z"/><path fill="#0758ad" stroke="#0758ad" d="M1136.5 411.8L1149.1 416.2 1156.9 435.7 1144.3 432.3Z"/><path fill="#0a5bac" stroke="#0a5bac" d="M1123.9 407.9L1136.5 411.8 1144.3 432.3 1131.7 429.4Z"/><path fill="#0d5eaa" stroke="#0d5eaa" d="M1111.3 404.6L1123.9 407.9 1131.7 429.4 1119.1 426.9Z"/><path fill="#0e61a8" stroke="#0e61a8" d="M1098.7 401.9L1111.3 404.6 1119.1 426.9 1106.5 424.7Z"/><path fill="#0f64a7" stroke="#0f64a7" d="M1086.1 400.0L1098.7 401.9 1106.5 424.7 1093.9 423.2Z"/><path fill="#1067a5" stroke="#1067a5" d="M1073.5 398.3L1086.1 400.0 1093.9 423.2 1081.3 421.5Z"/><path fill="#0f6ba4" stroke="#0f6ba4" d="M1060.9 396.9L1073.5 398.3 1081.3 421.5 1068.7 419.9Z"/><path fill="#223a9b" stroke="#223a9b" d="M1484.8 390.3L1489.0 389.2 1496.8 402.6 1492.6 403.6ZM1472.2 393.3L1484.8 390.3 1492.6 403.6 1480.0 406.7ZM1459.6 396.4L1472.2 393.3 1480.0 406.7 1467.4 409.8ZM1447.0 399.6L1459.6 396.4 1467.4 409.8 1454.8 412.9ZM1434.3 402.7L1447.0 399.6 1454.8 412.9 1442.2 416.0ZM1421.7 405.9L1434.3 402.7 1442.2 416.0 1429.6 419.2ZM1409.1 409.1L1421.7 405.9 1429.6 419.2 1416.9 422.4ZM1396.5 412.3L1409.1 409.1 1416.9 422.4 1404.3 425.6Z"/><path fill="#273591" stroke="#273591" d="M1383.9 415.6L1396.5 412.3 1404.3 425.6 1391.7 428.8ZM1371.3 419.0L1383.9 415.6 1391.7 428.8 1379.1 432.1ZM1358.7 422.3L1371.3 419.0 1379.1 432.1 1366.5 435.5ZM1346.1 425.7L1358.7 422.3 1366.5 435.5 1353.9 438.8ZM1333.5 429.1L1346.1 425.7 1353.9 438.8 1341.3 442.2ZM1320.9 432.5L1333.5 429.1 1341.3 442.2 1328.7 445.5ZM1308.3 435.7L1320.9 432.5 1328.7 445.5 1316.1 448.7ZM1295.6 438.9L1308.3 435.7 1316.1 448.7 1303.5 451.8ZM1283.0 441.7L1295.6 438.9 1303.5 451.8 1290.9 454.7ZM1270.4 444.2L1283.0 441.7 1290.9 454.7 1278.2 457.3ZM1257.8 446.2L1270.4 444.2 1278.2 457.3 1265.6 459.4Z"/><path fill="#223a9b" stroke="#223a9b" d="M1245.2 447.7L1257.8 446.2 1265.6 459.4 1253.0 461.1ZM1232.6 448.4L1245.2 447.7 1253.0 461.1 1240.4 462.1ZM1220.0 448.2L1232.6 448.4 1240.4 462.1 1227.8 462.3Z"/><path fill="#1940a5" stroke="#1940a5" d="M1207.4 447.2L1220.0 448.2 1227.8 462.3 1215.2 461.8ZM1194.8 445.3L1207.4 447.2 1215.2 461.8 1202.6 460.5Z"/><path fill="#0c48ad" stroke="#0c48ad" d="M1182.2 442.5L1194.8 445.3 1202.6 460.5 1190.0 458.5Z"/><path fill="#024daf" stroke="#024daf" d="M1169.6 439.2L1182.2 442.5 1190.0 458.5 1177.4 456.0ZM1156.9 435.7L1169.6 439.2 1177.4 456.0 1164.8 453.2Z"/><path fill="#0151b0" stroke="#0151b0" d="M1144.3 432.3L1156.9 435.7 1164.8 453.2 1152.2 450.6Z"/><path fill="#0355af" stroke="#0355af" d="M1131.7 429.4L1144.3 432.3 1152.2 450.6 1139.5 448.4Z"/><path fill="#0758ad" stroke="#0758ad" d="M1119.1 426.9L1131.7 429.4 1139.5 448.4 1126.9 446.3Z"/><path fill="#0a5bac" stroke="#0a5bac" d="M1106.5 424.7L1119.1 426.9 1126.9 446.3 1114.3 444.5Z"/><path fill="#0d5eaa" stroke="#0d5eaa" d="M1093.9 423.2L1106.5 424.7 1114.3 444.5 1101.7 443.2ZM1081.3 421.5L1093.9 423.2 1101.7 443.2 1089.1 441.5Z"/><path fill="#0e61a8" stroke="#0e61a8" d="M1068.7 419.9L1081.3 421.5 1089.1 441.5 1076.5 439.7Z"/><path fill="#292f87" stroke="#292f87" d="M1492.6 403.6L1496.8 402.6 1504.6 416.7 1500.4 417.7ZM1480.0 406.7L1492.6 403.6 1500.4 417.7 1487.8 420.8ZM1467.4 409.8L1480.0 406.7 1487.8 420.8 1475.2 423.9ZM1454.8 412.9L1467.4 409.8 1475.2 423.9 1462.6 427.0ZM1442.2 416.0L1454.8 412.9 1462.6 427.0 1450.0 430.1ZM1429.6 419.2L1442.2 416.0 1450.0 430.1 1437.4 433.3ZM1416.9 422.4L1429.6 419.2 1437.4 433.3 1424.8 436.4ZM1404.3 425.6L1416.9 422.4 1424.8 436.4 1412.2 439.6ZM1391.7 428.8L1404.3 425.6 1412.2 439.6 1399.5 442.8ZM1379.1 432.1L1391.7 428.8 1399.5 442.8 1386.9 446.1ZM1366.5 435.5L1379.1 432.1 1386.9 446.1 1374.3 449.4ZM1353.9 438.8L1366.5 435.5 1374.3 449.4 1361.7 452.7ZM1341.3 442.2L1353.9 438.8 1361.7 452.7 1349.1 456.0ZM1328.7 445.5L1341.3 442.2 1349.1 456.0 1336.5 459.2ZM1316.1 448.7L1328.7 445.5 1336.5 459.2 1323.9 462.4ZM1303.5 451.8L1316.1 448.7 1323.9 462.4 1311.3 465.5ZM1290.9 454.7L1303.5 451.8 1311.3 465.5 1298.7 468.4ZM1278.2 457.3L1290.9 454.7 1298.7 468.4 1286.1 471.0ZM1265.6 459.4L1278.2 457.3 1286.1 471.0 1273.5 473.3Z"/><path fill="#273591" stroke="#273591" d="M1253.0 461.1L1265.6 459.4 1273.5 473.3 1260.8 475.1ZM1240.4 462.1L1253.0 461.1 1260.8 475.1 1248.2 476.3ZM1227.8 462.3L1240.4 462.1 1248.2 476.3 1235.6 476.9ZM1215.2 461.8L1227.8 462.3 1235.6 476.9 1223.0 476.9Z"/><path fill="#223a9b" stroke="#223a9b" d="M1202.6 460.5L1215.2 461.8 1223.0 476.9 1210.4 476.1ZM1190.0 458.5L1202.6 460.5 1210.4 476.1 1197.8 474.7Z"/><path fill="#1940a5" stroke="#1940a5" d="M1177.4 456.0L1190.0 458.5 1197.8 474.7 1185.2 472.8Z"/><path fill="#0c48ad" stroke="#0c48ad" d="M1164.8 453.2L1177.4 456.0 1185.2 472.8 1172.6 470.7ZM1152.2 450.6L1164.8 453.2 1172.6 470.7 1160.0 468.6Z"/><path fill="#024daf" stroke="#024daf" d="M1139.5 448.4L1152.2 450.6 1160.0 468.6 1147.4 466.8Z"/><path fill="#0151b0" stroke="#0151b0" d="M1126.9 446.3L1139.5 448.4 1147.4 466.8 1134.8 465.0Z"/><path fill="#0355af" stroke="#0355af" d="M1114.3 444.5L1126.9 446.3 1134.8 465.0 1122.1 463.4ZM1101.7 443.2L1114.3 444.5 1122.1 463.4 1109.5 462.1Z"/><path fill="#0758ad" stroke="#0758ad" d="M1089.1 441.5L1101.7 443.2 1109.5 462.1 1096.9 460.3Z"/><path fill="#0a5bac" stroke="#0a5bac" d="M1076.5 439.7L1089.1 441.5 1096.9 460.3 1084.3 458.3Z"/><path fill="#292f87" stroke="#292f87" d="M1500.4 417.7L1504.6 416.7 1512.4 427.2 1508.2 428.2ZM1487.8 420.8L1500.4 417.7 1508.2 428.2 1495.6 431.3ZM1475.2 423.9L1487.8 420.8 1495.6 431.3 1483.0 434.3ZM1462.6 427.0L1475.2 423.9 1483.0 434.3 1470.4 437.4ZM1450.0 430.1L1462.6 427.0 1470.4 437.4 1457.8 440.6ZM1437.4 433.3L1450.0 430.1 1457.8 440.6 1445.2 443.7ZM1424.8 436.4L1437.4 433.3 1445.2 443.7 1432.6 446.8ZM1412.2 439.6L1424.8 436.4 1432.6 446.8 1420.0 450.0ZM1399.5 442.8L1412.2 439.6 1420.0 450.0 1407.4 453.2ZM1386.9 446.1L1399.5 442.8 1407.4 453.2 1394.8 456.5ZM1374.3 449.4L1386.9 446.1 1394.8 456.5 1382.1 459.7ZM1361.7 452.7L1374.3 449.4 1382.1 459.7 1369.5 463.0ZM1349.1 456.0L1361.7 452.7 1369.5 463.0 1356.9 466.2ZM1336.5 459.2L1349.1 456.0 1356.9 466.2 1344.3 469.5Z"/><path fill="#2a2b7d" stroke="#2a2b7d" d="M1323.9 462.4L1336.5 459.2 1344.3 469.5 1331.7 472.7ZM1311.3 465.5L1323.9 462.4 1331.7 472.7 1319.1 475.7ZM1298.7 468.4L1311.3 465.5 1319.1 475.7 1306.5 478.7Z"/><path fill="#292f87" stroke="#292f87" d="M1286.1 471.0L1298.7 468.4 1306.5 478.7 1293.9 481.4ZM1273.5 473.3L1286.1 471.0 1293.9 481.4 1281.3 483.8ZM1260.8 475.1L1273.5 473.3 1281.3 483.8 1268.7 485.7ZM1248.2 476.3L1260.8 475.1 1268.7 485.7 1256.1 487.3ZM1235.6 476.9L1248.2 476.3 1256.1 487.3 1243.4 488.3ZM1223.0 476.9L1235.6 476.9 1243.4 488.3 1230.8 488.7Z"/><path fill="#273591" stroke="#273591" d="M1210.4 476.1L1223.0 476.9 1230.8 488.7 1218.2 488.5ZM1197.8 474.7L1210.4 476.1 1218.2 488.5 1205.6 487.8Z"/><path fill="#223a9b" stroke="#223a9b" d="M1185.2 472.8L1197.8 474.7 1205.6 487.8 1193.0 486.7ZM1172.6 470.7L1185.2 472.8 1193.0 486.7 1180.4 485.3Z"/><path fill="#1940a5" stroke="#1940a5" d="M1160.0 468.6L1172.6 470.7 1180.4 485.3 1167.8 484.0Z"/><path fill="#0c48ad" stroke="#0c48ad" d="M1147.4 466.8L1160.0 468.6 1167.8 484.0 1155.2 483.0ZM1134.8 465.0L1147.4 466.8 1155.2 483.0 1142.6 481.8Z"/><path fill="#024daf" stroke="#024daf" d="M1122.1 463.4L1134.8 465.0 1142.6 481.8 1130.0 480.7ZM1109.5 462.1L1122.1 463.4 1130.0 480.7 1117.4 479.6Z"/><path fill="#0151b0" stroke="#0151b0" d="M1096.9 460.3L1109.5 462.1 1117.4 479.6 1104.7 477.9Z"/><path fill="#0355af" stroke="#0355af" d="M1084.3 458.3L1096.9 460.3 1104.7 477.9 1092.1 475.7Z"/><path fill="#2a2b7d" stroke="#2a2b7d" d="M1508.2 428.2L1512.4 427.2 1520.3 436.9 1516.0 438.0ZM1495.6 431.3L1508.2 428.2 1516.0 438.0 1503.4 441.0ZM1483.0 434.3L1495.6 431.3 1503.4 441.0 1490.8 444.1ZM1470.4 437.4L1483.0 434.3 1490.8 444.1 1478.2 447.2ZM1457.8 440.6L1470.4 437.4 1478.2 447.2 1465.6 450.3ZM1445.2 443.7L1457.8 440.6 1465.6 450.3 1453.0 453.4ZM1432.6 446.8L1445.2 443.7 1453.0 453.4 1440.4 456.6ZM1420.0 450.0L1432.6 446.8 1440.4 456.6 1427.8 459.7ZM1407.4 453.2L1420.0 450.0 1427.8 459.7 1415.2 462.9ZM1394.8 456.5L1407.4 453.2 1415.2 462.9 1402.6 466.1ZM1382.1 459.7L1394.8 456.5 1402.6 466.1 1390.0 469.4ZM1369.5 463.0L1382.1 459.7 1390.0 469.4 1377.3 472.6ZM1356.9 466.2L1369.5 463.0 1377.3 472.6 1364.7 475.8ZM1344.3 469.5L1356.9 466.2 1364.7 475.8 1352.1 479.1ZM1331.7 472.7L1344.3 469.5 1352.1 479.1 1339.5 482.2ZM1319.1 475.7L1331.7 472.7 1339.5 482.2 1326.9 485.3ZM1306.5 478.7L1319.1 475.7 1326.9 485.3 1314.3 488.3ZM1293.9 481.4L1306.5 478.7 1314.3 488.3 1301.7 491.0ZM1281.3 483.8L1293.9 481.4 1301.7 491.0 1289.1 493.5ZM1268.7 485.7L1281.3 483.8 1289.1 493.5 1276.5 495.6ZM1256.1 487.3L1268.7 485.7 1276.5 495.6 1263.9 497.3ZM1243.4 488.3L1256.1 487.3 1263.9 497.3 1251.3 498.6Z"/><path fill="#292f87" stroke="#292f87" d="M1230.8 488.7L1243.4 488.3 1251.3 498.6 1238.7 499.3ZM1218.2 488.5L1230.8 488.7 1238.7 499.3 1226.0 499.5ZM1205.6 487.8L1218.2 488.5 1226.0 499.5 1213.4 499.3Z"/><path fill="#273591" stroke="#273591" d="M1193.0 486.7L1205.6 487.8 1213.4 499.3 1200.8 498.6ZM1180.4 485.3L1193.0 486.7 1200.8 498.6 1188.2 497.8Z"/><path fill="#223a9b" stroke="#223a9b" d="M1167.8 484.0L1180.4 485.3 1188.2 497.8 1175.6 497.0ZM1155.2 483.0L1167.8 484.0 1175.6 497.0 1163.0 496.4Z"/><path fill="#1940a5" stroke="#1940a5" d="M1142.6 481.8L1155.2 483.0 1163.0 496.4 1150.4 495.6ZM1130.0 480.7L1142.6 481.8 1150.4 495.6 1137.8 494.7Z"/><path fill="#0c48ad" stroke="#0c48ad" d="M1117.4 479.6L1130.0 480.7 1137.8 494.7 1125.2 493.8Z"/><path fill="#024daf" stroke="#024daf" d="M1104.7 477.9L1117.4 479.6 1125.2 493.8 1112.6 492.1ZM1092.1 475.7L1104.7 477.9 1112.6 492.1 1100.0 489.8Z"/><path fill="#2a2b7d" stroke="#2a2b7d" d="M1516.0 438.0L1520.3 436.9 1528.1 446.5 1523.9 447.5ZM1503.4 441.0L1516.0 438.0 1523.9 447.5 1511.3 450.6ZM1490.8 444.1L1503.4 441.0 1511.3 450.6 1498.6 453.7ZM1478.2 447.2L1490.8 444.1 1498.6 453.7 1486.0 456.8ZM1465.6 450.3L1478.2 447.2 1486.0 456.8 1473.4 459.9ZM1453.0 453.4L1465.6 450.3 1473.4 459.9 1460.8 463.0ZM1440.4 456.6L1453.0 453.4 1460.8 463.0 1448.2 466.1ZM1427.8 459.7L1440.4 456.6 1448.2 466.1 1435.6 469.3ZM1415.2 462.9L1427.8 459.7 1435.6 469.3 1423.0 472.4ZM1402.6 466.1L1415.2 462.9 1423.0 472.4 1410.4 475.6ZM1390.0 469.4L1402.6 466.1 1410.4 475.6 1397.8 478.8ZM1377.3 472.6L1390.0 469.4 1397.8 478.8 1385.2 482.1ZM1364.7 475.8L1377.3 472.6 1385.2 482.1 1372.6 485.3ZM1352.1 479.1L1364.7 475.8 1372.6 485.3 1360.0 488.5ZM1339.5 482.2L1352.1 479.1 1360.0 488.5 1347.3 491.6ZM1326.9 485.3L1339.5 482.2 1347.3 491.6 1334.7 494.7ZM1314.3 488.3L1326.9 485.3 1334.7 494.7 1322.1 497.7ZM1301.7 491.0L1314.3 488.3 1322.1 497.7 1309.5 500.5ZM1289.1 493.5L1301.7 491.0 1309.5 500.5 1296.9 503.0ZM1276.5 495.6L1289.1 493.5 1296.9 503.0 1284.3 505.3ZM1263.9 497.3L1276.5 495.6 1284.3 505.3 1271.7 507.2ZM1251.3 498.6L1263.9 497.3 1271.7 507.2 1259.1 508.8ZM1238.7 499.3L1251.3 498.6 1259.1 508.8 1246.5 509.9ZM1226.0 499.5L1238.7 499.3 1246.5 509.9 1233.9 510.5Z"/><path fill="#292f87" stroke="#292f87" d="M1213.4 499.3L1226.0 499.5 1233.9 510.5 1221.3 510.8ZM1200.8 498.6L1213.4 499.3 1221.3 510.8 1208.6 510.7ZM1188.2 497.8L1200.8 498.6 1208.6 510.7 1196.0 510.5Z"/><path fill="#273591" stroke="#273591" d="M1175.6 497.0L1188.2 497.8 1196.0 510.5 1183.4 510.2ZM1163.0 496.4L1175.6 497.0 1183.4 510.2 1170.8 510.1Z"/><path fill="#223a9b" stroke="#223a9b" d="M1150.4 495.6L1163.0 496.4 1170.8 510.1 1158.2 509.8ZM1137.8 494.7L1150.4 495.6 1158.2 509.8 1145.6 509.2Z"/><path fill="#1940a5" stroke="#1940a5" d="M1125.2 493.8L1137.8 494.7 1145.6 509.2 1133.0 508.5ZM1112.6 492.1L1125.2 493.8 1133.0 508.5 1120.4 506.8Z"/><path fill="#0c48ad" stroke="#0c48ad" d="M1100.0 489.8L1112.6 492.1 1120.4 506.8 1107.8 504.4Z"/><path fill="#2a2673" stroke="#2a2673" d="M1523.9 447.5L1528.1 446.5 1535.9 454.9 1531.7 456.0ZM1511.3 450.6L1523.9 447.5 1531.7 456.0 1519.1 459.0ZM1498.6 453.7L1511.3 450.6 1519.1 459.0 1506.5 462.1ZM1486.0 456.8L1498.6 453.7 1506.5 462.1 1493.9 465.2ZM1473.4 459.9L1486.0 456.8 1493.9 465.2 1481.2 468.3ZM1460.8 463.0L1473.4 459.9 1481.2 468.3 1468.6 471.4ZM1448.2 466.1L1460.8 463.0 1468.6 471.4 1456.0 474.5ZM1435.6 469.3L1448.2 466.1 1456.0 474.5 1443.4 477.7ZM1423.0 472.4L1435.6 469.3 1443.4 477.7 1430.8 480.8ZM1410.4 475.6L1423.0 472.4 1430.8 480.8 1418.2 484.0ZM1397.8 478.8L1410.4 475.6 1418.2 484.0 1405.6 487.2ZM1385.2 482.1L1397.8 478.8 1405.6 487.2 1393.0 490.4ZM1372.6 485.3L1385.2 482.1 1393.0 490.4 1380.4 493.6ZM1360.0 488.5L1372.6 485.3 1380.4 493.6 1367.8 496.8ZM1347.3 491.6L1360.0 488.5 1367.8 496.8 1355.2 499.9ZM1334.7 494.7L1347.3 491.6 1355.2 499.9 1342.5 503.0ZM1322.1 497.7L1334.7 494.7 1342.5 503.0 1329.9 506.0ZM1309.5 500.5L1322.1 497.7 1329.9 506.0 1317.3 508.9ZM1296.9 503.0L1309.5 500.5 1317.3 508.9 1304.7 511.5ZM1284.3 505.3L1296.9 503.0 1304.7 511.5 1292.1 513.9ZM1271.7 507.2L1284.3 505.3 1292.1 513.9 1279.5 516.0ZM1259.1 508.8L1271.7 507.2 1279.5 516.0 1266.9 517.8Z"/><path fill="#2a2b7d" stroke="#2a2b7d" d="M1246.5 509.9L1259.1 508.8 1266.9 517.8 1254.3 519.2ZM1233.9 510.5L1246.5 509.9 1254.3 519.2 1241.7 520.2ZM1221.3 510.8L1233.9 510.5 1241.7 520.2 1229.1 520.9ZM1208.6 510.7L1221.3 510.8 1229.1 520.9 1216.5 521.3Z"/><path fill="#292f87" stroke="#292f87" d="M1196.0 510.5L1208.6 510.7 1216.5 521.3 1203.9 521.6ZM1183.4 510.2L1196.0 510.5 1203.9 521.6 1191.2 521.9ZM1170.8 510.1L1183.4 510.2 1191.2 521.9 1178.6 522.2Z"/><path fill="#273591" stroke="#273591" d="M1158.2 509.8L1170.8 510.1 1178.6 522.2 1166.0 522.3ZM1145.6 509.2L1158.2 509.8 1166.0 522.3 1153.4 521.9Z"/><path fill="#223a9b" stroke="#223a9b" d="M1133.0 508.5L1145.6 509.2 1153.4 521.9 1140.8 521.4ZM1120.4 506.8L1133.0 508.5 1140.8 521.4 1128.2 519.9Z"/><path fill="#1940a5" stroke="#1940a5" d="M1107.8 504.4L1120.4 506.8 1128.2 519.9 1115.6 517.3Z"/><path fill="#2a2673" stroke="#2a2673" d="M1531.7 456.0L1535.9 454.9 1543.7 462.6 1539.5 463.6ZM1519.1 459.0L1531.7 456.0 1539.5 463.6 1526.9 466.7ZM1506.5 462.1L1519.1 459.0 1526.9 466.7 1514.3 469.8ZM1493.9 465.2L1506.5 462.1 1514.3 469.8 1501.7 472.8ZM1481.2 468.3L1493.9 465.2 1501.7 472.8 1489.1 475.9ZM1468.6 471.4L1481.2 468.3 1489.1 475.9 1476.5 479.0ZM1456.0 474.5L1468.6 471.4 1476.5 479.0 1463.8 482.2ZM1443.4 477.7L1456.0 474.5 1463.8 482.2 1451.2 485.3ZM1430.8 480.8L1443.4 477.7 1451.2 485.3 1438.6 488.4ZM1418.2 484.0L1430.8 480.8 1438.6 488.4 1426.0 491.6ZM1405.6 487.2L1418.2 484.0 1426.0 491.6 1413.4 494.8ZM1393.0 490.4L1405.6 487.2 1413.4 494.8 1400.8 498.0ZM1380.4 493.6L1393.0 490.4 1400.8 498.0 1388.2 501.2ZM1367.8 496.8L1380.4 493.6 1388.2 501.2 1375.6 504.3ZM1355.2 499.9L1367.8 496.8 1375.6 504.3 1363.0 507.5ZM1342.5 503.0L1355.2 499.9 1363.0 507.5 1350.4 510.6ZM1329.9 506.0L1342.5 503.0 1350.4 510.6 1337.8 513.6ZM1317.3 508.9L1329.9 506.0 1337.8 513.6 1325.1 516.5ZM1304.7 511.5L1317.3 508.9 1325.1 516.5 1312.5 519.2ZM1292.1 513.9L1304.7 511.5 1312.5 519.2 1299.9 521.7ZM1279.5 516.0L1292.1 513.9 1299.9 521.7 1287.3 523.9ZM1266.9 517.8L1279.5 516.0 1287.3 523.9 1274.7 525.9ZM1254.3 519.2L1266.9 517.8 1274.7 525.9 1262.1 527.5ZM1241.7 520.2L1254.3 519.2 1262.1 527.5 1249.5 528.9Z"/><path fill="#2a2b7d" stroke="#2a2b7d" d="M1229.1 520.9L1241.7 520.2 1249.5 528.9 1236.9 529.9ZM1216.5 521.3L1229.1 520.9 1236.9 529.9 1224.3 530.7ZM1203.9 521.6L1216.5 521.3 1224.3 530.7 1211.7 531.4ZM1191.2 521.9L1203.9 521.6 1211.7 531.4 1199.1 532.0Z"/><path fill="#292f87" stroke="#292f87" d="M1178.6 522.2L1191.2 521.9 1199.1 532.0 1186.5 532.8ZM1166.0 522.3L1178.6 522.2 1186.5 532.8 1173.8 533.2ZM1153.4 521.9L1166.0 522.3 1173.8 533.2 1161.2 533.1Z"/><path fill="#273591" stroke="#273591" d="M1140.8 521.4L1153.4 521.9 1161.2 533.1 1148.6 532.7ZM1128.2 519.9L1140.8 521.4 1148.6 532.7 1136.0 531.2Z"/><path fill="#223a9b" stroke="#223a9b" d="M1115.6 517.3L1128.2 519.9 1136.0 531.2 1123.4 528.6Z"/><path fill="#2a2673" stroke="#2a2673" d="M1539.5 463.6L1543.7 462.6 1551.5 469.7 1547.3 470.8ZM1526.9 466.7L1539.5 463.6 1547.3 470.8 1534.7 473.8ZM1514.3 469.8L1526.9 466.7 1534.7 473.8 1522.1 476.9ZM1501.7 472.8L1514.3 469.8 1522.1 476.9 1509.5 480.0ZM1489.1 475.9L1501.7 472.8 1509.5 480.0 1496.9 483.1ZM1476.5 479.0L1489.1 475.9 1496.9 483.1 1484.3 486.2ZM1463.8 482.2L1476.5 479.0 1484.3 486.2 1471.7 489.3ZM1451.2 485.3L1463.8 482.2 1471.7 489.3 1459.1 492.4ZM1438.6 488.4L1451.2 485.3 1459.1 492.4 1446.4 495.6ZM1426.0 491.6L1438.6 488.4 1446.4 495.6 1433.8 498.7ZM1413.4 494.8L1426.0 491.6 1433.8 498.7 1421.2 501.9ZM1400.8 498.0L1413.4 494.8 1421.2 501.9 1408.6 505.1ZM1388.2 501.2L1400.8 498.0 1408.6 505.1 1396.0 508.2ZM1375.6 504.3L1388.2 501.2 1396.0 508.2 1383.4 511.4ZM1363.0 507.5L1375.6 504.3 1383.4 511.4 1370.8 514.5ZM1350.4 510.6L1363.0 507.5 1370.8 514.5 1358.2 517.7ZM1337.8 513.6L1350.4 510.6 1358.2 517.7 1345.6 520.7ZM1325.1 516.5L1337.8 513.6 1345.6 520.7 1333.0 523.6ZM1312.5 519.2L1325.1 516.5 1333.0 523.6 1320.4 526.4ZM1299.9 521.7L1312.5 519.2 1320.4 526.4 1307.8 528.9ZM1287.3 523.9L1299.9 521.7 1307.8 528.9 1295.1 531.3ZM1274.7 525.9L1287.3 523.9 1295.1 531.3 1282.5 533.4ZM1262.1 527.5L1274.7 525.9 1282.5 533.4 1269.9 535.3ZM1249.5 528.9L1262.1 527.5 1269.9 535.3 1257.3 536.9ZM1236.9 529.9L1249.5 528.9 1257.3 536.9 1244.7 538.2ZM1224.3 530.7L1236.9 529.9 1244.7 538.2 1232.1 539.3Z"/><path fill="#2a2b7d" stroke="#2a2b7d" d="M1211.7 531.4L1224.3 530.7 1232.1 539.3 1219.5 540.4ZM1199.1 532.0L1211.7 531.4 1219.5 540.4 1206.9 541.4ZM1186.5 532.8L1199.1 532.0 1206.9 541.4 1194.3 542.5ZM1173.8 533.2L1186.5 532.8 1194.3 542.5 1181.7 543.2Z"/><path fill="#292f87" stroke="#292f87" d="M1161.2 533.1L1173.8 533.2 1181.7 543.2 1169.1 543.3ZM1148.6 532.7L1161.2 533.1 1169.1 543.3 1156.4 543.1ZM1136.0 531.2L1148.6 532.7 1156.4 543.1 1143.8 541.6Z"/><path fill="#273591" stroke="#273591" d="M1123.4 528.6L1136.0 531.2 1143.8 541.6 1131.2 539.0Z"/><path fill="#2a2673" stroke="#2a2673" d="M1547.3 470.8L1551.5 469.7 1559.3 476.7 1555.1 477.7ZM1534.7 473.8L1547.3 470.8 1555.1 477.7 1542.5 480.8ZM1522.1 476.9L1534.7 473.8 1542.5 480.8 1529.9 483.9ZM1509.5 480.0L1522.1 476.9 1529.9 483.9 1517.3 486.9ZM1496.9 483.1L1509.5 480.0 1517.3 486.9 1504.7 490.0ZM1484.3 486.2L1496.9 483.1 1504.7 490.0 1492.1 493.1ZM1471.7 489.3L1484.3 486.2 1492.1 493.1 1479.5 496.2ZM1459.1 492.4L1471.7 489.3 1479.5 496.2 1466.9 499.4ZM1446.4 495.6L1459.1 492.4 1466.9 499.4 1454.3 502.5ZM1433.8 498.7L1446.4 495.6 1454.3 502.5 1441.7 505.6ZM1421.2 501.9L1433.8 498.7 1441.7 505.6 1429.0 508.8ZM1408.6 505.1L1421.2 501.9 1429.0 508.8 1416.4 512.0ZM1396.0 508.2L1408.6 505.1 1416.4 512.0 1403.8 515.1ZM1383.4 511.4L1396.0 508.2 1403.8 515.1 1391.2 518.3ZM1370.8 514.5L1383.4 511.4 1391.2 518.3 1378.6 521.4ZM1358.2 517.7L1370.8 514.5 1378.6 521.4 1366.0 524.6ZM1345.6 520.7L1358.2 517.7 1366.0 524.6 1353.4 527.6ZM1333.0 523.6L1345.6 520.7 1353.4 527.6 1340.8 530.5ZM1320.4 526.4L1333.0 523.6 1340.8 530.5 1328.2 533.4ZM1307.8 528.9L1320.4 526.4 1328.2 533.4 1315.6 536.0ZM1295.1 531.3L1307.8 528.9 1315.6 536.0 1303.0 538.5ZM1282.5 533.4L1295.1 531.3 1303.0 538.5 1290.3 540.7ZM1269.9 535.3L1282.5 533.4 1290.3 540.7 1277.7 542.8ZM1257.3 536.9L1269.9 535.3 1277.7 542.8 1265.1 544.6ZM1244.7 538.2L1257.3 536.9 1265.1 544.6 1252.5 546.2ZM1232.1 539.3L1244.7 538.2 1252.5 546.2 1239.9 547.6ZM1219.5 540.4L1232.1 539.3 1239.9 547.6 1227.3 549.0ZM1206.9 541.4L1219.5 540.4 1227.3 549.0 1214.7 550.4Z"/><path fill="#2a2b7d" stroke="#2a2b7d" d="M1194.3 542.5L1206.9 541.4 1214.7 550.4 1202.1 551.8ZM1181.7 543.2L1194.3 542.5 1202.1 551.8 1189.5 552.7ZM1169.1 543.3L1181.7 543.2 1189.5 552.7 1176.9 553.0ZM1156.4 543.1L1169.1 543.3 1176.9 553.0 1164.3 552.9Z"/><path fill="#292f87" stroke="#292f87" d="M1143.8 541.6L1156.4 543.1 1164.3 552.9 1151.7 551.4ZM1131.2 539.0L1143.8 541.6 1151.7 551.4 1139.0 548.7Z"/><path fill="#292169" stroke="#292169" d="M1555.1 477.7L1559.3 476.7 1567.2 484.0 1563.0 485.0ZM1542.5 480.8L1555.1 477.7 1563.0 485.0 1550.3 488.1ZM1529.9 483.9L1542.5 480.8 1550.3 488.1 1537.7 491.1ZM1517.3 486.9L1529.9 483.9 1537.7 491.1 1525.1 494.2ZM1504.7 490.0L1517.3 486.9 1525.1 494.2 1512.5 497.3ZM1492.1 493.1L1504.7 490.0 1512.5 497.3 1499.9 500.4ZM1479.5 496.2L1492.1 493.1 1499.9 500.4 1487.3 503.5ZM1466.9 499.4L1479.5 496.2 1487.3 503.5 1474.7 506.6ZM1454.3 502.5L1466.9 499.4 1474.7 506.6 1462.1 509.7ZM1441.7 505.6L1454.3 502.5 1462.1 509.7 1449.5 512.9ZM1429.0 508.8L1441.7 505.6 1449.5 512.9 1436.9 516.0ZM1416.4 512.0L1429.0 508.8 1436.9 516.0 1424.3 519.2ZM1403.8 515.1L1416.4 512.0 1424.3 519.2 1411.6 522.3ZM1391.2 518.3L1403.8 515.1 1411.6 522.3 1399.0 525.5ZM1378.6 521.4L1391.2 518.3 1399.0 525.5 1386.4 528.6ZM1366.0 524.6L1378.6 521.4 1386.4 528.6 1373.8 531.7ZM1353.4 527.6L1366.0 524.6 1373.8 531.7 1361.2 534.8ZM1340.8 530.5L1353.4 527.6 1361.2 534.8 1348.6 537.7ZM1328.2 533.4L1340.8 530.5 1348.6 537.7 1336.0 540.6ZM1315.6 536.0L1328.2 533.4 1336.0 540.6 1323.4 543.3ZM1303.0 538.5L1315.6 536.0 1323.4 543.3 1310.8 545.9ZM1290.3 540.7L1303.0 538.5 1310.8 545.9 1298.2 548.2Z"/><path fill="#2a2673" stroke="#2a2673" d="M1277.7 542.8L1290.3 540.7 1298.2 548.2 1285.6 550.5ZM1265.1 544.6L1277.7 542.8 1285.6 550.5 1272.9 552.5ZM1252.5 546.2L1265.1 544.6 1272.9 552.5 1260.3 554.3ZM1239.9 547.6L1252.5 546.2 1260.3 554.3 1247.7 555.9ZM1227.3 549.0L1239.9 547.6 1247.7 555.9 1235.1 557.5ZM1214.7 550.4L1227.3 549.0 1235.1 557.5 1222.5 559.1ZM1202.1 551.8L1214.7 550.4 1222.5 559.1 1209.9 560.7ZM1189.5 552.7L1202.1 551.8 1209.9 560.7 1197.3 561.8Z"/><path fill="#2a2b7d" stroke="#2a2b7d" d="M1176.9 553.0L1189.5 552.7 1197.3 561.8 1184.7 562.2ZM1164.3 552.9L1176.9 553.0 1184.7 562.2 1172.1 562.2ZM1151.7 551.4L1164.3 552.9 1172.1 562.2 1159.5 560.7Z"/><path fill="#292f87" stroke="#292f87" d="M1139.0 548.7L1151.7 551.4 1159.5 560.7 1146.9 558.0Z"/><path fill="#292169" stroke="#292169" d="M1563.0 485.0L1567.2 484.0 1575.0 490.7 1570.8 491.7ZM1550.3 488.1L1563.0 485.0 1570.8 491.7 1558.2 494.8ZM1537.7 491.1L1550.3 488.1 1558.2 494.8 1545.6 497.9ZM1525.1 494.2L1537.7 491.1 1545.6 497.9 1532.9 500.9ZM1512.5 497.3L1525.1 494.2 1532.9 500.9 1520.3 504.0ZM1499.9 500.4L1512.5 497.3 1520.3 504.0 1507.7 507.1ZM1487.3 503.5L1499.9 500.4 1507.7 507.1 1495.1 510.2ZM1474.7 506.6L1487.3 503.5 1495.1 510.2 1482.5 513.3ZM1462.1 509.7L1474.7 506.6 1482.5 513.3 1469.9 516.4ZM1449.5 512.9L1462.1 509.7 1469.9 516.4 1457.3 519.6ZM1436.9 516.0L1449.5 512.9 1457.3 519.6 1444.7 522.7ZM1424.3 519.2L1436.9 516.0 1444.7 522.7 1432.1 525.8ZM1411.6 522.3L1424.3 519.2 1432.1 525.8 1419.5 529.0ZM1399.0 525.5L1411.6 522.3 1419.5 529.0 1406.9 532.1ZM1386.4 528.6L1399.0 525.5 1406.9 532.1 1394.2 535.3ZM1373.8 531.7L1386.4 528.6 1394.2 535.3 1381.6 538.4ZM1361.2 534.8L1373.8 531.7 1381.6 538.4 1369.0 541.4ZM1348.6 537.7L1361.2 534.8 1369.0 541.4 1356.4 544.4ZM1336.0 540.6L1348.6 537.7 1356.4 544.4 1343.8 547.3ZM1323.4 543.3L1336.0 540.6 1343.8 547.3 1331.2 550.1ZM1310.8 545.9L1323.4 543.3 1331.2 550.1 1318.6 552.7ZM1298.2 548.2L1310.8 545.9 1318.6 552.7 1306.0 555.2ZM1285.6 550.5L1298.2 548.2 1306.0 555.2 1293.4 557.6ZM1272.9 552.5L1285.6 550.5 1293.4 557.6 1280.8 559.8ZM1260.3 554.3L1272.9 552.5 1280.8 559.8 1268.2 561.8Z"/><path fill="#2a2673" stroke="#2a2673" d="M1247.7 555.9L1260.3 554.3 1268.2 561.8 1255.5 563.7ZM1235.1 557.5L1247.7 555.9 1255.5 563.7 1242.9 565.5ZM1222.5 559.1L1235.1 557.5 1242.9 565.5 1230.3 567.3ZM1209.9 560.7L1222.5 559.1 1230.3 567.3 1217.7 569.1ZM1197.3 561.8L1209.9 560.7 1217.7 569.1 1205.1 570.4ZM1184.7 562.2L1197.3 561.8 1205.1 570.4 1192.5 570.9Z"/><path fill="#2a2b7d" stroke="#2a2b7d" d="M1172.1 562.2L1184.7 562.2 1192.5 570.9 1179.9 571.0ZM1159.5 560.7L1172.1 562.2 1179.9 571.0 1167.3 569.6ZM1146.9 558.0L1159.5 560.7 1167.3 569.6 1154.7 566.7Z"/><path fill="#292169" stroke="#292169" d="M1570.8 491.7L1575.0 490.7 1582.8 496.8 1578.6 497.8ZM1558.2 494.8L1570.8 491.7 1578.6 497.8 1566.0 500.9ZM1545.6 497.9L1558.2 494.8 1566.0 500.9 1553.4 503.9ZM1532.9 500.9L1545.6 497.9 1553.4 503.9 1540.8 507.0ZM1520.3 504.0L1532.9 500.9 1540.8 507.0 1528.2 510.1ZM1507.7 507.1L1520.3 504.0 1528.2 510.1 1515.5 513.2ZM1495.1 510.2L1507.7 507.1 1515.5 513.2 1502.9 516.3ZM1482.5 513.3L1495.1 510.2 1502.9 516.3 1490.3 519.4ZM1469.9 516.4L1482.5 513.3 1490.3 519.4 1477.7 522.5ZM1457.3 519.6L1469.9 516.4 1477.7 522.5 1465.1 525.6ZM1444.7 522.7L1457.3 519.6 1465.1 525.6 1452.5 528.8ZM1432.1 525.8L1444.7 522.7 1452.5 528.8 1439.9 531.9ZM1419.5 529.0L1432.1 525.8 1439.9 531.9 1427.3 535.1ZM1406.9 532.1L1419.5 529.0 1427.3 535.1 1414.7 538.2ZM1394.2 535.3L1406.9 532.1 1414.7 538.2 1402.1 541.3ZM1381.6 538.4L1394.2 535.3 1402.1 541.3 1389.5 544.4ZM1369.0 541.4L1381.6 538.4 1389.5 544.4 1376.8 547.5ZM1356.4 544.4L1369.0 541.4 1376.8 547.5 1364.2 550.5ZM1343.8 547.3L1356.4 544.4 1364.2 550.5 1351.6 553.5ZM1331.2 550.1L1343.8 547.3 1351.6 553.5 1339.0 556.3ZM1318.6 552.7L1331.2 550.1 1339.0 556.3 1326.4 559.0ZM1306.0 555.2L1318.6 552.7 1326.4 559.0 1313.8 561.6ZM1293.4 557.6L1306.0 555.2 1313.8 561.6 1301.2 564.1ZM1280.8 559.8L1293.4 557.6 1301.2 564.1 1288.6 566.5ZM1268.2 561.8L1280.8 559.8 1288.6 566.5 1276.0 568.7ZM1255.5 563.7L1268.2 561.8 1276.0 568.7 1263.4 570.8ZM1242.9 565.5L1255.5 563.7 1263.4 570.8 1250.8 572.9Z"/><path fill="#2a2673" stroke="#2a2673" d="M1230.3 567.3L1242.9 565.5 1250.8 572.9 1238.2 575.0ZM1217.7 569.1L1230.3 567.3 1238.2 575.0 1225.5 577.0ZM1205.1 570.4L1217.7 569.1 1225.5 577.0 1212.9 578.5ZM1192.5 570.9L1205.1 570.4 1212.9 578.5 1200.3 579.2ZM1179.9 571.0L1192.5 570.9 1200.3 579.2 1187.7 579.4Z"/><path fill="#2a2b7d" stroke="#2a2b7d" d="M1167.3 569.6L1179.9 571.0 1187.7 579.4 1175.1 578.0ZM1154.7 566.7L1167.3 569.6 1175.1 578.0 1162.5 575.1Z"/><path fill="#292169" stroke="#292169" d="M1578.6 497.8L1582.8 496.8 1590.6 503.0 1586.4 504.0ZM1566.0 500.9L1578.6 497.8 1586.4 504.0 1573.8 507.1ZM1553.4 503.9L1566.0 500.9 1573.8 507.1 1561.2 510.2ZM1540.8 507.0L1553.4 503.9 1561.2 510.2 1548.6 513.3ZM1528.2 510.1L1540.8 507.0 1548.6 513.3 1536.0 516.3ZM1515.5 513.2L1528.2 510.1 1536.0 516.3 1523.4 519.4ZM1502.9 516.3L1515.5 513.2 1523.4 519.4 1510.8 522.5ZM1490.3 519.4L1502.9 516.3 1510.8 522.5 1498.1 525.6ZM1477.7 522.5L1490.3 519.4 1498.1 525.6 1485.5 528.7ZM1465.1 525.6L1477.7 522.5 1485.5 528.7 1472.9 531.8ZM1452.5 528.8L1465.1 525.6 1472.9 531.8 1460.3 535.0ZM1439.9 531.9L1452.5 528.8 1460.3 535.0 1447.7 538.1ZM1427.3 535.1L1439.9 531.9 1447.7 538.1 1435.1 541.2ZM1414.7 538.2L1427.3 535.1 1435.1 541.2 1422.5 544.4ZM1402.1 541.3L1414.7 538.2 1422.5 544.4 1409.9 547.5ZM1389.5 544.4L1402.1 541.3 1409.9 547.5 1397.3 550.6ZM1376.8 547.5L1389.5 544.4 1397.3 550.6 1384.7 553.7ZM1364.2 550.5L1376.8 547.5 1384.7 553.7 1372.1 556.8ZM1351.6 553.5L1364.2 550.5 1372.1 556.8 1359.4 559.7ZM1339.0 556.3L1351.6 553.5 1359.4 559.7 1346.8 562.6ZM1326.4 559.0L1339.0 556.3 1346.8 562.6 1334.2 565.4ZM1313.8 561.6L1326.4 559.0 1334.2 565.4 1321.6 568.1ZM1301.2 564.1L1313.8 561.6 1321.6 568.1 1309.0 570.7ZM1288.6 566.5L1301.2 564.1 1309.0 570.7 1296.4 573.2ZM1276.0 568.7L1288.6 566.5 1296.4 573.2 1283.8 575.6ZM1263.4 570.8L1276.0 568.7 1283.8 575.6 1271.2 577.9ZM1250.8 572.9L1263.4 570.8 1271.2 577.9 1258.6 580.2ZM1238.2 575.0L1250.8 572.9 1258.6 580.2 1246.0 582.4ZM1225.5 577.0L1238.2 575.0 1246.0 582.4 1233.4 584.7Z"/><path fill="#2a2673" stroke="#2a2673" d="M1212.9 578.5L1225.5 577.0 1233.4 584.7 1220.8 586.3ZM1200.3 579.2L1212.9 578.5 1220.8 586.3 1208.1 587.2ZM1187.7 579.4L1200.3 579.2 1208.1 587.2 1195.5 587.4ZM1175.1 578.0L1187.7 579.4 1195.5 587.4 1182.9 586.0Z"/><path fill="#2a2b7d" stroke="#2a2b7d" d="M1162.5 575.1L1175.1 578.0 1182.9 586.0 1170.3 583.2Z"/><path fill="#292169" stroke="#292169" d="M1586.4 504.0L1590.6 503.0 1598.4 509.4 1594.2 510.4ZM1573.8 507.1L1586.4 504.0 1594.2 510.4 1581.6 513.4ZM1561.2 510.2L1573.8 507.1 1581.6 513.4 1569.0 516.5ZM1548.6 513.3L1561.2 510.2 1569.0 516.5 1556.4 519.6ZM1536.0 516.3L1548.6 513.3 1556.4 519.6 1543.8 522.7ZM1523.4 519.4L1536.0 516.3 1543.8 522.7 1531.2 525.8ZM1510.8 522.5L1523.4 519.4 1531.2 525.8 1518.6 528.9ZM1498.1 525.6L1510.8 522.5 1518.6 528.9 1506.0 531.9ZM1485.5 528.7L1498.1 525.6 1506.0 531.9 1493.4 535.1ZM1472.9 531.8L1485.5 528.7 1493.4 535.1 1480.7 538.2ZM1460.3 535.0L1472.9 531.8 1480.7 538.2 1468.1 541.3ZM1447.7 538.1L1460.3 535.0 1468.1 541.3 1455.5 544.4ZM1435.1 541.2L1447.7 538.1 1455.5 544.4 1442.9 547.5ZM1422.5 544.4L1435.1 541.2 1442.9 547.5 1430.3 550.7ZM1409.9 547.5L1422.5 544.4 1430.3 550.7 1417.7 553.8ZM1397.3 550.6L1409.9 547.5 1417.7 553.8 1405.1 556.9ZM1384.7 553.7L1397.3 550.6 1405.1 556.9 1392.5 560.0ZM1372.1 556.8L1384.7 553.7 1392.5 560.0 1379.9 563.1ZM1359.4 559.7L1372.1 556.8 1379.9 563.1 1367.3 566.1ZM1346.8 562.6L1359.4 559.7 1367.3 566.1 1354.7 569.0ZM1334.2 565.4L1346.8 562.6 1354.7 569.0 1342.0 571.8ZM1321.6 568.1L1334.2 565.4 1342.0 571.8 1329.4 574.6ZM1309.0 570.7L1321.6 568.1 1329.4 574.6 1316.8 577.3ZM1296.4 573.2L1309.0 570.7 1316.8 577.3 1304.2 579.9ZM1283.8 575.6L1296.4 573.2 1304.2 579.9 1291.6 582.5ZM1271.2 577.9L1283.8 575.6 1291.6 582.5 1279.0 585.0ZM1258.6 580.2L1271.2 577.9 1279.0 585.0 1266.4 587.4ZM1246.0 582.4L1258.6 580.2 1266.4 587.4 1253.8 589.9ZM1233.4 584.7L1246.0 582.4 1253.8 589.9 1241.2 592.3ZM1220.8 586.3L1233.4 584.7 1241.2 592.3 1228.6 594.0ZM1208.1 587.2L1220.8 586.3 1228.6 594.0 1216.0 594.9Z"/><path fill="#2a2673" stroke="#2a2673" d="M1195.5 587.4L1208.1 587.2 1216.0 594.9 1203.4 595.3ZM1182.9 586.0L1195.5 587.4 1203.4 595.3 1190.7 593.9ZM1170.3 583.2L1182.9 586.0 1190.7 593.9 1178.1 591.0Z"/><path fill="#292169" stroke="#292169" d="M1594.2 510.4L1598.4 509.4 1606.2 515.5 1602.0 516.6ZM1581.6 513.4L1594.2 510.4 1602.0 516.6 1589.4 519.6ZM1569.0 516.5L1581.6 513.4 1589.4 519.6 1576.8 522.7ZM1556.4 519.6L1569.0 516.5 1576.8 522.7 1564.2 525.8ZM1543.8 522.7L1556.4 519.6 1564.2 525.8 1551.6 528.9ZM1531.2 525.8L1543.8 522.7 1551.6 528.9 1539.0 531.9ZM1518.6 528.9L1531.2 525.8 1539.0 531.9 1526.4 535.0ZM1506.0 531.9L1518.6 528.9 1526.4 535.0 1513.8 538.1ZM1493.4 535.1L1506.0 531.9 1513.8 538.1 1501.2 541.2ZM1480.7 538.2L1493.4 535.1 1501.2 541.2 1488.6 544.3ZM1468.1 541.3L1480.7 538.2 1488.6 544.3 1476.0 547.4ZM1455.5 544.4L1468.1 541.3 1476.0 547.4 1463.3 550.6ZM1442.9 547.5L1455.5 544.4 1463.3 550.6 1450.7 553.7ZM1430.3 550.7L1442.9 547.5 1450.7 553.7 1438.1 556.8ZM1417.7 553.8L1430.3 550.7 1438.1 556.8 1425.5 559.9ZM1405.1 556.9L1417.7 553.8 1425.5 559.9 1412.9 563.0ZM1392.5 560.0L1405.1 556.9 1412.9 563.0 1400.3 566.1ZM1379.9 563.1L1392.5 560.0 1400.3 566.1 1387.7 569.2ZM1367.3 566.1L1379.9 563.1 1387.7 569.2 1375.1 572.2ZM1354.7 569.0L1367.3 566.1 1375.1 572.2 1362.5 575.2ZM1342.0 571.8L1354.7 569.0 1362.5 575.2 1349.9 578.0ZM1329.4 574.6L1342.0 571.8 1349.9 578.0 1337.3 580.9ZM1316.8 577.3L1329.4 574.6 1337.3 580.9 1324.6 583.7ZM1304.2 579.9L1316.8 577.3 1324.6 583.7 1312.0 586.4ZM1291.6 582.5L1304.2 579.9 1312.0 586.4 1299.4 589.1ZM1279.0 585.0L1291.6 582.5 1299.4 589.1 1286.8 591.7ZM1266.4 587.4L1279.0 585.0 1286.8 591.7 1274.2 594.2ZM1253.8 589.9L1266.4 587.4 1274.2 594.2 1261.6 596.8ZM1241.2 592.3L1253.8 589.9 1261.6 596.8 1249.0 599.3ZM1228.6 594.0L1241.2 592.3 1249.0 599.3 1236.4 601.1ZM1216.0 594.9L1228.6 594.0 1236.4 601.1 1223.8 602.1ZM1203.4 595.3L1216.0 594.9 1223.8 602.1 1211.2 602.4Z"/><path fill="#2a2673" stroke="#2a2673" d="M1190.7 593.9L1203.4 595.3 1211.2 602.4 1198.6 601.0ZM1178.1 591.0L1190.7 593.9 1198.6 601.0 1186.0 598.1Z"/><path fill="#292169" stroke="#292169" d="M1602.0 516.6L1606.2 515.5 1614.1 521.7 1609.9 522.7ZM1589.4 519.6L1602.0 516.6 1609.9 522.7 1597.3 525.8ZM1576.8 522.7L1589.4 519.6 1597.3 525.8 1584.6 528.9ZM1564.2 525.8L1576.8 522.7 1584.6 528.9 1572.0 531.9ZM1551.6 528.9L1564.2 525.8 1572.0 531.9 1559.4 535.0ZM1539.0 531.9L1551.6 528.9 1559.4 535.0 1546.8 538.1ZM1526.4 535.0L1539.0 531.9 1546.8 538.1 1534.2 541.2ZM1513.8 538.1L1526.4 535.0 1534.2 541.2 1521.6 544.3ZM1501.2 541.2L1513.8 538.1 1521.6 544.3 1509.0 547.4ZM1488.6 544.3L1501.2 541.2 1509.0 547.4 1496.4 550.5ZM1476.0 547.4L1488.6 544.3 1496.4 550.5 1483.8 553.6ZM1463.3 550.6L1476.0 547.4 1483.8 553.6 1471.2 556.7ZM1450.7 553.7L1463.3 550.6 1471.2 556.7 1458.6 559.8ZM1438.1 556.8L1450.7 553.7 1458.6 559.8 1445.9 562.9ZM1425.5 559.9L1438.1 556.8 1445.9 562.9 1433.3 566.0ZM1412.9 563.0L1425.5 559.9 1433.3 566.0 1420.7 569.1ZM1400.3 566.1L1412.9 563.0 1420.7 569.1 1408.1 572.2ZM1387.7 569.2L1400.3 566.1 1408.1 572.2 1395.5 575.3ZM1375.1 572.2L1387.7 569.2 1395.5 575.3 1382.9 578.3ZM1362.5 575.2L1375.1 572.2 1382.9 578.3 1370.3 581.3ZM1349.9 578.0L1362.5 575.2 1370.3 581.3 1357.7 584.2ZM1337.3 580.9L1349.9 578.0 1357.7 584.2 1345.1 587.1ZM1324.6 583.7L1337.3 580.9 1345.1 587.1 1332.5 589.9ZM1312.0 586.4L1324.6 583.7 1332.5 589.9 1319.9 592.7ZM1299.4 589.1L1312.0 586.4 1319.9 592.7 1307.2 595.4ZM1286.8 591.7L1299.4 589.1 1307.2 595.4 1294.6 598.1ZM1274.2 594.2L1286.8 591.7 1294.6 598.1 1282.0 600.7ZM1261.6 596.8L1274.2 594.2 1282.0 600.7 1269.4 603.3ZM1249.0 599.3L1261.6 596.8 1269.4 603.3 1256.8 605.8ZM1236.4 601.1L1249.0 599.3 1256.8 605.8 1244.2 607.7ZM1223.8 602.1L1236.4 601.1 1244.2 607.7 1231.6 608.6ZM1211.2 602.4L1223.8 602.1 1231.6 608.6 1219.0 609.0Z"/><path fill="#2a2673" stroke="#2a2673" d="M1198.6 601.0L1211.2 602.4 1219.0 609.0 1206.4 607.6ZM1186.0 598.1L1198.6 601.0 1206.4 607.6 1193.8 604.6Z"/><path fill="#292169" stroke="#292169" d="M1609.9 522.7L1614.1 521.7 1621.9 528.0 1617.7 529.0ZM1597.3 525.8L1609.9 522.7 1617.7 529.0 1605.1 532.1ZM1584.6 528.9L1597.3 525.8 1605.1 532.1 1592.5 535.2ZM1572.0 531.9L1584.6 528.9 1592.5 535.2 1579.9 538.3ZM1559.4 535.0L1572.0 531.9 1579.9 538.3 1567.2 541.3ZM1546.8 538.1L1559.4 535.0 1567.2 541.3 1554.6 544.4ZM1534.2 541.2L1546.8 538.1 1554.6 544.4 1542.0 547.5ZM1521.6 544.3L1534.2 541.2 1542.0 547.5 1529.4 550.6ZM1509.0 547.4L1521.6 544.3 1529.4 550.6 1516.8 553.7ZM1496.4 550.5L1509.0 547.4 1516.8 553.7 1504.2 556.7ZM1483.8 553.6L1496.4 550.5 1504.2 556.7 1491.6 559.8ZM1471.2 556.7L1483.8 553.6 1491.6 559.8 1479.0 562.9ZM1458.6 559.8L1471.2 556.7 1479.0 562.9 1466.4 566.1ZM1445.9 562.9L1458.6 559.8 1466.4 566.1 1453.8 569.2ZM1433.3 566.0L1445.9 562.9 1453.8 569.2 1441.2 572.3ZM1420.7 569.1L1433.3 566.0 1441.2 572.3 1428.5 575.4ZM1408.1 572.2L1420.7 569.1 1428.5 575.4 1415.9 578.5ZM1395.5 575.3L1408.1 572.2 1415.9 578.5 1403.3 581.5ZM1382.9 578.3L1395.5 575.3 1403.3 581.5 1390.7 584.5ZM1370.3 581.3L1382.9 578.3 1390.7 584.5 1378.1 587.5ZM1357.7 584.2L1370.3 581.3 1378.1 587.5 1365.5 590.5ZM1345.1 587.1L1357.7 584.2 1365.5 590.5 1352.9 593.4ZM1332.5 589.9L1345.1 587.1 1352.9 593.4 1340.3 596.2ZM1319.9 592.7L1332.5 589.9 1340.3 596.2 1327.7 599.0ZM1307.2 595.4L1319.9 592.7 1327.7 599.0 1315.1 601.8ZM1294.6 598.1L1307.2 595.4 1315.1 601.8 1302.5 604.5ZM1282.0 600.7L1294.6 598.1 1302.5 604.5 1289.8 607.1ZM1269.4 603.3L1282.0 600.7 1289.8 607.1 1277.2 609.7ZM1256.8 605.8L1269.4 603.3 1277.2 609.7 1264.6 612.2ZM1244.2 607.7L1256.8 605.8 1264.6 612.2 1252.0 613.9ZM1231.6 608.6L1244.2 607.7 1252.0 613.9 1239.4 614.9ZM1219.0 609.0L1231.6 608.6 1239.4 614.9 1226.8 615.1ZM1206.4 607.6L1219.0 609.0 1226.8 615.1 1214.2 613.7Z"/><path fill="#2a2673" stroke="#2a2673" d="M1193.8 604.6L1206.4 607.6 1214.2 613.7 1201.6 610.7Z"/><path fill="#292169" stroke="#292169" d="M1617.7 529.0L1621.9 528.0 1629.7 534.2 1625.5 535.3ZM1605.1 532.1L1617.7 529.0 1625.5 535.3 1612.9 538.3ZM1592.5 535.2L1605.1 532.1 1612.9 538.3 1600.3 541.4ZM1579.9 538.3L1592.5 535.2 1600.3 541.4 1587.7 544.5ZM1567.2 541.3L1579.9 538.3 1587.7 544.5 1575.1 547.6ZM1554.6 544.4L1567.2 541.3 1575.1 547.6 1562.5 550.6ZM1542.0 547.5L1554.6 544.4 1562.5 550.6 1549.8 553.7ZM1529.4 550.6L1542.0 547.5 1549.8 553.7 1537.2 556.8ZM1516.8 553.7L1529.4 550.6 1537.2 556.8 1524.6 559.9ZM1504.2 556.7L1516.8 553.7 1524.6 559.9 1512.0 563.0ZM1491.6 559.8L1504.2 556.7 1512.0 563.0 1499.4 566.0ZM1479.0 562.9L1491.6 559.8 1499.4 566.0 1486.8 569.1ZM1466.4 566.1L1479.0 562.9 1486.8 569.1 1474.2 572.2ZM1453.8 569.2L1466.4 566.1 1474.2 572.2 1461.6 575.3ZM1441.2 572.3L1453.8 569.2 1461.6 575.3 1449.0 578.4ZM1428.5 575.4L1441.2 572.3 1449.0 578.4 1436.4 581.5ZM1415.9 578.5L1428.5 575.4 1436.4 581.5 1423.8 584.6ZM1403.3 581.5L1415.9 578.5 1423.8 584.6 1411.1 587.7ZM1390.7 584.5L1403.3 581.5 1411.1 587.7 1398.5 590.7ZM1378.1 587.5L1390.7 584.5 1398.5 590.7 1385.9 593.6ZM1365.5 590.5L1378.1 587.5 1385.9 593.6 1373.3 596.6ZM1352.9 593.4L1365.5 590.5 1373.3 596.6 1360.7 599.5ZM1340.3 596.2L1352.9 593.4 1360.7 599.5 1348.1 602.4ZM1327.7 599.0L1340.3 596.2 1348.1 602.4 1335.5 605.2ZM1315.1 601.8L1327.7 599.0 1335.5 605.2 1322.9 608.0ZM1302.5 604.5L1315.1 601.8 1322.9 608.0 1310.3 610.6ZM1289.8 607.1L1302.5 604.5 1310.3 610.6 1297.7 613.2ZM1277.2 609.7L1289.8 607.1 1297.7 613.2 1285.1 615.8ZM1264.6 612.2L1277.2 609.7 1285.1 615.8 1272.4 618.2ZM1252.0 613.9L1264.6 612.2 1272.4 618.2 1259.8 619.9ZM1239.4 614.9L1252.0 613.9 1259.8 619.9 1247.2 620.7ZM1226.8 615.1L1239.4 614.9 1247.2 620.7 1234.6 620.9ZM1214.2 613.7L1226.8 615.1 1234.6 620.9 1222.0 619.4Z"/><path fill="#2a2673" stroke="#2a2673" d="M1201.6 610.7L1214.2 613.7 1222.0 619.4 1209.4 616.4Z"/><path fill="#292169" stroke="#292169" d="M1625.5 535.3L1629.7 534.2 1637.5 540.4 1633.3 541.4ZM1612.9 538.3L1625.5 535.3 1633.3 541.4 1620.7 544.4ZM1600.3 541.4L1612.9 538.3 1620.7 544.4 1608.1 547.5ZM1587.7 544.5L1600.3 541.4 1608.1 547.5 1595.5 550.6ZM1575.1 547.6L1587.7 544.5 1595.5 550.6 1582.9 553.7ZM1562.5 550.6L1575.1 547.6 1582.9 553.7 1570.3 556.7ZM1549.8 553.7L1562.5 550.6 1570.3 556.7 1557.7 559.8ZM1537.2 556.8L1549.8 553.7 1557.7 559.8 1545.1 562.9ZM1524.6 559.9L1537.2 556.8 1545.1 562.9 1532.4 566.0ZM1512.0 563.0L1524.6 559.9 1532.4 566.0 1519.8 569.0ZM1499.4 566.0L1512.0 563.0 1519.8 569.0 1507.2 572.1ZM1486.8 569.1L1499.4 566.0 1507.2 572.1 1494.6 575.2ZM1474.2 572.2L1486.8 569.1 1494.6 575.2 1482.0 578.3ZM1461.6 575.3L1474.2 572.2 1482.0 578.3 1469.4 581.4ZM1449.0 578.4L1461.6 575.3 1469.4 581.4 1456.8 584.5ZM1436.4 581.5L1449.0 578.4 1456.8 584.5 1444.2 587.5ZM1423.8 584.6L1436.4 581.5 1444.2 587.5 1431.6 590.6ZM1411.1 587.7L1423.8 584.6 1431.6 590.6 1419.0 593.7ZM1398.5 590.7L1411.1 587.7 1419.0 593.7 1406.4 596.7ZM1385.9 593.6L1398.5 590.7 1406.4 596.7 1393.7 599.7ZM1373.3 596.6L1385.9 593.6 1393.7 599.7 1381.1 602.6ZM1360.7 599.5L1373.3 596.6 1381.1 602.6 1368.5 605.5ZM1348.1 602.4L1360.7 599.5 1368.5 605.5 1355.9 608.4ZM1335.5 605.2L1348.1 602.4 1355.9 608.4 1343.3 611.2ZM1322.9 608.0L1335.5 605.2 1343.3 611.2 1330.7 614.0ZM1310.3 610.6L1322.9 608.0 1330.7 614.0 1318.1 616.6ZM1297.7 613.2L1310.3 610.6 1318.1 616.6 1305.5 619.2ZM1285.1 615.8L1297.7 613.2 1305.5 619.2 1292.9 621.7ZM1272.4 618.2L1285.1 615.8 1292.9 621.7 1280.3 624.0ZM1259.8 619.9L1272.4 618.2 1280.3 624.0 1267.7 625.6ZM1247.2 620.7L1259.8 619.9 1267.7 625.6 1255.0 626.4ZM1234.6 620.9L1247.2 620.7 1255.0 626.4 1242.4 626.5ZM1222.0 619.4L1234.6 620.9 1242.4 626.5 1229.8 625.0Z"/><path fill="#2a2673" stroke="#2a2673" d="M1209.4 616.4L1222.0 619.4 1229.8 625.0 1217.2 621.9Z"/><path fill="#292169" stroke="#292169" d="M1633.3 541.4L1637.5 540.4 1645.3 546.0 1641.1 547.1ZM1620.7 544.4L1633.3 541.4 1641.1 547.1 1628.5 550.1ZM1608.1 547.5L1620.7 544.4 1628.5 550.1 1615.9 553.2ZM1595.5 550.6L1608.1 547.5 1615.9 553.2 1603.3 556.3ZM1582.9 553.7L1595.5 550.6 1603.3 556.3 1590.7 559.3ZM1570.3 556.7L1582.9 553.7 1590.7 559.3 1578.1 562.4ZM1557.7 559.8L1570.3 556.7 1578.1 562.4 1565.5 565.5ZM1545.1 562.9L1557.7 559.8 1565.5 565.5 1552.9 568.6ZM1532.4 566.0L1545.1 562.9 1552.9 568.6 1540.3 571.6ZM1519.8 569.0L1532.4 566.0 1540.3 571.6 1527.7 574.7ZM1507.2 572.1L1519.8 569.0 1527.7 574.7 1515.0 577.8ZM1494.6 575.2L1507.2 572.1 1515.0 577.8 1502.4 580.9ZM1482.0 578.3L1494.6 575.2 1502.4 580.9 1489.8 583.9ZM1469.4 581.4L1482.0 578.3 1489.8 583.9 1477.2 587.0ZM1456.8 584.5L1469.4 581.4 1477.2 587.0 1464.6 590.1ZM1444.2 587.5L1456.8 584.5 1464.6 590.1 1452.0 593.2ZM1431.6 590.6L1444.2 587.5 1452.0 593.2 1439.4 596.2ZM1419.0 593.7L1431.6 590.6 1439.4 596.2 1426.8 599.3ZM1406.4 596.7L1419.0 593.7 1426.8 599.3 1414.2 602.3ZM1393.7 599.7L1406.4 596.7 1414.2 602.3 1401.6 605.3ZM1381.1 602.6L1393.7 599.7 1401.6 605.3 1389.0 608.2ZM1368.5 605.5L1381.1 602.6 1389.0 608.2 1376.3 611.1ZM1355.9 608.4L1368.5 605.5 1376.3 611.1 1363.7 614.1ZM1343.3 611.2L1355.9 608.4 1363.7 614.1 1351.1 616.9ZM1330.7 614.0L1343.3 611.2 1351.1 616.9 1338.5 619.6ZM1318.1 616.6L1330.7 614.0 1338.5 619.6 1325.9 622.3ZM1305.5 619.2L1318.1 616.6 1325.9 622.3 1313.3 624.8ZM1292.9 621.7L1305.5 619.2 1313.3 624.8 1300.7 627.3ZM1280.3 624.0L1292.9 621.7 1300.7 627.3 1288.1 629.6ZM1267.7 625.6L1280.3 624.0 1288.1 629.6 1275.5 631.2ZM1255.0 626.4L1267.7 625.6 1275.5 631.2 1262.9 631.9ZM1242.4 626.5L1255.0 626.4 1262.9 631.9 1250.3 632.0ZM1229.8 625.0L1242.4 626.5 1250.3 632.0 1237.6 630.4Z"/><path fill="#2a2673" stroke="#2a2673" d="M1217.2 621.9L1229.8 625.0 1237.6 630.4 1225.0 627.3Z"/><path fill="#292169" stroke="#292169" d="M1641.1 547.1L1645.3 546.0 1653.2 551.5 1649.0 552.5ZM1628.5 550.1L1641.1 547.1 1649.0 552.5 1636.3 555.6ZM1615.9 553.2L1628.5 550.1 1636.3 555.6 1623.7 558.6ZM1603.3 556.3L1615.9 553.2 1623.7 558.6 1611.1 561.7ZM1590.7 559.3L1603.3 556.3 1611.1 561.7 1598.5 564.8ZM1578.1 562.4L1590.7 559.3 1598.5 564.8 1585.9 567.8ZM1565.5 565.5L1578.1 562.4 1585.9 567.8 1573.3 570.9ZM1552.9 568.6L1565.5 565.5 1573.3 570.9 1560.7 574.0ZM1540.3 571.6L1552.9 568.6 1560.7 574.0 1548.1 577.0ZM1527.7 574.7L1540.3 571.6 1548.1 577.0 1535.5 580.1ZM1515.0 577.8L1527.7 574.7 1535.5 580.1 1522.9 583.2ZM1502.4 580.9L1515.0 577.8 1522.9 583.2 1510.3 586.3ZM1489.8 583.9L1502.4 580.9 1510.3 586.3 1497.6 589.3ZM1477.2 587.0L1489.8 583.9 1497.6 589.3 1485.0 592.4ZM1464.6 590.1L1477.2 587.0 1485.0 592.4 1472.4 595.5ZM1452.0 593.2L1464.6 590.1 1472.4 595.5 1459.8 598.6ZM1439.4 596.2L1452.0 593.2 1459.8 598.6 1447.2 601.6ZM1426.8 599.3L1439.4 596.2 1447.2 601.6 1434.6 604.7ZM1414.2 602.3L1426.8 599.3 1434.6 604.7 1422.0 607.7ZM1401.6 605.3L1414.2 602.3 1422.0 607.7 1409.4 610.7ZM1389.0 608.2L1401.6 605.3 1409.4 610.7 1396.8 613.6ZM1376.3 611.1L1389.0 608.2 1396.8 613.6 1384.2 616.6ZM1363.7 614.1L1376.3 611.1 1384.2 616.6 1371.6 619.5ZM1351.1 616.9L1363.7 614.1 1371.6 619.5 1358.9 622.3ZM1338.5 619.6L1351.1 616.9 1358.9 622.3 1346.3 625.1ZM1325.9 622.3L1338.5 619.6 1346.3 625.1 1333.7 627.7ZM1313.3 624.8L1325.9 622.3 1333.7 627.7 1321.1 630.3ZM1300.7 627.3L1313.3 624.8 1321.1 630.3 1308.5 632.7ZM1288.1 629.6L1300.7 627.3 1308.5 632.7 1295.9 635.0ZM1275.5 631.2L1288.1 629.6 1295.9 635.0 1283.3 636.6ZM1262.9 631.9L1275.5 631.2 1283.3 636.6 1270.7 637.3ZM1250.3 632.0L1262.9 631.9 1270.7 637.3 1258.1 637.4ZM1237.6 630.4L1250.3 632.0 1258.1 637.4 1245.5 635.8Z"/><path fill="#2a2673" stroke="#2a2673" d="M1225.0 627.3L1237.6 630.4 1245.5 635.8 1232.9 632.7Z"/><path fill="#292169" stroke="#292169" d="M1649.0 552.5L1653.2 551.5 1661.0 556.8 1656.8 557.8ZM1636.3 555.6L1649.0 552.5 1656.8 557.8 1644.2 560.9ZM1623.7 558.6L1636.3 555.6 1644.2 560.9 1631.6 564.0ZM1611.1 561.7L1623.7 558.6 1631.6 564.0 1618.9 567.0ZM1598.5 564.8L1611.1 561.7 1618.9 567.0 1606.3 570.1ZM1585.9 567.8L1598.5 564.8 1606.3 570.1 1593.7 573.2ZM1573.3 570.9L1585.9 567.8 1593.7 573.2 1581.1 576.2ZM1560.7 574.0L1573.3 570.9 1581.1 576.2 1568.5 579.3ZM1548.1 577.0L1560.7 574.0 1568.5 579.3 1555.9 582.4ZM1535.5 580.1L1548.1 577.0 1555.9 582.4 1543.3 585.4ZM1522.9 583.2L1535.5 580.1 1543.3 585.4 1530.7 588.5ZM1510.3 586.3L1522.9 583.2 1530.7 588.5 1518.1 591.6ZM1497.6 589.3L1510.3 586.3 1518.1 591.6 1505.5 594.7ZM1485.0 592.4L1497.6 589.3 1505.5 594.7 1492.9 597.7ZM1472.4 595.5L1485.0 592.4 1492.9 597.7 1480.2 600.8ZM1459.8 598.6L1472.4 595.5 1480.2 600.8 1467.6 603.9ZM1447.2 601.6L1459.8 598.6 1467.6 603.9 1455.0 606.9ZM1434.6 604.7L1447.2 601.6 1455.0 606.9 1442.4 610.0ZM1422.0 607.7L1434.6 604.7 1442.4 610.0 1429.8 613.0ZM1409.4 610.7L1422.0 607.7 1429.8 613.0 1417.2 616.0ZM1396.8 613.6L1409.4 610.7 1417.2 616.0 1404.6 618.9ZM1384.2 616.6L1396.8 613.6 1404.6 618.9 1392.0 621.9ZM1371.6 619.5L1384.2 616.6 1392.0 621.9 1379.4 624.8ZM1358.9 622.3L1371.6 619.5 1379.4 624.8 1366.8 627.7ZM1346.3 625.1L1358.9 622.3 1366.8 627.7 1354.2 630.4ZM1333.7 627.7L1346.3 625.1 1354.2 630.4 1341.5 633.1ZM1321.1 630.3L1333.7 627.7 1341.5 633.1 1328.9 635.6ZM1308.5 632.7L1321.1 630.3 1328.9 635.6 1316.3 638.1ZM1295.9 635.0L1308.5 632.7 1316.3 638.1 1303.7 640.4ZM1283.3 636.6L1295.9 635.0 1303.7 640.4 1291.1 641.9ZM1270.7 637.3L1283.3 636.6 1291.1 641.9 1278.5 642.6ZM1258.1 637.4L1270.7 637.3 1278.5 642.6 1265.9 642.7ZM1245.5 635.8L1258.1 637.4 1265.9 642.7 1253.3 641.1Z"/><path fill="#2a2673" stroke="#2a2673" d="M1232.9 632.7L1245.5 635.8 1253.3 641.1 1240.7 638.0Z"/><path fill="#292169" stroke="#292169" d="M1656.8 557.8L1661.0 556.8 1668.8 562.0 1664.6 563.1ZM1644.2 560.9L1656.8 557.8 1664.6 563.1 1652.0 566.1ZM1631.6 564.0L1644.2 560.9 1652.0 566.1 1639.4 569.2ZM1618.9 567.0L1631.6 564.0 1639.4 569.2 1626.8 572.3ZM1606.3 570.1L1618.9 567.0 1626.8 572.3 1614.2 575.3ZM1593.7 573.2L1606.3 570.1 1614.2 575.3 1601.5 578.4ZM1581.1 576.2L1593.7 573.2 1601.5 578.4 1588.9 581.5ZM1568.5 579.3L1581.1 576.2 1588.9 581.5 1576.3 584.5ZM1555.9 582.4L1568.5 579.3 1576.3 584.5 1563.7 587.6ZM1543.3 585.4L1555.9 582.4 1563.7 587.6 1551.1 590.7ZM1530.7 588.5L1543.3 585.4 1551.1 590.7 1538.5 593.7ZM1518.1 591.6L1530.7 588.5 1538.5 593.7 1525.9 596.8ZM1505.5 594.7L1518.1 591.6 1525.9 596.8 1513.3 599.9ZM1492.9 597.7L1505.5 594.7 1513.3 599.9 1500.7 603.0ZM1480.2 600.8L1492.9 597.7 1500.7 603.0 1488.1 606.0ZM1467.6 603.9L1480.2 600.8 1488.1 606.0 1475.5 609.1ZM1455.0 606.9L1467.6 603.9 1475.5 609.1 1462.8 612.2ZM1442.4 610.0L1455.0 606.9 1462.8 612.2 1450.2 615.2ZM1429.8 613.0L1442.4 610.0 1450.2 615.2 1437.6 618.2ZM1417.2 616.0L1429.8 613.0 1437.6 618.2 1425.0 621.2ZM1404.6 618.9L1417.2 616.0 1425.0 621.2 1412.4 624.2ZM1392.0 621.9L1404.6 618.9 1412.4 624.2 1399.8 627.1ZM1379.4 624.8L1392.0 621.9 1399.8 627.1 1387.2 630.0ZM1366.8 627.7L1379.4 624.8 1387.2 630.0 1374.6 632.9ZM1354.2 630.4L1366.8 627.7 1374.6 632.9 1362.0 635.7ZM1341.5 633.1L1354.2 630.4 1362.0 635.7 1349.4 638.3ZM1328.9 635.6L1341.5 633.1 1349.4 638.3 1336.8 640.9ZM1316.3 638.1L1328.9 635.6 1336.8 640.9 1324.1 643.3ZM1303.7 640.4L1316.3 638.1 1324.1 643.3 1311.5 645.6ZM1291.1 641.9L1303.7 640.4 1311.5 645.6 1298.9 647.2ZM1278.5 642.6L1291.1 641.9 1298.9 647.2 1286.3 647.9ZM1265.9 642.7L1278.5 642.6 1286.3 647.9 1273.7 647.9ZM1253.3 641.1L1265.9 642.7 1273.7 647.9 1261.1 646.3Z"/><path fill="#2a2673" stroke="#2a2673" d="M1240.7 638.0L1253.3 641.1 1261.1 646.3 1248.5 643.2Z"/><path fill="#292169" stroke="#292169" d="M1664.6 563.1L1668.8 562.0 1671.4 563.8 1667.2 564.8ZM1652.0 566.1L1664.6 563.1 1667.2 564.8 1654.6 567.8ZM1639.4 569.2L1652.0 566.1 1654.6 567.8 1642.0 570.9ZM1626.8 572.3L1639.4 569.2 1642.0 570.9 1629.4 574.0ZM1614.2 575.3L1626.8 572.3 1629.4 574.0 1616.8 577.1ZM1601.5 578.4L1614.2 575.3 1616.8 577.1 1604.2 580.1ZM1588.9 581.5L1601.5 578.4 1604.2 580.1 1591.5 583.2ZM1576.3 584.5L1588.9 581.5 1591.5 583.2 1578.9 586.3ZM1563.7 587.6L1576.3 584.5 1578.9 586.3 1566.3 589.3ZM1551.1 590.7L1563.7 587.6 1566.3 589.3 1553.7 592.4ZM1538.5 593.7L1551.1 590.7 1553.7 592.4 1541.1 595.5ZM1525.9 596.8L1538.5 593.7 1541.1 595.5 1528.5 598.5ZM1513.3 599.9L1525.9 596.8 1528.5 598.5 1515.9 601.6ZM1500.7 603.0L1513.3 599.9 1515.9 601.6 1503.3 604.7ZM1488.1 606.0L1500.7 603.0 1503.3 604.7 1490.7 607.7ZM1475.5 609.1L1488.1 606.0 1490.7 607.7 1478.1 610.8ZM1462.8 612.2L1475.5 609.1 1478.1 610.8 1465.5 613.9ZM1450.2 615.2L1462.8 612.2 1465.5 613.9 1452.8 616.9ZM1437.6 618.2L1450.2 615.2 1452.8 616.9 1440.2 619.9ZM1425.0 621.2L1437.6 618.2 1440.2 619.9 1427.6 622.9ZM1412.4 624.2L1425.0 621.2 1427.6 622.9 1415.0 625.9ZM1399.8 627.1L1412.4 624.2 1415.0 625.9 1402.4 628.8ZM1387.2 630.0L1399.8 627.1 1402.4 628.8 1389.8 631.8ZM1374.6 632.9L1387.2 630.0 1389.8 631.8 1377.2 634.6ZM1362.0 635.7L1374.6 632.9 1377.2 634.6 1364.6 637.4ZM1349.4 638.3L1362.0 635.7 1364.6 637.4 1352.0 640.1ZM1336.8 640.9L1349.4 638.3 1352.0 640.1 1339.4 642.6ZM1324.1 643.3L1336.8 640.9 1339.4 642.6 1326.8 645.1ZM1311.5 645.6L1324.1 643.3 1326.8 645.1 1314.1 647.4ZM1298.9 647.2L1311.5 645.6 1314.1 647.4 1301.5 648.9ZM1286.3 647.9L1298.9 647.2 1301.5 648.9 1288.9 649.6ZM1273.7 647.9L1286.3 647.9 1288.9 649.6 1276.3 649.6ZM1261.1 646.3L1273.7 647.9 1276.3 649.6 1263.7 648.0Z"/><path fill="#2a2673" stroke="#2a2673" d="M1248.5 643.2L1261.1 646.3 1263.7 648.0 1251.1 644.9Z"/></svg>
<canvas id="c" width="1725" height="728"></canvas>
<svg width="1725" height="728"><line x1="78.5" y1="515.6" x2="78.5" y2="142.7" stroke="#5a5a5a" stroke-width="1.0"/><line x1="78.5" y1="515.6" x2="361.8" y2="665.3" stroke="#5a5a5a" stroke-width="1.0"/><line x1="361.8" y1="665.3" x2="759.2" y2="558.7" stroke="#5a5a5a" stroke-width="1.0"/><line x1="78.5" y1="515.6" x2="69.2" y2="510.7" stroke="#5a5a5a" stroke-width="1.0"/><line x1="78.5" y1="453.5" x2="69.2" y2="448.5" stroke="#5a5a5a" stroke-width="1.0"/><line x1="78.5" y1="391.3" x2="69.2" y2="386.4" stroke="#5a5a5a" stroke-width="1.0"/><line x1="78.5" y1="329.2" x2="69.2" y2="324.2" stroke="#5a5a5a" stroke-width="1.0"/><line x1="78.5" y1="267.0" x2="69.2" y2="262.1" stroke="#5a5a5a" stroke-width="1.0"/><line x1="78.5" y1="204.9" x2="69.2" y2="199.9" stroke="#5a5a5a" stroke-width="1.0"/><line x1="78.5" y1="142.7" x2="69.2" y2="137.8" stroke="#5a5a5a" stroke-width="1.0"/><line x1="78.5" y1="515.6" x2="68.4" y2="518.3" stroke="#5a5a5a" stroke-width="1.0"/><line x1="361.8" y1="665.3" x2="371.1" y2="670.2" stroke="#5a5a5a" stroke-width="1.0"/><line x1="220.1" y1="590.5" x2="210.0" y2="593.2" stroke="#5a5a5a" stroke-width="1.0"/><line x1="560.5" y1="612.0" x2="569.8" y2="616.9" stroke="#5a5a5a" stroke-width="1.0"/><line x1="361.8" y1="665.3" x2="351.7" y2="668.0" stroke="#5a5a5a" stroke-width="1.0"/><line x1="759.2" y1="558.7" x2="768.5" y2="563.6" stroke="#5a5a5a" stroke-width="1.0"/><line x1="990.5" y1="502.3" x2="990.5" y2="137.9" stroke="#5a5a5a" stroke-width="1.0"/><line x1="990.5" y1="502.3" x2="1251.1" y2="666.3" stroke="#5a5a5a" stroke-width="1.0"/><line x1="1251.1" y1="666.3" x2="1671.4" y2="564.0" stroke="#5a5a5a" stroke-width="1.0"/><line x1="990.5" y1="502.3" x2="981.6" y2="496.7" stroke="#5a5a5a" stroke-width="1.0"/><line x1="990.5" y1="380.9" x2="981.6" y2="375.3" stroke="#5a5a5a" stroke-width="1.0"/><line x1="990.5" y1="259.4" x2="981.6" y2="253.8" stroke="#5a5a5a" stroke-width="1.0"/><line x1="990.5" y1="137.9" x2="981.6" y2="132.4" stroke="#5a5a5a" stroke-width="1.0"/><line x1="990.5" y1="502.3" x2="980.3" y2="504.8" stroke="#5a5a5a" stroke-width="1.0"/><line x1="1251.1" y1="666.3" x2="1260.0" y2="671.9" stroke="#5a5a5a" stroke-width="1.0"/><line x1="1120.8" y1="584.3" x2="1110.6" y2="586.8" stroke="#5a5a5a" stroke-width="1.0"/><line x1="1461.2" y1="615.1" x2="1470.1" y2="620.7" stroke="#5a5a5a" stroke-width="1.0"/><line x1="1251.1" y1="666.3" x2="1240.9" y2="668.8" stroke="#5a5a5a" stroke-width="1.0"/><line x1="1671.4" y1="564.0" x2="1680.3" y2="569.6" stroke="#5a5a5a" stroke-width="1.0"/>
<g class="tx" font-size="27.3"><text x="61.6" y="517.1" text-anchor="end">0</text><text x="61.6" y="455.0" text-anchor="end">1</text><text x="61.6" y="392.8" text-anchor="end">2</text><text x="61.6" y="330.7" text-anchor="end">3</text><text x="61.6" y="268.5" text-anchor="end">4</text><text x="61.6" y="206.4" text-anchor="end">5</text><text x="61.6" y="144.2" text-anchor="end">6</text><text x="972.5" y="501.7" text-anchor="end">-1.5</text><text x="970.3" y="380.2" text-anchor="end">-1</text><text x="972.5" y="258.8" text-anchor="end">-0.5</text><text x="973.3" y="137.3" text-anchor="end">0</text><text x="60.1" y="546.4" text-anchor="end">0</text><text x="201.7" y="621.2" text-anchor="end">5</text><text x="343.4" y="696.1" text-anchor="end">10</text><text x="971.5" y="533.0" text-anchor="end">0</text><text x="1101.8" y="615.0" text-anchor="end">5</text><text x="1232.1" y="697.0" text-anchor="end">10</text><text x="378.9" y="700.7" text-anchor="start">0</text><text x="577.6" y="646.0" text-anchor="start">5</text><text x="776.3" y="594.1" text-anchor="start">10</text><text x="1268.3" y="701.4" text-anchor="start">0</text><text x="1478.5" y="650.6" text-anchor="start">5</text><text x="1688.6" y="601.0" text-anchor="start">10</text></g>
<g class="tx" font-size="30"><text x="141.7" y="700.9">alpha</text><text x="1036.4" y="698.3">alpha</text><text transform="translate(32.3,381.6) rotate(-90)">Gav/G0</text><text transform="translate(908.8,405.8) rotate(-90)">Phase angle</text><text y="711.5"><tspan x="534.9" font-size="36">√</tspan><tspan x="560.4">(</tspan><tspan x="568.2" font-family="Liberation Serif,serif" font-style="italic" font-size="28">ω</tspan><tspan x="587.9">R</tspan><tspan x="608.2">C</tspan><tspan x="628.7">)</tspan></text><text y="713.3"><tspan x="1430.3" font-size="36">√</tspan><tspan x="1455.8">(</tspan><tspan x="1463.6" font-family="Liberation Serif,serif" font-style="italic" font-size="28">ω</tspan><tspan x="1483.3">R</tspan><tspan x="1503.6">C</tspan><tspan x="1524.1">)</tspan></text></g>
<g class="tx" font-size="29.5" font-weight="bold" style="fill:#000"><text x="78.4" y="28.4">(a)</text><text x="989.8" y="28.4">(b)</text></g>
</svg>
<script>
(function(){
document.getElementById('fb').style.display='none';
var AL="ABCDEFGHIJKLMNOPQRSTUVWXYZabcdefghijklmnopqrstuvwxyz0123456789-_",N=101;
function dec(s,lo,hi){var a=new Float32Array(N*N),m={};for(var i=0;i<64;i++)m[AL.charAt(i)]=i;for(var k=0;k<N*N;k++){a[k]=lo+(m[s.charAt(2*k)]*64+m[s.charAt(2*k+1)])/4095*(hi-lo);}return a;}
var PAL=["352a87", "363093", "3637a0", "353dad", "3243ba", "2c4ac7", "2053d4", "0f5cdd", "0363e1", "0268e1", "046de0", "0871de", "0d75dc", "1079da", "127dd8", "1481d6", "1485d4", "1389d3", "108ed2", "0c93d2", "0998d1", "079ccf", "06a0cd", "06a4ca", "06a7c6", "07a9c2", "0aacbe", "0faeb9", "15b1b4", "1db3af", "25b5a9", "2eb7a4", "38b99e", "42bb98", "4dbc92", "59bd8c", "65be86", "71bf80", "7cbf7b", "87bf77", "92bf73", "9cbf6f", "a5be6b", "aebe67", "b7bd64", "c0bc60", "c8bc5d", "d1bb59", "d9ba56", "e1b952", "e9b94e", "f1b94a", "f8bb44", "fdbe3d", "ffc337", "fec832", "fcce2e", "fad32a", "f7d826", "f5de21", "f5e41d", "f5eb18", "f6f313", "f9fb0e"];var DK=PAL.map(function(h){var r=parseInt(h.substr(0,2),16),g=parseInt(h.substr(2,2),16),b=parseInt(h.substr(4,2),16);return 'rgba('+Math.round(r*0.3)+','+Math.round(g*0.3)+','+Math.round(b*0.3)+',0.85)';});
var cv=document.getElementById('c'),ctx=cv.getContext('2d');
function surf(Z,P,cmin,cmax,pw){
 var X=new Float32Array(N*N),Y=new Float32Array(N*N),i,j,k;
 for(i=0;i<N;i++)for(j=0;j<N;j++){k=i*N+j;var a=10*i/(N-1),s=10*j/(N-1);X[k]=P.ox+a*P.ax+s*P.sx;Y[k]=P.oy+a*P.ay+s*P.sy-(Z[k]-P.zmin)*P.zs;}
 ctx.lineWidth=0.7;ctx.strokeStyle='rgba(0,0,0,0.85)';ctx.lineJoin='miter';
 for(i=0;i<N-1;i++)for(j=N-2;j>=0;j--){k=i*N+j;
  var t=(Z[k]-cmin)/(cmax-cmin);if(t<0)t=0;var ci=Math.floor(Math.pow(t,pw)*64);if(ci>63)ci=63;if(ci<0)ci=0;
  ctx.fillStyle='#'+PAL[ci];ctx.strokeStyle=DK[ci];ctx.beginPath();ctx.moveTo(X[k],Y[k]);ctx.lineTo(X[k+1],Y[k+1]);ctx.lineTo(X[k+N+1],Y[k+N+1]);ctx.lineTo(X[k+N],Y[k+N]);ctx.closePath();ctx.fill();ctx.stroke();}
}
surf(dec("MAMAMAMAMAMAMAMAMBMCMEMFMIMLMPMUMZMgMpMyM9NKNYNoN6OOOjO7PUPwQNQsRNRwSVS7TiULU1VhWNW7XpYZZIZ5aqbbcNc_dxejfVgGg4hqibjMj8ktldmMm7nqoYpGp0qhrNr6smtRt9uovTv9wnxRx7ylzOz40h1K1z2c3F3t4W4_5o6Q657i8K8z9c-F-t_W__MAMAMAMAMAMAMAMAMBMCMEMFMIMLMPMUMZMgMpMyM9NKNYNoN6OOOjO7PUPwQNQsRNRwSVS7TiULU1VhWNW7XpYZZIZ5aqbbcNc_dxejfVgGg4hqibjMj8ktldmMm7nqoYpGp0qhrNr6smtRt9uovTv9wnxRx7ylzOz40h1K1z2c3F3t4W4_5o6Q657i8K8z9c-F-t_W__MAMAMAMAMAMAMAMAMBMCMEMFMIMLMPMUMZMgMpMyM9NKNYNoN6OOOjO7PUPwQNQsRNRwSVS7TiULU1VhWNW7XpYZZIZ5aqbbcNc_dxejfVgGg4hqibjMj8ktldmMm7nqoYpGp0qhrNr6smtRt9uovTv9wnxRx7ylzOz40h1K1z2c3F3t4W4_5o6Q657i8K8z9c-F-t_W__L_L_L_MAMAMAMAMAMBMCMEMFMIMLMPMUMZMgMpMyM9NKNYNoN6OOOjO7PUPwQNQsRNRwSVS7TiULU1VhWNW7XpYZZIZ5aqbbcNc_dxejfUgGg4hqibjMj8ktlcmMm7nqoYpGp0qhrNr6smtRt9uovSv9wnxRx7ylzOz30h1K1z2c3F3t4W4_5n6Q657i8K8z9c-E-t_W__L_L_L_L_MAMAMAMAMBMCMDMFMIMLMPMUMZMgMpMyM9NKNYNoN6OOOjO7PUPwQNQsRNRwSUS6TiULU1VhWNW7XpYYZIZ5aqbbcNc-dweifUgGg4hpibjMj8kslcmMm7nqoYpGpzqgrNr5sltRt8unvSv9wnxRx7ykzOz30g1K1y2b3E3t4W4-5n6Q657h8K8z9b-E-t_W__L_L_L_L_L_L_MAMAMBMCMDMFMIMLMPMTMZMgMoMyM9NKNYNoN6OOOjO7PUPwQNQsRNRwSUS6TiULU1VgWNW6XpYYZIZ4apbbcMc-dweifUgGg3hpiajLj8kslcmLm6npoXpFpzqgrNr5sltRt8unvSv8wmxQx6ykzNz30g1J1y2b3E3s4V4-5n6P647h8J8y9b-D-s_V_-L_L_L_L_L_L_L_MAMAMBMDMFMHMKMOMTMZMgMoMyM9NJNYNoN5ONOjO6PUPvQNQsRNRvSUS6ThUKU0VgWMW6XoYYZHZ4apbacMc9dvehfTgFg3hoiZjKj7krlbmLm6nooXpEpyqfrMr4sktQt7umvRv7wlxPx5yjzMz10f1I1x2a3C3r4U495l6O637f8I8x9Z-C-r_U_8L-L-L-L-L-L-L-L_MAMBMCMEMGMKMOMSMYMfMnMxM8NJNXNnN5ONOiO6PTPvQMQrRMRvSTS5TgUJU0VfWLW5XnYXZGZ3aobZcLc8duegfSgEg1hniYjJj5kqlamJm4nnoVpDpwqdrKr2sitOt5ukvPv5wjxNx3yhzKzz0d1G1v2X3A3p4S465j6M607d8G8u9X-A-o_R_6L8L8L8L8L8L8L9L9L-L_MBMDMFMIMMMRMXMeMmMwM7NINWNmN4OMOhO5PSPuQLQqRLRtSSS4TfUIUyVeWKW4XmYVZFZ1ambXcJc6dseefQgCgzhliWjHj3knlXmHm2nkoSpApuqbrHrzsftLt2uhvMv2wgxKx0yezHzw0Z1C1r2U293l4O435f6I6x7Z8C8q9T98-k_N_2L5L5L5L5L5L6L6L7L8L9L_MBMDMHMLMQMWMdMlMvM6NGNVNlN2OKOgO3PRPsQJQoRJRsSQS2TdUGUwVbWIW1XkYTZCZzajbVcGc4dpebfNf_gwhhiTjDj0kklUmDmyngoPo8pqqXrDrvsbtHtyudvHvywcxGxvyZzCzr0U091m2P233g4J4x5a6C6r7T788l9N92-e_H_wL0L0L0L1L1L1L2L3L4L6L7L-MAMEMIMNMTMaMjMsM3NENSNiN0OIOdO1POPqQHQmRHRpSNSzTbUDUtVYWFWyXgYPY_ZvagbRcCc0dleXfJf6gshdiOi-jvkflOl-msnboJo3pkqRq9rpsVtAtruWvBvrwVw_xoySy7zk0N021f2H2w3Y4B4p5S566j7L708c9F9t-W--_nLtLtLuLuLvLvLwLyLzL1L3L5L8MAMEMKMQMXMfMpM0NBNPNfNxOFOaOyPLPmQEQiRDRmSKSvTXT_UpVUWAWuXcYKY6ZqabbLb9cudgeRfDf0glhWiHi4jokYlHl2mlnToBovpcqJq1rhsMs4tjuNu4viwMw1xfyIyxza0D0s1U192l3O324f5H5v6Y7A7o8R859h-K-y_bLkLkLkLlLmLnLoLqLsLuLxLzL3L7L_MFMLMTMbMlMwM9NLNbNtOBOWOuPHPiP_QeQ_RhSFSrTST6UkVPV7WoXWYEYzZjaUbEb1cndYeJe7fsgdhOh-ivjfkOk-ltmbnJn3okpRp-qqrWsBsstXuCusvWv_wpxSx7ykzNz20e1H1v2Y3A3o4Q445h6J6x7Z8B8q9S96-i_LLXLYLYLZLaLcLeLgLjLlLoLsLvL0L5L_MFMNMWMgMrM4NGNWNoN8OROoPCPdP6QYQ5RbR_SkTLTzUdVHVzWgXOX8YrZbaLa7bscddOd_ewfhgShDhzijjTkCkxlgmOm8nqoXpEpwqcrHrzsdtItyucvGvwwZxCxryUy8zl0N011d2G2u3W3-4m5O526e7G7u8W8-9m-O-2LILILJLKLMLOLRLULXLaLeLiLmLrLwL3L-MGMPMZMkMxNANQNiN1OLOiO7PWPzQRQxRTR3ScTDTrUUU-VqWWXEXyYhZQaAawbgcRdCdyejfUgEg1hliVjEjzkilQl-msnZoGoypeqKq1rgsLs1tfuJuyvcwFwtxWx_ynzPz30f1H1v2X2_3m4O425e6F6t7V798k9M90-cK0K1K2K4K6K9LBLELILMLRLWLbLgLmLtL0L9MGMQMcMpM4NINaNtODOaOzPNPqQIQoRKRtSSS5TgUJUzVfWLW4XlYUZDZyaibScCczdjeTfEf0gkhTiDiyjhkPk9lrmYnFnxodpJp0qfrKr0setItxuavDvswVw9xlyNy1zd0E0s1U172j3K3x4Z5A5o6P637e8F8t9U98KeKfKgKiKmKpKuKyK3K8LCLHLNLULaLhLpLyL8MGMSMgMuM-NQNkN5OQOpPDPgP-QeQ_RiSHStTUT9UmVRV9WpXXYFYzZiaRbBbxchdReBewfggQg_huicjLj5kmlUmAmtnZoEowpbqFqvrZsDsstVt-umvPv3wfxHxuyWy9zl0M0z1a2B2o3P324d5E5r6T667h8I8v9WKFKGKIKKKOKTKYKeKkKqKwK3K-LFLMLULdLmLwL7MHMUMjMzNFNZNuOFOdO4PUPyQRQyRVR5SfTGTuUXVBVtWZXFXzYhZPZ-atbdcMc7dreafJf4gnhViDixjfkMk5llmRm8nnoSo9pnqRq6rjsMs0tduFutvUv8wjxLxyyZy_zm0N001a2B2o3O314b5C5p6P627d8D8qJqJrJtJwJ1J6KAKHKOKVKdKlKsK0K8LFLOLYLiLuL6MIMXMnM5NMNhN4OQOrPGPkQDQkRGRqSPS1TdUGUvVaWGWyXfYMY6ZoaXbGb0cjdSeBevfegMg6hniUjBjukalGlxmcnHnxobpEpuqWq_rnsPs3tfuGutvUv7wixIxvyVy8zi0I0u1V172h3H3t4T455f6G6s7S74JOJPJRJVJaJgJnJvJ3J_KIKRKZKiKrK1K-LJLULfLsL6MJMZMrM-NTNqOCOcO3PVPzQUQ1RZR9SjTKTyUcVGVxWcXJX1YjZQZ-asbacIc2dkeSfAftgbhIh0igjMj4kjlOl4minMn1oepHpvqXq_rmsNs0tbuCuovPv1wbxBxnyMyyzYz90j1J1u2U253f4E4q5Q516b7BIxIyI1I5I-JFJNJWJfJoJyJ7KFKPKZKjKtK4LDLQLdLrL6MKMcMvNENaNyOMOnPEPiQCQjRGRqSPS2TdUGUvVaWFWwXcYJY2ZjaQa9brcYdGdzegfMf5glhRh9iojTj9knlRl6mjnMn0ocpEprqSq5rgsGsstSt4uevDvpwOwzxZx-yjzIzt0S031c2B2m3L3w4V465f6EIUIVIYIcIjIqIzI8JGJQJbJlJwJ7KFKQKbKnKyK_LMLaLqL6MMMfM0NKNiN7OWOyPQPvQQQyRWR6SgTHTvUYVBVrWWXBXtYZZGZyafbLb4ckdRd9epfVgAgrhWiBirjUj-knlPl4mgnHnvoWo8pjqJqvrVr6sftFtquPuzvYv9whxGxqyPyzzXz80g1E1p2N2x3W364f5DH3H5H7IAIHIPIYIiItI4JEJPJaJmJxJ9KIKUKhKtK7LJLZLpL7MOMjM5NQNpODOfO8PbP7QdRARkSJSvTWT-UnVRV7WlXQX7YnZSZ-aqbWcCctdZeEevfZgEguhXiBiqjSj6kilKlxmYm_nloLoxpWp7qgrFrqsOsztXt7ufvDvnwLwuxSx2yay9zh0F0o1M1w2T233b3_HcHdHgHlHsH0H-IJIUIgIsI4JFJRJdJpJ1KCKOKcKpK4LHLYLqL9MRMmM-NWNwOLOoPHPmQHQpRNRxSXS9TkUMU1VeWIWyXcYHYyZdaIaybdcIczddeHexfagEgshVh9iljMjzkalBlnmNmynXn8ohpGpqqOqyrWr6sdtAtkuHuqvNvwwTw2xZx8yfzCzl0I0r1O1x2V24HBHCHGHLHSHbHlHwH8IIIVIiIvI8JJJVJiJvJ8KJKXKmK2LGLYLrL_MUMrNDNcN3OUOxPQPxQSQ1RZR9SjTJTwUYVBVpWTW8XmYQY6ZkaOa4bicMc1deeHewfYgAgohPh2idjDjpkPk0lZl-mjnHnroPoypWp5qcq_risEsntJtsuOuxvTv1wYw6xcx-yhzDzl0I0q1M1vGoGpGsGyG5HCHNHYHlHyH_IMIaInI0JBJPJcJpJ3KFKUKkK0LGLYLsMBMYMvNINjN_OcO6PaP7QdRARkSISuTUT7UjVLVzWcXFXuYXZAZpaSa7bkcNc1ddeFetfUf7ghhHhtiTi4jdkBkllJltmRm0nXn6oco_phqDqlrHrpsLsttOtwuSuzvVv2wYw5xbx8yezAzh0D0lGQGRGVGaGiGrG1HBHOHbHpH3IFITIgIuI8JJJXJlJzKCKSKiK0LGLaLvMFMcM1NONqOGOkPDPjQEQnRKRuSTS4TeUFUsVTV7WjXLX0YcZEZtaVa8bkcMczdaeAenfNfygYg9hhiGiqjOjxkUk3lal9mfnBnjoEompHppqKqrrMrtsOsvtQtxuSuyvTv0wVw2xWx3yYy5zaF6F7F-GEGLGVGfGrG4HGHUHiHxH_INIbIpI3JFJTJhJwKAKQKiK0LHLcLyMIMhM6NVNxOOOsPMPsQOQwRTR3ScTBTnUNU0VbWCWpXRX4YfZHZuaVa8bicJcvdVd6effEfpgNgxhUh3iai9jgkCkklFlnmImpnKnroMospNptqOqurOrusOsvtPtvuPuvvPvvwPwvxPxwyQFlFmFpFvF2GAGLGXGkGyHAHPHdHsH6IJIXIlIzJBJQJfJvJ_KQKiK1LJLfL1MNMmNANbN4OWO0PUP1QXQ5RcSASlTJTvUVU7VhWHWuXUX7YhZIZuaUa5bfcEcpdOdyeWe6fdgAgjhFhoiKirjNjukPkwlQlwmRmxnRnxoQowpQpvqPqurOrtsMsstLtquKupvJvowHwnxGFRFSFVFbFjFsF3GDGQGeGtG8HLHZHoH3IFITIiIwI_JOJdJuJ_KRKjK3LMLiL6MSMsNGNiN_OeO9PdP9QfRCRlSISsTRT2UbVAVmWMWxXXX8YiZHZsaRa2bab-cidGdpeMeufRfzgUg2hXh4iYi5jZj5kZk5lYl3mXm2nVn0oToypQpvqOqsrLrqsIsntGtkuDuivBvfv-E_FAFDFJFQFZFkFxF-GMGbGqG5HIHXHlH0ICIRIfIuI9JNJdJuJ_KSKmK6LQLnL_MYMyNNNqOHOlPFPlQGQnRKRtSQS0TYT8UhVFVqWPW0XYX9YhZGZqaOaxbUb3cac8dfeAeifDfkgFglhFhliFikjEjjkCkhk_lel8mbm5nXn1oToxpPptqLqprHrlsDshs_tdt7uZu3EtEuEyE3E_FIFTFfFtF7GKGZGoG3HGHVHkHyIBIPIeItI9JNJdJvKBKUKoK-LULsMEMeM5NUNxOPOuPNPtQOQwRSR0SXS6TeUCUlVJVtWRW1XZX9YgZDZmaJasbObwcRczdUd0eVe1fVf1gUgzhShxiQiujMjqkIkmlElil_mdm6nYn1oSowpNpqqHqlrCrfr9sas3tVtyEdEeEiEnEuE4FDFPFcFqF5GIGYGnG2HFHUHjHxIAIOIdItI9JNJeJxKDKXKsLCLZLxMKMlNANcN5OXO2PVP1QWQ3RZR7SeTATjUGUqVNVwWTW2XZX7YeZAZiaEalbGbncIcodIdoeHenfFfkgDghg_hdh7iYi2jTjwkNkqlHlkmBmem6nXn0oQotpJpmqDqfq8rZr1sSsvEOEPESEYEfEoEzE_FNFbFqF5GIGYGnG2HFHTHiHxH_IOIeItI-JPJhJzKHKbKxLHLfL4MRMsNHNkOBOfO-PdP9QeQ_RgSCSkTGToULUtVPVyWUW2XYX6YbY8ZdZ-aea-beb-cdc8dbd5eYe2fUfxgPgshJhmiDifi8jYj1kRktlJllmBmdm5nVnxoNoppFphp9qZq1rSruEAEBEEEKEREaElExE-FMFbFqF6GJGYGnG2HFHUHiHxIAIPIfIvJAJRJjJ3KLKgK2LNLlL-MYMzNPNsOJOnPGPlQFQlRGRnSISqTLTtUOUwVSVzWUW1XWX3YYY4ZYZ3aXa2bVb0cScwdOdreJemfDfgf8gZg1hRhtiJiljBjcj4kTkvlKlmmBmcm4nTnvoKolpBpcp4qTqvDzD0D3D8EEENEXEjEwE-FNFcFsF7GKGZGoG3HGHUHjHyIBIQIgIxJCJUJnJ7KQKlK8LULsMGMgM7NXN0OSOwPOPtQNQtRNRuSOSvTQTxUSUyVTV0WUW0XUX0YUYzZSZxaPatbLbpcGckdBddd6eWeyfOfqgGghg9hYhziOipjEjfj6kVkwlLllmAmbm2nQnroGoho8pXpxDmDoDrDwD3EAEKEWEjExFAFPFeFuF9GMGbGqG5HHHWHkHzIDITIjI0JGJYJsKAKVKrLDLbL0MNMoNDNgN8OaO4PWP1QUQ0RUR0SUS0TUT0UUU0VUV0WUWzXSXxYPYuZMZqaHakbCbeb7cXczdPdreGeie9fYfzgOgphDheh4iTitjHjhj8kWkwlKlll_mZmznNnooCoco3DbDcDfDkDrD0D-EKEXElE0FDFSFhFwGAGPGdGsG6HJHYHmH2IFIVImI4JKJdJxKGKbKyLKLiL7MWMwNMNoOFOiPAPeP9QcQ7RaR6SZS5TYT3UXU2VVV0WTWxXPXtYLYoZFZiZ_aba4bUbvcLcmdBdcd3eSesfGfhf7gVgvhJhjh8iWiwjKjjj9kWkwlKljl9mXmwnKnkn-DQDRDUDZDgDpDzD_ELEZEoE3FGFVFkF0GCGRGgGuG9HLHaHpH4IIIZIqI8JPJiJ3KMKiK5LRLqMEMeM5NVNxOOOrPIPmQFQjRCRgR_SeS9TcT6UZU3VVVzWRWvXMXpYGYjY_ZbZ3aSaubJbkb_cZc0dOdoeCece1fPfogCgbg0hOhniAiZiyjLjlj-kXkwlJlil7mUmunHDGDHDKDPDWDeDoD0EBEOEdErE6FKFZFoF3GGGUGjGxG_HOHdHsH8IMIdIvJBJUJoJ9KTKqLBLZLyMMMnNCNdN5OWOzPQPuQMQqRIRmSESjTBTfT9UaU4VVVzWPWsXJXlYBYdY4ZTZuaJaka-bYbycMcmc_dZdyeLeke9fWfvgIghg5hShriDici0jNjmj-kXkvlIlhl5mSC8C9DADFDMDUDeDqD2EEESEhEwE_FOFdFsF6GJGXGmG0HCHRHgHwIAIQIiI0JHJaJvKEKaKyLJLiL7MVMwNLNmOCOfO7PYP2QTQwRORsSJSnTEThT_UcU4VVVxWOWpXFXgX8YXYxZMZmaAaaa0bNbmcAcZcxdKdjd7eUesfFfdf1gNglg-hWhuiGiei2jOjmj-kXkvlHlfCzC0C3C8DCDLDVDgDsD6EIEWElE0FEFSFhFwF-GMGbGpG3HGHVHkH0IEIVInI6JNJhJ2KMKiK6LSLrMEMeM5NUNvOLOnPEPgP9QaQ3RURxSOSrTHTkUAUdU5VUVwWLWmXBXcX2YQYqZEZeZ3aQapbCbbbzcMckc8dUdseEece0fLfjf7gSgqhChZhxiIigi4jPjnj_kWkuCrCrCuCzC6DCDMDXDjDwD-ENEcErE6FIFXFmF0GCGQGeGtG7HKHZHoH5IJIbItJAJUJoJ-KUKrLCLbL0MNMnNCNdN4OUOvPLPoQEQhQ9RZR2SSSuTKTmUCUdU4VTVuWJWjW9XXXxYKYkY9ZVZuaHafa3bPbnb_cXcudGddd0eMeje6fRfpgAgXguhFhch0iLiii5jQjoj_CiCjCmCrCxC5DDDODaDnD1EEESEhEwE_FNFcFqF4GGGUGiGxG_HOHdHtH-IPIhI0JHJbJwKGKcK0LLLkL9MWMwNLNmOBOcO4PTPvQLQnRDRfR6SWSxTNToUDUeU4VSVsWGWgW5XSXrYEYdY1ZNZlZ9aVasbEbbbycKchc4dPdld8eTeqfBfXfugFgbgyhJhfh2iNiki7jRCbCcCfCjCpCxC7DGDSDfDsD7EJEYEnE2FEFTFhFvF9GKGYGnG1HEHTHiHzIEIVIoI7JPJjJ5KPKlK9LVLtMGMgM6NUNvOJOkPAPbP2QSQtRIRjR_SZS0TPTpUEUeU3VRVqWDWcW1XOXmX-YWYuZFZcZ0aLaia5bQbmb9cTcqdAdXdteDeaewfGfdfzgJgfg2hMhih5iPilCUCVCXCcCiCqCzC-DKDXDkDyEBEQEeEtE7FKFYFmFzGBGPGdGrG6HJHYHoH5IKIcIvJCJXJsKBKYKvLGLeL3MQMpNDNdN3OSOtPHPiP9QYQzRNRoSCSdS3TRTrUEUdU3VPVoWAWZWxXJXgX4YPYmY9ZUZraBaYaubEbbbxcHcdczdJdfd1eKege2fMfif4gOgjg5hPhlh7CNCOCQCVCbCjCsC2DCDPDcDqD5EHEWEkEzFBFPFdFqF4GGGUGiGwG_HOHeHuH_IRIkI3JLJfJ0KKKhK4LQLoMAMZMzNMNmOAOaO1PPPpQEQeQ4RSRsSGSgS5TSTsUEUdU1VOVmV9WVWsXEXbXyYIYfY1ZLZiZ4aOaka5bPblb6cQcmc7dRdmd7eReme8fRfnf8gSgng9hSCGCHCKCOCUCcClCvC7DHDVDjDxD_EOEcErE5FHFUFiFvF9GLGZGnG1HEHUHkH1IGIYIrI_JTJoJ-KUKqLCLZLxMKMjM8NVNvOJOiO8PWPwQKQkQ9RXRwSJSiS7TUTsUEUcU0VMVjV6WRWoW_XVXrYCYYYtZDZZZuaEaZavbEbZbucEcZcudDdYdteCeXesfBfXfsgBgWgrCACBCECICOCVCeCpC0DADODbDqD4EGEVEjExE_FMFaFnF1GCGQGeGsG7HKHaHrH8IOIgI0JHJcJxKHKdK0LLLjL7MUMsNFNeN4OROqPEPdP3QQQpRCRbR0SMSlS9TVTtUEUcUzVKVgV3WNWkW6XQXlX7YRYmY7ZQZlZ7aPaka5bObjb4cMchc2dLdfd0eJedeyfHfcfwgFB6B7B-CCCICPCYCiCtC6DHDUDiDxD_ENEbEpE3FEFSFfFsF6GHGVGjGyHBHRHhHyIEIWIpI8JQJlJ7KRKnK-LVLtMFMdM2NONnOAOZOyPLPkP9QWQuRHRfR3SPSnS-TWTtUEUbUxVIVeV0WKWfW1XKXfX1YKYeYzZIZdZxaGaaavbDbYbscAcVcpc9dSdmd7ePeje4fMfhB1B2B4B8CCCJCSCcCnCzDADODcDqD4EGEUEiEvE9FKFXFlFyF_GNGbGpG4HIHYHoH6IMIeIxJFJaJvKEKaKxLILfL3MOMnM_NXNwOIOhO5PSPqQDQbQzRLRjR6SSSpTATWTtUDUaUwVFVbVwWGWbWwXFXaXuYDYXYsZAZUZoZ9aRala5bNbhb1cJcdcxdFdZdteBeVepe9BwBwBzB3B9CECMCWChCtC6DHDVDjDxD_ENEbEoE2FDFQFdFqF3GFGTGhGwG_HPHfHwICIUInI6JPJjJ4KOKkK7LSLpMAMYMwNINgN4OQOoPBPZPwQIQgQ3RPRmR9SUSqTBTXTtUDUYUuVDVYVtWCWXWrW_XUXoX8YQYkY4ZMZgZ0aHabavbCbWbqb9cRclc4dMdgd0eHebBqBrBuByB3B-CHCRCbCnC0DBDPDdDrD5EGEUEhEvE8FJFWFjFwF9GLGZGnG2HGHWHnH4IKIdIwJEJYJtKCKYKuLFLcLzMKMhM5NRNpOAOYOwPHPfP2QOQlQ8RSRpR_SWSsTBTXTtUCUXUsVBVVVqV-WSWmW6XOXiX2YJYdYwZEZXZrZ-aSala4bMbfbycGcZcsdAdTdnd6BmBmBpBtByB5CCCLCWCiCuC7DJDXDkDyEAENEbEoE1FCFPFbFoF2GDGRGfGuG9HNHeHvIBITImI5JNJiJ3KMKiK4LPLlL8MUMrNCNZNxOIOfO3POPlP8QTQpRARWRsSCSXStTCTXTsUBUVUqU-VSVmV6WOWiW1XJXcXvYDYWYpY8ZPZiZ1aIabavbCbVbob7cOchc0dHdaBhBiBkBoBuB0B9CGCRCcCpC2DDDRDeDsD6EHEUEhEuE7FIFVFhFuF8GJGYGmG1HFHVHmH4IKIcIvJDJXJsKBKWKsLCLZLvMGMdM0NLNiN5OQOnO9PUPrQBQXQtRDRZRuSESZSuTDTXTsUAUUUoU8VPVjV2WKWdWwXDXWXpX8YPYiY1ZHZaZtaAaSala4bLbdbwcDcWcoc7BdBdBgBkBpBwB4CBCMCXCjCwC9DLDZDmD0EBEOEbEoE1FBFOFbFnF1GCGQGfGtG9HNHdHvIAITImI5JNJhJ2KLKhK2LMLjL5MPMmM9NTNqOBOXOtPEPaPwQGQcQxRGRcRxSFSaSuTDTXTrT_USUmU5VMVgVzWGWYWrW-XRXjX2YIYbYtZAZSZlZ3aKacaubBbTbmb4cLcdBZBZBcBfBlBrBzB9CHCSCeCrC4DGDTDhDuD7EIEVEiEuE7FHFUFhFuF7GJGXGmG1HFHVHmH4IKIcIvJDJXJrKAKVKrLALWLsMCMZMvNFNcNyOIOeO0PKPgP1QKQgQ1RKReRzSHSbSvTDTWTqT9URUkU3VJVcVvWBWUWmW5XLXdXwYCYUYmY4ZLZdZvaBaTala4bKbcbucABVBVBYBbBgBnBvB4CCCNCZCmCzDADODbDoD2EDEPEcEoE1FBFOFaFnF0GCGQGeGtG9HNHeHvIBITImI5JNJhJ2KKKfK1LKLgL2MMMiM4NONkN5OPOlO6PQPlP6QPQjQ4RMRhR1SIScSvTDTWTpT8UPUhU0VGVZVrV9WQWiW0XGXYXqX8YNYfYxZDZVZnZ5aLadavbAbSbkBRBRBUBXBcBjBrB0B-CJCVChCuC7DJDWDjDwD9EKEWEiEvE7FHFUFhFuF7GJGXGmG1HFHWHnH4IKIdIwJDJXJrKAKVKqK_LULqL_MVMqNANWNrOBOWOrPAPVPqP-QTQnQ7RPRjR2SKSdSwTDTVToT7UNUfUxVEVWVoV5WLWdWvXBXSXkX2YHYZYqY8ZOZfZxaCaUama3bJBNBOBQBUBZBfBnBwB6CECQCdCpC2DEDRDeDrD4EEEREdEpE1FBFOFaFnF0GCGQGfGuG-HOHfHwICIUInI6JNJhJ1KKKfK0LJLeLzMIMeMzNINdNzOIOcOxPGPaPvQDQXQqQ-RRRlR4SLSdSwTCTVTnT5ULUdUvVBVSVkV2WHWZWqW7XNXeXwYBYSYkY1ZGZYZpZ7aMadavBKBKBMBQBVBbBjBsB1CACMCYClCyC_DMDZDmDyD_ELEXEjEvE7FIFUFhFuF7GJGYGnG2HGHXHoH5ILIeIxJEJYJrKAKUKpK9LSLnL8MRMmM7NQNlN6OOOjO3PLPfPzQHQaQtRARTRmR5SLSeSwTCTUTmT4UJUbUsU-VPVhVyWDWUWlW3XIXZXqX7YMYdYuZAZRZiZzaEaVBGBHBJBNBRBYBfBoByB8CICUCgCtC6DHDUDhDtD6EGESEeEqE2FCFOFbFoF1GDGRGgGvG_HPHgHxIDIVIoI7JOJiJ2KKKeKzLHLcLxMFMaMvNDNYNsOAOVOpO8PQPkP3QKQdQwRDRVRoR6SMSeSwTCTTTlT2UHUZUqU7VMVdVuV_WQWhWyXDXUXkX1YGYXYoY5ZKZbZsZ8BDBEBGBJBOBUBcBkBuB4CECQCcCpC2DDDPDcDoD1EBENEZEkEwE8FJFVFiFvF9GLGZGoG4HIHYHpH7INIfIyJFJYJsKAKUKoK8LRLlL6MOMiM3NLNfNzOHObOuPCPVPoP7QOQgQzRFRXRpR7SNSeSwTBTSTkT1UGUXUnU4VJVaVrV7WMWdWtW-XPXfXwYAYRYiYyZDZUZkBABBBDBGBLBRBYBhBqB0CACMCYCkCxC-DLDXDkDwD8EIEUEfErE3FDFPFcFpF2GEGTGhGxHBHRHiHzIFIXIpI8JPJjJ2KKKeKyLGLaLuMCMWMrM-NSNmN6ONOgO0PHPZPsP_QRQjQ1RHRZRqR8SNSeSvTBTRTiTzUEUUUlU2VGVXVnV4WIWYWpW5XKXaXqX7YLYcYsY9ZNA9A-BABDBIBOBVBdBnBxB8CICUCgCtC6DGDTDfDrD3EDEPEaEmEyE-FKFWFjFwF-GMGbGqG6HKHaHrH9IPIhI0JGJZJtKAKUKoK7LPLjL3MLMfMyNGNZNtOAOTOmO5PLPePwQCQUQmQ3RJRaRrR8SNSeSvTATRThTyUCUSUjUzVDVUVkV0WEWUWlW1XFXVXlX1YGYWYmY2A6A7A9BABFBKBSBaBjBtB4CECQCcCpC2DCDPDbDnDzD-EKEVEhEtE4FEFRFdFrF4GGGVGkGzHDHTHkH1IHIZIrI-JRJkJ3KKKeKxLFLZLsMAMTMnM6NNNgNzOGOZOrO9PQPiPzQFQXQoQ5RKRbRsR9SOSeSvS_TQTgTwUAUQUgUwVBVRVgVwWAWQWgWwXAXQXgXwYAYQYgA3A4A6A9BCBHBPBXBgBqB1CACMCZClCyC-DKDWDiDuD6EFEREcEoEzE_FLFYFlFyGAGOGdGsG8HMHdHuH_IRIjI1JIJbJuKBKUKnK7LOLhL1MIMbMuNBNUNnN5OMOeOwPCPUPlP3QIQZQqQ7RMRdRtR-SOSeSuS_TPTfTvT-UOUeUuU-VOVdVtV9WNWcWsW8XMXbXrX7YLA1A1A3A6A_BFBMBUBdBnBxB9CJCVChCuC6DGDSDeDqD1EBEMEXEjEuE6FGFTFfFtF6GIGXGmG2HFHWHnH4IJIbItJAJSJlJ4KLKeKxLELXLqL9MQMjM2NINbNtN_OROjO1PGPYPpP6QLQcQsQ9RNReRuR-SOSeSuS-TOTdTtT9UMUcUsU7VLVaVqV5WJWYWoW4XHXXXmX2AyAzA1A4A8BCBJBRBaBjBuB5CFCRCeCqC2DCDODaDmDxD8EHETEeEpE1FBFNFaFnF1GCGRGgGvG_HPHgHxICITIlI3JKJcJvKCKUKnK6LNLgLzMFMYMqM9NPNhNzOFOWOoO5PKPbPsP9QNQeQuQ-RPRfRvR-SOSeSuS9TNTcTsT7UKUaUpU5VIVXVnV2WFWVWkWzXDXSXiAwAwAyA1A6A_BGBOBXBgBrB2CCCOCaCmCyC-DKDWDhDtD4EDEOEZElEwE8FIFVFiFvF9GLGaGpG4HIHZHqH7IMIeIwJCJUJmJ5KLKeKxLDLWLoL7MNMfMxNDNVNnN4OKObOsO9POPfPvQAQQQgQwRARQRfRvR_SOSeStS8TMTbTqT5UJUYUnU2VFVUVkVzWCWRWgWvW_XOAtAuAwAzA3A9BDBLBUBdBoBzB_CKCWCjCvC7DGDSDdDpD0D_EKEVEgEsE3FDFQFcFqF3GFGUGjGyHCHSHjH0IFIWIoI6JMJeJwKCKVKnK6LMLeLwMDMVMmM4NKNbNtN-OPOgOwPBPSPiPyQCQSQiQyRBRRRgRwR_SOSdStS8TLTaTpT4UHUWUlU0VDVSVhVwV_WOWdWsW7ArArAtAwA1A6BBBIBRBbBlBwB7CHCTCfCrC3DDDODaDlDwD7EGEREcEnEzE_FLFXFkFyGAGOGdGsG8HMHcHtH-IPIgIyJEJWJoJ6KMKeKwLCLULmL4MKMcMtM_NQNhNyODOUOkO1PFPVPlP1QEQUQkQzRCRSRhRwR_SOSdSsS7TKTZTnT2UFUUUjUxVAVPVeVtV7WKWZWoApApArAuAyA4A-BGBOBYBiBtB4CECQCcCoC0C_DLDWDhDsD3EBEMEXEjEuE6FGFSFfFtF6GIGXGmG2HFHVHmH3IIIZIqI8JOJfJxKDKVKnK5LLLdLuMAMRMjM0NFNWNnN3OIOYOoO4PIPYPoP3QHQWQlQ0RERTRiRwR_SOSdSsS6TJTYTmT1UDUSUhUvU-VMVbVqV4WHWWAmAnApAsAwA1A8BDBMBVBfBqB1CBCNCZCkCwC8DHDSDdDoDzD9EIETEeEqE1FBFOFaFnF1GDGRGgGwG_HPHfHwIBISIjI0JGJXJpJ7KNKeKwLCLTLlL2MHMYMpM6NLNcNsN8OMOcOsO8PMPbPqP6QJQYQnQ2RFRTRiRxR_SOSdSrS6TITWTlTzUCUQUfUtU7VKVYVnV1WEAkAlAnAqAuAzA5BBBJBSBdBnByB-CKCVChCtC4DDDPDZDkDvD6EEEPEaElExE9FJFVFiFwF-GMGbGqG5HJHZHpH6ILIcItI-JQJhJzKEKWKnK5LKLbLsL9MOMfMwNANRNhNxOBOROgOwO_PPPePtP8QLQaQoQ3RGRURjRxSASOScSrS5THTVTkTyUAUOUdUrU5VIVWVkVyAiAjAlAoAsAxA3A-BHBQBaBkBwB7CHCSCeCpC1DADLDWDhDrD2EAELEWEhEsE4FEFRFeFrF5GHGVGkGzHDHTHjHzIEIVImI3JIJZJrJ8KNKfKwLBLSLjL0MEMVMmM2NGNWNmN2OFOVOkO0PDPSPhPvP-QNQbQqQ4RHRVRjRxSASOScSqS4TGTUTiTxT_UNUbUpU3VFVTViAgAhAjAmAqAvA1A8BEBOBXBiBtB4CECPCbCmCyC9DIDSDdDoDyD9EHESEdEoE0FAFMFZFmFzGBGQGeGuG9HNHdHtH9IOIfIwJBJSJjJ0KFKWKnK4LJLaLqL7MLMcMsM8NMNbNrN6OKOZOoO3PGPUPjPyQAQPQdQrQ5RHRWRkRySASOScSqS4TFTTThTvT9ULUZUnU1VDVRAfAfAhAkAoAtAzA6BCBLBVBfBqB1CBCMCYCjCuC5DEDPDaDkDuD5EDEOEZEkEwE7FIFUFhFvF8GLGZGoG3HHHXHnH3IHIYIpI5JKJbJsJ9KOKfKvLALRLhLyMCMSMiMyNBNRNgNwN_OOOdOrO6PJPXPlP0QCQQQeQsQ6RIRWRkRySASOSbSpS3TFTSTgTuT8UKUXUlUzVBAdAdAfAiAmArAxA4BABJBSBdBoBzB-CJCVCgCrC2DBDMDWDhDrD1EAEKEVEgErE3FDFQFdFqF3GFGUGjGyHBHRHgHxIBIRIiIyJDJUJkJ1KGKXKnK4LILYLoL4MIMYMoM3NHNWNlN0ODOSOgOvO9PLPaPoP2QEQSQgQuQ7RJRXRlRySASNSbSpS2TETSTfTtT7UIUWUjUxAbAcAdAgAkApAvA2A-BHBQBaBlBwB7CHCSCdCoCzC-DIDTDdDnDyD8EGEREcEnEzE_FLFYFlFzGAGPGdGsG7HLHaHqH6ILIbIrI8JMJdJuJ-KPKfKvK_LQLgLvL_MPMeMuM9NMNbNqN4OHOVOkOyPAPOPcPqP4QGQTQhQvQ8RKRXRlRySASNSbSoS2TDTRTeTsT5UHUUUiAZAaAcAeAiAnAtA0A8BEBOBYBjBuB5CECPCaClCwC7DFDQDaDkDuD4EDENEYEjEvE7FHFTFgFuF8GKGYGnG2HFHVHkH0IEIUIlI1JFJWJmJ2KHKXKnK3LHLXLmL2MFMVMkMzNCNRNfNuN8OLOZOnO1PDPRPePsP6QHQVQiQwQ9RLRYRlRzSASNSbSoS1TDTQTdTrT4UFUTAYAYAaAdAgAlArAyA6BCBMBWBgBrB2CBCNCYCjCtC4DCDMDXDhDrD1D_EKEVEgErE3FDFPFcFpF3GFGTGhGwG_HPHeHuH-IOIeIuI-JPJfJvJ_KPKfKvK_LOLeLtL8MMMbMpM4NHNVNkNyOAOOOcOqO4PFPTPhPuP7QJQWQkQxQ-RLRZRmRzSASNSaSoS1TCTPTcTqT3UEAWAXAYAbAfAjApAwA4BABKBTBeBpB0B_CKCVCgCqC1C_DJDTDdDnDyD8EGEREcEnEzE_FLFYFlFyGAGOGcGrG6HJHZHoH4IIIYIoI4JIJYJoJ4KHKXKnK3LGLVLlL0MDMRMgMvM9NMNaNoN2OEOSOfOtO6PIPVPjPwP9QKQYQlQyQ_RMRZRmRzSASNSaSnS0TBTPTcTpT2AVAVAXAZAdAiAnAuA2A-BHBRBcBmBxB8CHCSCdCoCyC8DGDQDaDkDuD4EDENEYEjEvE7FHFTFgFuF7GJGXGmG1HEHTHiHyICIRIhIxJBJRJhJwKAKQKfKvK-LNLcLrL6MJMXMmM0NCNQNeNsN6OHOVOiOwO9PKPYPlPyP_QMQZQmQzRARNRaRnRzSASNSaSnS0TBTOTbToATAUAVAYAbAgAmAsA0A8BFBPBZBkBvB6CFCQCaClCvC5DDDNDXDhDrD1D_EKEUEgErE3FDFPFcFpF3GEGSGhGwG-HNHdHsH8ILIbIrI6JKJaJpJ5KIKXKnK2LFLULjLxMAMOMdMrM5NHNUNiNwN9OLOYOlOyPAPNPaPnP0QAQNQaQnQ0RBRNRaRnR0SASNSaSnS0TATNTaASASAUAWAaAeAkArAyA6BDBNBXBiBtB4CCCNCYCiCtC3DBDKDUDeDoDyD8EGEREcEnEzE_FLFYFlFyGAGOGcGqG5HIHXHmH2IFIVIkI0JDJTJiJyKBKQKfKuK9LMLaLpL3MGMUMiMwM9NLNZNmNzOBOOObOoO1PCPPPcPpP1QCQPQbQoQ1RBRORbRnR0SBSNSaSnSzTATNAQARASAVAYAdAiApAwA5BCBLBVBgBqB1CACLCVCgCqC0C-DIDRDbDlDvD5EDEOEYEjEvE7FHFUFgFuF7GJGXGlG0HDHSHhHwH_IPIeItI9JMJbJrJ6KJKYKnK1LELSLhLvL9MLMZMnM0NCNPNdNqN3OEOROeOrO4PEPRPePqP3QEQQQdQpQ2RCRPRbRoR0SBSNSaSmSzTAAPAPARATAXAbAhAnAvA3BABJBTBeBoBzB-CICTCdCnCxC7DFDODYDiDsD2EAEKEVEgErE3FDFPFcFpF3GEGSGhGvG-HMHbHqH6IJIYInI2JFJVJkJzKCKQKfKuK8LKLZLnL1MDMQMeMrM5NGNTNgNtN6OHOUOhOtO6PHPTPgPsP5QFQRQeQqQ3RDRPRcRoR1SBSNSaSmSzANAOAPASAVAaAfAmAtA1A-BHBRBcBmBxB7CGCQCbClCvC4DCDMDVDfDpDyD8EHEREcEoEzE_FMFYFlFyGAGOGcGqG5HHHWHlH0IDISIhIwI_JOJdJsJ7KJKYKmK1LDLRLfLtL6MIMVMjMwM9NKNXNkNxN-OKOXOjOwO8PJPVPiPuP6QHQTQfQrQ4RERQRcRpR1SBSOSaSmAMANAOARAUAYAeAkArAzA8BFBPBaBkBvB5CECOCYCiCsC2C_DJDSDcDmDvD5EEEOEZEkEwE7FIFUFhFuF8GJGXGlG0HCHRHgHuH9IMIbIqI5JIJWJlJ0KCKRKfKtK7LJLXLlLyMAMNMaMnM0NBNONbNoN0OBONOaOmOyO_PLPXPjPwP8QIQUQgQsQ5RFRRRdRpR1SBSOSaALALANAPATAXAcAjAqAyA6BEBNBYBiBsB3CBCMCWCgCqCzC9DGDQDZDjDsD2EAELEWEhEsE4FEFQFdFqF3GFGTGhGvG9HMHaHpH4IGIVIkIzJBJQJfJtJ7KKKYKmK0LCLPLdLqL4MFMSMfMsM5NFNSNfNrN3OEOQOcOpO1PBPNPZPlPxP9QJQVQhQtQ5RFRSReRqR2SCSOAKAKAMAOARAWAbAhAoAwA5BCBMBWBgBqB1B_CKCUCdCnCxC6DEDNDWDgDpDzD9EIESEdEpE0FAFMFZFmFzGAGOGcGqG4HHHVHkHyIBIPIeItI7JKJYJmJ1KDKRKfKtK6LILVLjLwL9MKMXMjMwM9NJNWNiNuN7OHOTOfOrO3PDPPPbPnPzP_QLQXQjQuQ6RGRSReRqR2SCAIAJAKANAQAUAaAgAnAuA3BABKBUBeBoBzB9CHCRCbClCuC4DBDKDUDdDnDwD6EFEPEaElExE8FJFVFiFvF8GKGYGlG0HCHQHeHtH7IKIYInI1JEJSJgJuJ8KKKYKlKzLALOLbLoL1MCMPMbMoM0NBNNNZNlNyN-OKOWOiOtO5PFPRPdPpP1QAQMQYQkQwQ7RHRTRfRrR2AHAIAJAMAPATAYAeAlAtA1A-BIBSBcBmBxB7CFCPCZCiCsC1C-DIDRDaDkDtD3EBEMEXEiEtE5FFFRFeFrF4GFGTGhGvG9HLHZHoH2IEITIhIvI-JMJaJoJ2KDKRKeKsK5LGLTLgLtL6MHMTMgMsM4NENRNdNpN1OBOMOYOkOwO8PHPTPfPqP2QCQNQZQlQxQ8RIRURfRrAGAHAIAKAOASAXAdAkArA0A9BGBQBaBkBvB5CDCNCXCgCqCzC8DFDODYDhDrD0D-EJETEeEqE1FBFOFaFnF0GBGPGcGqG4HGHUHjHxH_INIbIqI4JGJUJhJvJ9KKKYKlKyK_LMLZLmLyL_MLMYMkMwM8NINUNgNsN4ODOPObOmOyO-PJPVPhPsP4QDQPQaQmQyQ9RJRURgAFAGAHAJAMARAWAcAiAqAyA7BFBOBYBjBtB3CBCLCUCeCnCwC6DDDMDVDeDoDyD7EGEQEbEmEyE-FKFWFjFwF9GLGYGmG0HBHPHeHsH6IIIWIkIyJAJNJbJpJ2KEKRKeKrK4LFLSLeLrL3MEMQMcMoM0NANMNXNjNvN7OGOSOdOpO0PAPLPXPiPuP5QFQQQcQnQzQ-RKRVAEAEAGAIALAPAUAaAhApAxA6BDBNBXBhBrB1B_CJCSCcClCuC3DADJDSDcDlDvD5EDENEYEjEvE6FGFTFfFsF5GGGUGhGvG9HLHZHnH1ICIQIeIsI6JIJVJjJwJ9KKKXKkKxK-LLLXLjLwL8MIMUMgMsM4NDNPNbNmNyN9OJOUOgOrO3PCPNPZPkPvP7QGQRQdQoQ0Q_RKADADAFAHAKAOATAZAgAnAvA4BBBLBVBfBpBzB9CHCQCaCjCsC1C-DHDQDZDiDsD2EAEKEVEgErE3FDFPFbFoF1GCGQGdGrG4HGHUHiHvH9ILIZInI0JCJPJdJqJ3KEKRKeKqK3LELQLcLoL0MAMMMYMkMwM7NHNSNeNpN1OAOLOXOiOtO5PEPPPaPmPxP8QIQTQeQpQ1RAACACAEAGAJANASAYAeAmAuA3BABJBTBdBnBxB7CFCOCXChCqCzC7DEDNDWDgDpDzD9EHESEdEoE0E_FLFYFkFxF-GLGZGmG0HBHPHdHqH4IGITIhIvI8JJJXJkJxJ-KLKXKkKwK9LJLVLhLtL5MFMRMcMoMzM_NKNWNhNsN4ODOOOZOkOwO7PGPRPcPnPzP-QJQUQfQrQ2ABABADAFAIAMARAXAdAkAtA1A-BIBSBbBlBvB5CDCMCVCeCnCwC5DCDLDUDdDnDwD6EEEPEaElEwE8FIFUFhFtF6GHGVGiGvG9HKHYHmHzIBIOIcIpI2JEJRJeJrJ4KEKRKdKqK2LCLOLaLmLyL9MJMVMgMsM3NCNONZNkNvN6OFOROcOnOyO9PIPTPePpP0P_QKQVQhQsAAAAACAEAHALAQAVAcAjArA0A9BGBQBaBkBuB3CBCKCTCcClCuC3DADJDSDbDkDuD3ECEMEXEiEtE5FFFRFdFqF2GDGQGeGrG4HGHTHhHuH8IJIWIkIxI-JLJYJlJxJ-KLKXKjKvK7LHLTLfLrL2MCMNMZMkMvM6NGNRNcNnNyN9OIOTOeOpO0O_PKPVPgPrP2QBQMQXQi",0.07598718437280026,5.005994289903826),{"ox": 78.5, "oy": 515.6, "ax": 28.33, "ay": 14.97, "sx": 39.74, "sy": -10.66, "zs": 62.15, "zmin": 0, "zmax": 6},0.3,5.006,1.3);
surf(dec("___9_2_q_a_G-t-P9t9G8b7s656B5G4H3F2A05zvykxYwLu9txslrbqSpMoJnImKlQkZjmi3iLhig9gbf9fifJezegeQeCd1drdjdcdWdSdQdOdNdNdNdPdRdTdVdYdbdfdidldpdsdwdzd2d5d8d_eCeFeHeJeLeNePeReSeUeVeWeXeYeZeZeaeaebebebebecececec_-_8_1_q_a_F-s-O9s9G8b7r646A5F4G3E1_04zuyjxXwKu9twskraqSpLoInHmKlPkZjmi2iKhhg8gbf8fhfIezegePeBd1dqdidbdWdSdPdNdMdMdNdOdQdSdVdYdbdedhdldodsdvdyd2d5d8d_eBeEeGeJeLeNeOeQeSeTeUeVeWeXeYeZeZeaeaeaebebebebebeb_8_6_z_o_Y_D-q-M9q9D8Y7p615-5D4E3C1902zsyhxUwHu6tusirYqPpJoGnFmIlNkXjki0iIhfg6gZf6fffHexeeeNd_dzdpdgdZdUdQdNdLdKdKdLdMdOdQdTdWdZdcdfdjdmdqdtdwd0d3d6d9d_eCeEeHeJeLeMeOeQeReSeTeUeVeWeXeXeYeYeYeZeZeZeZeZeZ_4_1_u_j_T---l-H9l8_8U7k6x554-3_2-150xzoydxQwDu2tqserUqMpFoCnBmElKkTjgixiFhcg3gWf3fcfDeuebeKd8dwdmdddWdRdNdKdIdHdHdIdJdLdNdQdTdWdZdcdgdjdndqdtdxd0d3d6d8d_eBeEeGeIeJeLeNeOePeQeReSeTeTeUeUeVeVeVeWeWeWeWeW_W_T_M_B-x-d-E9n9F8f717G6T5d4j3l2k1g0azRyHw8vwuktYsOrEp9o3n1m1l4k-kIjWinh7hTgvgNfvfUe8eneUeDd1dpdfdXdQdLdHdEdCdBdBdCdDdFdHdKdNdQdTdXdadedhdkdodrdudxd0d3d5d8d-eAeCeEeFeHeIeJeKeLeMeNeOeOePePePeQeQeQeQeQeQ-l-i-b-P-A9r9T828V7v7F6X5m4w32261603zxyqxhwXvMuBs2rtqkpeoZnYmZldkkjvi9iOhjg8gYf3fZe-eneSd_dvdhdVdLdDc8c3czcwcvcucucvcwcyc0c2c5c8dAdDdGdKdNdRdUdXdadddgdjdldodqdsdudwdxdzd0d1d2d3d4d5d6d6d7d7d7d7d8d8d8d8d89z9w9o9d9N848g8D7i696T5l403_3G2J1K0IzDx8w0vruhtWsNrEp8o3nzmyl0k5kAjMibhthCgbf4fXe6efeIdzdhdRdDc3ctclcfcacWcTcRcQcQcRcScUcWcZcccfciclcocscvcyc2c5c8c_dCdEdHdJdLdNdPdRdSdUdVdWdYdYdZdadbdbdcdcdcdddddddddddd87838w8k8T7_7n7K6p6E5b4t383H2P1T0VzTyPxJwCu6txsnrfqXpQoLnJmJlLkRjaimh1hIgef4fUe0eYd-dmdSdAcwcicXcNcFb_b5b2bzbxbwbwbxbyb0b2b5b7b-cBcFcIcLcOcScVcYcbcecgcjcmcocqcscucwcxczc0c1c2c3c4c5c5c6c6c7c7c7c7c7c8c8c88A78707o7Y7D6r6O5t5I4f3y3B2N1V0azbybxXwSvMuEs8rzqrpkofnbmZlakdjkith6hKgef0fPeseMdwdWc_crcZcKb8bxbnbfbZbUbQbNbMbLbLbLbNbObQbTbVbYbbbebiblbobrbubxb0b3b6b8b_cBcDcFcHcIcKcLcNcOcPcQcQcRcScScTcTcTcUcUcUcUcUcU7A686z6n6W6B5p5M4r4G3d2w1_1L0TzZybxbwYvTuOtHr_q4pxornmmjlikkjoivh6hHgYfsfEefd9dddBcocSb-bsbdbQbEa7azataoakahafafaeafagaiakamaoarauaxa0a3a6a9bBbDbGbJbMbObQbTbVbXbYbabbbdbebfbgbhbibjbjbkbkbkblblblblblblbl5z5v5m5Z5I4z4b3-3d242Q1j0zz_zIyOxRwSvQuNtIsCq8p2ownrmolmkmjpivh3hCgRfje4eQdsdKcscQb4bibOa9auahaWaMaFZ-Z5Z2ZzZxZwZwZxZyZzZ1Z3Z6Z8Z_aCaFaIaLaOaRaUaXaZacaeagajalamaoaqarasauavawaxaxayazaza0a0a0a0a1a1a1a1a14a4V4M3_3u3Z3A2k2E1g040Mzdyqx0w7wAvCuCtAr9q5p0ownrmolmkmjoithzg9gKfaeteDdcc5cYb6bfbHayafaOZ_ZzZoZfZXZRZMZJZGZEZDZDZEZFZGZIZKZMZPZSZVZYZaZdZgZjZmZpZrZuZwZyZ0Z2Z4Z6Z7Z9Z-Z_aAaBaCaDaDaEaEaFaFaFaGaGaGaGaGaG2y2s2i2V2E1v1X070cz5zSynx5xIwUvdujtnsprqqppnoknimglfkfjhilhrg0f_fOefdzdLclcDbjbHataVaAZuZeZQZDY5YwYpYjYeYbYYYWYWYVYWYXYYYaYcYeYhYkYmYpYsYvYyY1Y3Y6Y8Y_ZBZDZFZHZJZKZMZNZOZQZRZSZSZTZUZUZVZVZVZWZWZWZWZWZWZW1M1G080u0d0JzxzVy3yUxuxFwYvou1uAtIsOrSqUpVoVnVmUlUkVjYibhhgpfzfAeQdjc5cRbtbMataRZ4ZhZNY7YsYeYSYIX_X4XyXuXqXoXmXmXlXmXnXoXqXsXuXxXzX2X5X7X-YBYEYGYJYLYNYQYSYUYWYXYZYaYcYdYeYfYgYhYhYiYiYjYjYkYkYkYkYkYkYkYkzrzkzazMy7ymyOxzxVwzwOvlu5uLtZslruq2p7o_oBnDmFlGkIjLiOhUgbflexd_dRclb8bVayaSZ0ZZZBYrYXYGX2XpXdXTXLXEW_W6W3W1WzWyWyWyWzW1W2W4W6W9W_XCXFXHXKXMXPXSXUXWXZXbXdXfXgXiXjXlXmXnXoXpXqXrXsXsXtXtXuXuXuXuXuXvXvXvXvx9x1xqxcxLw2wewEvmvFugt5tOshrxq-qJpSoanfmklokrjvizh3g9gFfOeadnc4cLbga5aUZyZSY2YcYEXvXcXLW8WvWkWbWTWMWHWCV_V9V7V6V6V7V8V9V-WAWCWFWHWJWMWPWRWUWWWYWbWdWfWhWjWlWnWoWqWrWsWtWuWvWwWxWyWyWzWzWzW0W0W0W0W0W0W0W1v-v2vrvcvKu2ufuFtotIskr-rVqpp7pKoYnjmtl1k8kCjIiOhVgcfkeud6dIcXbqa-aWZwZNYsYOXzXaXDWvWcWMV-VyVnVeVWVQVLVHVEVBVAU_U_U_VAVBVDVFVHVJVLVOVQVSVVVXVaVcVeVgViVkVmVoVqVrVtVuVvVwVxVyVzVzV0V1V1V1V2V2V2V2V3V3V3V3V3t4tvtjtUtCsusXr-rirDqhp8pVorn-nQmgluk6kFjOiXhggpfye8eHdTchbxbDaYZvZIYkYCXjXHWsWVV_VsVaVLU-UyUoUfUYUSUNUJUGUEUCUCUBUCUDUEUFUHUJULUNUPUSUUUWUZUbUdUfUhUjUlUnUpUqUsUtUuUvUwUxUyUzU0U0U1U1U1U2U2U2U2U3U3U3U3U3r7rxrlrWrEqvqZqAplpGoloBnbmymHlbksj8jKiXhjguf5fEeQdccpb4bIaaZuZEYdX4XVW1WXV8VjVMU4UlUVUGT5TuTkTcTVTPTKTHTETCTATAS_TATATCTDTFTGTITKTMTPTRTTTVTXTaTcTdTfThTjTkTmTnToTqTrTsTtTtTuTvTvTwTwTxTxTxTxTxTyTyTyTyTyp6pvpipSpAosoVn9ninFmkmBlck1kMjhi0iGhWglfzfBeOdbcpb4bHaYZqY_YVXtXIWkWDVlVJUvUXUBTtTcTMS-SySnSeSWSPSKSFSBR_R9R7R7R7R7R7R8R-R_SBSDSFSHSJSLSNSPSRSTSVSXSYSaScSdSeSgShSiSjSkSlSmSmSnSnSoSoSpSpSpSpSpSqSqSqSqSqnrnfnSnCmvmbmFlulUk3kYj3jUiuiHheg0gIfbetd-dOcebva_aRZjY3YMXiW7WVVyVRUyUVT6TiTLS3SlSUSFR4RsRiRZRSRMRGRCQ_Q8Q6Q5Q4Q4Q5Q5Q6Q7Q9Q-RARCRERGRIRKRLRNRPRRRTRURWRXRZRaRbRcReReRfRgRhRhRiRjRjRjRkRkRkRkRkRlRlRlRlRlk3krkdkMj6jnjSi8ikiKhthPgugMfpfEeed2dNcjb4bNaiZ2ZLYgX2XOWmWBVdU6UaT7TfTESsSVSBRuRdRORAQ0QpQgQYQRQLQHQDQAP-P8P7P6P6P7P7P8P9P_QAQCQEQGQIQJQLQNQPQRQSQUQWQXQYQaQbQcQdQeQfQgQhQhQiQiQjQjQkQkQkQkQlQlQlQlQlQlQliciPiAhvhehLg3gigLfyfYe8eed-dec8cZb0bPaoaBZZYxYJXiW6WUVuVKUnUGTmTISsSSR5RiROQ7QpQaQLP_P0PqPhPaPUPOPKPGPEPCPAO_O_O_O_PAPBPCPDPFPGPIPKPMPNPPPRPTPUPWPXPZPaPcPdPePfPgPhPiPjPjPkPlPlPmPmPmPnPnPnPnPnPnPoPoPoPogbgNf-ftfbfJe1eheLd0dbdAckcHbobIaoaGZjY_YbX2XRWrWGViU-UbT5TYS5ScSARlRNQ2QhQNP8PrPdPPPEO5OwOoOhObOWOSOPONOLOJOJOIOIOJOJOKOLONOOOQOROTOUOWOYOZObOdOeOgOhOiOkOlOmOnOoOpOqOqOrOsOsOtOtOtOuOuOuOuOvOvOvOvOvOvOvepeaeKd6dodVdCcvcacEbsbTa4adaAZiZEYlYEXjXBWeV7VYU2UUTyTRSySTR2RaRAQnQQP7PnPVPEO1OnObOQOGN-N2NwNqNmNiNfNcNbNaNZNZNZNZNaNbNcNdNeNgNhNjNkNmNoNpNrNsNuNvNwNyNzN0N1N2N3N4N4N5N6N6N7N7N8N8N8N9N9N9N9N9N9N9N9N-N-dAcxchcQb-bsbZbHazaeaHZvZWY8YhYGXpXMWuWOVvVOUuUNTtTNStSPRxRVQ5QfQHPwPaPGOzOiOTOEN3NsNhNYNQNJNDM-M6M2MzMxMwMvMuMuMuMuMvMwMxMyMzM1M2M4M5M7M8M-M_NBNCNDNFNGNHNINJNKNLNMNMNNNONONPNPNQNQNQNQNRNRNRNRNRNRNRNRNRbjbTbDayagaOZ8ZqZWZCYsYWX-XlXMWyWYV8VgVDUlUGToTJSrSNRvRTQ3QcQCPqPSO9OoOWOEN0NlNYNMNBM3MuMnMgMaMWMSMOMMMKMIMHMHMHMHMHMIMJMKMLMMMNMPMQMSMTMVMWMXMZMaMbMdMeMfMgMhMiMjMjMkMlMlMmMmMnMnMnMoMoMoMoMoMoMoMoMpMpMpaRaBZwZeZNY7YpYXYFXxXcXHWwWZWBVoVPU1UaT_TiTGSpSMRvRTQ3QcQCPoPQO5OjOON7NpNZNJM7MvMjMZMQMIMAL6L1LwLsLpLnLlLkLjLiLiLiLjLjLkLlLmLnLpLqLrLtLuLwLxLyL0L1L2L3L4L5L6L7L8L9L-L-L_L_MAMAMBMBMBMCMCMCMCMCMCMDMDMDMDMDZHY3YmYUYCXwXfXNW7WoWUV_VqVTU8UlUNT0TbTBSmSLRvRUQ5QeQDPqPRO4OhOLN3NjNRNAMwMiMUMIL9L0LrLjLcLWLRLNLJLGLELCLBLALALALALALBLCLDLELFLGLHLJLKLLLNLOLPLRLSLTLULVLWLXLYLZLZLaLbLbLcLcLdLdLdLeLeLeLeLeLfLfLfLfLfLfLfYEXzXhXQW-WsWaWKV4VlVSU-UpUTT9TnTQS5ShSIRuRVQ7QgQHPtPUO7OjOMN2NiNOM7MqMaMLL9LwLlLbLRLJLCK7K1KxKtKpKmKkKiKhKgKgKgKgKgKhKiKjKkKlKmKnKpKqKrKsKuKvKwKxKyKzK0K1K2K3K4K5K5K6K6K7K7K8K8K8K9K9K9K9K9K-K-K-K-K-K-K-XFW0WiWQV-VtVbVLU6UoUVUBTtTYTDSuSYSCRrRTQ7QiQKPxPYPAOoOQN6NkNPM7MoMXMGL3LpLbLPLFK7KyKqKjKdKXKTKPKMKJKHKFKEKDKDKDKDKDKEKFKGKHKIKJKKKLKMKOKPKQKRKSKUKVKWKXKXKYKZKaKbKbKcKcKdKdKeKeKeKeKfKfKfKfKfKfKfKfKgKgKgWLV5VnVVVDUxUgUQT_TuTbTIS1ShSNR4RjROQ4QiQKPzPbPEOsOVN-NoNSM9MpMWMEL0LkLVLIK7KwKlKcKTKMKFJ_J6J2JyJvJsJqJpJoJnJnJmJnJnJoJoJpJqJrJsJtJvJwJxJyJzJ0J1J3J4J5J5J6J7J8J9J9J-J-J_J_KAKAKAKBKBKBKBKCKCKCKCKCKCKCKCKCVTVBUvUdULT5ToTYTHS2SkSSR-RrRXREQwQbQGPxPbPEOuOXOANqNUM_MqMWMDLxLgLQLBKzKmKaKPKFJ8J0JtJmJhJcJYJUJRJPJNJLJKJKJJJJJJJKJKJLJMJNJOJPJQJRJSJTJUJVJWJXJYJZJaJbJcJdJdJeJfJfJgJgJhJhJiJiJiJiJjJjJjJjJjJjJjJjJjJjJjUeUMT6TnTVTDSySiSRSARuRcRJQ2QjQQP9PpPUO_OqOUN-NpNTM9MoMUMALtLbLJK5KpKbKOKBJ2JrJiJZJRJLJEI_I6I2IzIwIuIsIqIpIpIoIoIoIpIpIqIrIrIsItIuIvIwIyIzI0I1I2I3I3I4I5I6I7I7I8I9I9I-I-I-I_I_I_JAJAJAJAJAJBJBJBJBJBJBJBJBTsTZTGS0ShSPR-RuRdRMQ6QoQVQCPvPcPJO1OhONN4NjNOM4MjMPL6LmLTLBKvKfKPKAJyJlJZJOJEI7IzIrIlIfIaIVIRIOILIJIHIGIFIEIEIEIEIEIEIFIGIGIHIIIJIKILIMINIOIPIQIRIRISITIUIUIVIWIWIXIXIXIYIYIYIZIZIZIZIaIaIaIaIaIaIaIaIaIaS5SnSUSBRuRbRKQ6QpQYQGP0PhPPO8OpOXOENwNcNIMzMeMKL2LhLOK7KoKXKGJ2JmJYJLI_IzIpIfIWIPIHIBH7H2HyHuHrHoHmHkHjHiHhHhHhHhHhHhHiHjHjHkHlHmHnHnHoHpHqHrHsHtHtHuHvHwHwHxHxHyHyHzHzHzH0H0H0H0H1H1H1H1H1H1H1H1H1H1H2H2SFRyReRLQ4QmQVQFP0PjPSPAOuOcOKN4NmNUNBMuMbMHL0LgLNK5KnKVKDJyJiJTJFI3IrIfIUIKIBH5HxHqHkHfHaHWHTHQHNHLHJHIHHHGHGHGHGHGHGHHHHHIHJHKHKHLHMHNHOHPHPHQHRHSHSHTHUHUHVHVHWHWHXHXHXHYHYHYHYHZHZHZHZHZHZHZHZHZHZHZHZROQ7QoQUQBPvPePPO_OuOdOMN7NqNZNIM3MmMUMCLwLeLLK5KnKVKDJyJiJSJDI0InIaIOIDH5HwHnHfHYHSHMHHHDG_G7G5G2G0GzGxGxGwGwGvGwGwGwGxGxGyGyGzG0G1G1G2G3G4G5G5G6G7G8G8G9G9G-G-G_G_HAHAHAHBHBHBHBHBHCHCHCHCHCHCHCHCHCHCHCQdQKP2PjPQO-OtOeOON-NuNeNNM9MsMcMNL8LsLbLKK5KnKWKFJ0JjJTJEI1ImIZIMIAH1HrHhHYHQHJHCG8G3GyGuGqGnGkGiGgGfGeGdGcGcGcGcGcGcGdGdGeGfGfGgGhGiGiGjGkGlGlGmGnGnGoGpGpGqGqGrGrGrGsGsGsGtGtGtGtGtGtGtGuGuGuGuGuGuGuGuP3PjPQO8OpOXOHN3NoNZNJM5MpMZMJL5LqLbLLK7KqKaKJJ5JoJYJII5IqIcIOIBH1HqHfHVHMHEG8G1GuGpGkGfGbGXGUGSGQGOGNGMGLGKGKGKGKGKGKGLGLGMGNGNGOGPGQGQGRGSGSGTGUGUGVGWGWGXGXGYGYGYGZGZGZGaGaGaGaGaGbGbGbGbGbGbGbGbGbGbGbPXPDOvObOIN2NmNXNIM4MpMZMJL5LqLbLMK9KuKeKPJ_JvJfJPI_IwIhITIFH4HsHgHVHLHBG4GwGpGiGcGWGRGNGJGGGDGAF-F9F7F6F6F5F5F5F5F5F5F6F6F7F7F8F9F9F-F_GAGAGBGCGCGDGDGEGFGFGFGGGGGHGHGHGIGIGIGIGIGJGJGJGJGJGJGJGJGJGJGJGJO1OhONN5NmNUNDM1MmMWMHL3LoLZLKK7KtKfKQKBJyJiJTJEI0ImIXIJH7HuHhHVHKHAG2GtGkGdGWGPGJGEF_F7F3F0FxFvFtFrFqFpFoFoFoFnFnFoFoFoFpFpFqFrFrFsFtFtFuFvFvFwFwFxFyFyFzFzF0F0F0F1F1F1F2F2F2F2F2F3F3F3F3F3F3F3F3F3F3F3F3ORN8NoNUNBMvMfMQMBLyLjLULFK2KoKaKMJ_JwJiJTJFI2InIZILH9HvHiHWHKG-G0GqGgGYGQGIGCF7F2FxFsFoFlFiFfFdFbFZFYFXFWFWFWFWFWFWFWFXFXFXFYFZFZFaFbFbFcFcFdFeFeFfFfFgFgFhFhFiFiFiFjFjFjFjFkFkFkFkFkFkFkFkFkFlFlFlFlFlFlNsNXNDMvMcMKL6LrLdLOK_KwKiKTKFJ4JrJeJQJDI1InIZILH9HwHjHWHJG9GyGnGdGUGLGDF7F0FuFoFiFeFZFWFSFPFNFLFJFHFGFFFFFEFEFEFEFEFFFFFFFGFGFHFHFIFJFJFKFLFLFMFMFNFNFOFOFPFPFPFQFQFQFRFRFRFRFRFSFSFSFSFSFSFSFSFSFSFSFSFSNHMyMeMKL3LlLVLGK4KqKbKNJ_JxJjJXJKI-IxIkIXIKH8HvHiHVHJG9GxGmGbGRGHF-F2FuFnFhFaFVFQFLFHFEFAE-E7E5E4E2E1E0E0EzEzEzEzEzE0E0E0E1E1E2E2E3E4E4E5E5E6E6E7E7E8E8E9E9E-E-E-E_E_E_E_FAFAFAFAFAFAFAFAFAFBFBFBFBFBFBFBMkMPL6LmLTLBKxKjKVKHJ5JrJdJQJDI2IrIfITIHH6HuHhHVHJG8GxGlGaGPGFF8FzFqFiFbFUFOFIFDE-E6E2EzEwEtErEpEoEmElEkEkEkEjEjEjEkEkEkElElElEmEmEnEoEoEpEpEqEqErErEsEsEtEtEtEuEuEuEvEvEvEvEvEvEwEwEwEwEwEwEwEwEwEwEwEwEwMDLtLYLEKxKfKQKCJ0JmJYJLI-IxIkIZIOICH3HrHgHUHIG8GxGlGaGQGFF7FyFoFgFYFRFKFDE9E4EzEvErEnEkEhEeEcEbEZEYEXEWEWEVEVEVEVEVEWEWEWEXEXEYEYEZEZEaEaEbEbEcEcEdEdEeEeEeEfEfEfEgEgEgEgEhEhEhEhEhEhEhEhEhEhEhEhEiEiEiEiLkLPK6KmKTKBJxJjJWJII7IuIhIVIJH-HzHpHeHTHIG9GyGnGcGRGGF8FyFpFgFXFPFIFBE6E0EvEqElEhEdEZEWEUEREPEOEMELEKEKEJEJEJEJEJEJEJEJEKEKELELEMEMENENEOEOEPEPEQEQERERERESESESETETETETETEUEUEUEUEUEUEUEUEUEVEVEVEVEVEVEVLKK0KfKLJ4JmJWJJI7IuIhIUIIH8HxHmHcHSHIG9GzGoGeGTGJF-F0FrFhFYFQFIFAE5EyEsEnEhEcEYEUEQENEKEIEFEEECEBEAD_D-D-D9D9D9D9D9D-D-D-D_D_EAEAEBEBECECEDEDEEEEEEEFEFEGEGEGEHEHEHEHEHEIEIEIEIEIEIEIEJEJEJEJEJEJEJEJEJEJKwKbKGJxJeJNI9IwIiIVIJH8HwHlHaHPHGG8GzGpGfGVGLGBF3FtFkFbFSFJFBE5EyErElEfEaEVEQEMEIEFECD_D8D6D5D3D2D1D0DzDzDzDzDzDzDzDzD0D0D0D1D1D2D2D3D3D3D4D4D5D5D6D6D6D7D7D7D8D8D8D8D9D9D9D9D9D9D9D-D-D-D-D-D-D-D-D-D-D-KZKDJuJZJGI1IlIYILH-HyHmHaHPHEG6GxGoGfGWGMGDF5FwFmFdFUFLFDE7EzEsElEfEZETEOEJEFEBD9D6D3D0DyDwDuDtDsDrDqDpDpDpDpDpDpDpDpDqDqDqDrDrDsDsDtDtDuDuDuDvDvDwDwDwDxDxDxDyDyDyDyDyDzDzDzDzDzDzDzDzDzD0D0D0D0D0D0D0D0KCJsJXJDIwIeIPICH1HoHcHQHFG6GwGmGeGVGMGEF7FyFpFgFXFOFFE9E1EtEmEfEZETENEIEDD-D6D2DzDwDtDqDoDmDlDjDiDhDhDgDgDgDgDgDgDgDgDgDhDhDiDiDiDjDjDkDkDlDlDlDmDmDnDnDnDoDoDoDoDpDpDpDpDpDpDpDqDqDqDqDqDqDqDqDqDqDqDqDqJtJXJCItIaIJH5HsHgHUHIG8GxGmGcGTGLGDF7FyFqFhFZFQFIFAE3EwEoEhEaETENEHECD9D4D0DwDsDpDmDjDhDfDdDcDaDZDYDYDXDXDXDXDXDXDXDXDYDYDYDZDZDaDaDbDbDbDcDcDdDdDdDeDeDeDfDfDfDfDgDgDgDgDgDgDgDhDhDhDhDhDhDhDhDhDhDhDhDhJZJDItIZIFH0HlHYHMHAG0GpGeGUGKGBF6FyFqFiFaFSFKFCE6EyEqEjEcEVEOEIECD9D3DzDuDqDnDjDgDdDbDYDWDVDTDSDRDQDQDPDPDPDPDPDPDPDPDQDQDQDRDRDSDSDSDTDTDUDUDUDVDVDWDWDWDWDXDXDXDXDYDYDYDYDYDYDYDYDYDZDZDZDZDZDZDZDZDZDZJFIvIZIFHyHgHRHFG4GtGhGWGLGCF5FwFpFiFaFTFLFDE8E0EtElEeEXEQEJEDD9D4DzDuDpDlDhDeDaDXDVDSDQDODNDMDKDJDJDIDIDHDHDHDHDIDIDIDIDJDJDJDKDKDLDLDLDMDMDNDNDNDODODODPDPDPDPDPDQDQDQDQDQDQDRDRDRDRDRDRDRDRDRDRDRDRDRDRIyIcIGHyHeHNG-GyGmGaGPGEF6FwFnFgFZFSFLFEE8E1EuEnEgEZESELEFD_D5DzDuDpDkDgDcDZDVDSDPDNDKDJDHDFDEDDDCDBDBDADADADADADADADBDBDBDCDCDCDDDDDEDEDEDFDFDGDGDGDHDHDHDHDIDIDIDIDIDJDJDJDJDJDJDJDJDJDJDJDJDKDKDKDKDKDKIgIJH0HfHMG7GsGgGUGIF9FzFpFfFXFQFJFCE8E1EuEnEhEaETEMEGEAD6D0DuDpDkDfDbDXDTDQDNDKDHDFDDDBC_C-C8C7C6C6C5C5C5C5C5C5C5C5C5C6C6C6C7C7C8C8C8C9C9C9C-C-C-C_C_C_DADADADADBDBDBDBDBDBDBDCDCDCDCDCDCDCDCDCDCDCDCDCDCIOH4HiHNG6GpGaGOGCF3FsFiFYFPFHFAE5EzEtEnEgEaETENEGEAD6D0DuDpDkDfDaDVDRDODKDHDEDBC_C8C6C4C3C2C0CzCzCyCyCxCxCxCxCxCxCyCyCyCyCzCzCzC0C0C1C1C1C2C2C2C3C3C3C3C4C4C4C4C5C5C5C5C5C5C5C6C6C6C6C6C6C6C6C6C6C6C6C6C6H-HnHRG8GpGYGJF9FyFmFcFRFIE_E3EwEqEkEeEYESEMEGEAD6D0DuDoDjDeDZDUDPDLDHDEDAC9C6C4C1CzCxCwCuCtCsCrCqCqCpCpCpCpCpCpCpCpCpCqCqCqCrCrCrCsCsCsCtCtCtCuCuCuCvCvCvCvCwCwCwCwCwCwCxCxCxCxCxCxCxCxCxCxCxCxCxCxCxCxCxHtHXHBGsGZGIF5FtFhFWFLFBE4EvEoEhEbEVEQEKEED-D4DzDtDnDiDcDXDSDNDJDFDBC9C6C3C0CxCuCsCqCoCnClCkCjCiChChChCgCgCgCgCgCgChChChChCiCiCiCjCjCjCkCkCkClClClCmCmCmCmCnCnCnCnCnCnCoCoCoCoCoCoCoCoCoCoCoCoCoCoCoCoCoCoHeHHGxGcGJF4FpFdFSFHE8EyEpEgEZESENEHECD8D3DxDrDmDgDbDWDRDMDHDDC-C6C3CzCwCtCqCoClCjChCfCeCdCbCaCaCZCYCYCYCYCYCYCYCYCYCYCZCZCZCaCaCaCaCbCbCbCcCcCcCdCdCdCdCeCeCeCeCeCfCfCfCfCfCfCfCfCfCfCfCfCfCgCgCgCgCgCgCgHPG4GiGNF6FpFaFOFDE4EtEjEaESELEED_D6D0DvDqDlDfDaDVDQDLDGDBC9C5C0CxCtCqCnCkChCfCdCbCZCXCWCVCUCTCSCRCRCQCQCQCQCQCQCQCQCRCRCRCRCSCSCSCTCTCTCUCUCUCUCVCVCVCVCWCWCWCWCWCXCXCXCXCXCXCXCXCXCXCXCXCXCXCYCYCYCYCYCYHAGqGTF-FrFaFMFAE0EpEfEVENEED9D3DyDtDoDjDeDZDUDPDKDGDBC8C4C0CwCsCoClCiCfCcCaCYCWCUCSCQCPCOCNCMCLCLCKCKCKCJCJCKCKCKCKCKCKCLCLCLCMCMCMCMCNCNCNCOCOCOCOCPCPCPCPCPCQCQCQCQCQCQCQCQCQCQCRCRCRCRCRCRCRCRCRCRCRCRGzGbGFFwFdFME-EyEmEcESEIEAD4DxDrDmDiDdDYDUDPDKDFDBC8C4C0CwCsCoCkChCeCbCYCWCUCRCPCOCMCLCJCICHCGCGCFCFCECECECECECECFCFCFCFCFCGCGCGCHCHCHCHCICICICJCJCJCJCJCKCKCKCKCKCKCLCLCLCLCLCLCLCLCLCLCLCLCLCLCLCLCLCLCLGlGOF4FjFQE_EwEkEZEPEFD8DzDsDlDfDbDXDSDODKDFDBC8C4C0CwCsCoCkChCeCaCYCVCSCQCOCMCKCICHCFCECDCCCCCBCACACACACACACACACACACACBCBCBCBCCCCCCCDCDCDCDCECECECECFCFCFCFCFCFCGCGCGCGCGCGCGCGCGCGCGCGCHCHCHCHCHCHCHCHCHGYGBFrFWFCEyEjEXENECD4DvDnDgDaDUDQDMDIDEDAC8C4C0CwCsCoClChCeCaCXCUCSCPCNCLCJCHCFCDCCCBCAB_B-B9B9B8B8B7B7B7B7B7B8B8B8B8B8B9B9B9B-B-B-B-B_B_B_B_CACACACACBCBCBCBCBCBCBCCCCCCCCCCCCCCCCCCCCCCCCCCCCCCCCCCCCCCGMF0FeFJE2ElEXELEAD2DtDkDcDVDPDKDGDCC-C7C3CzCvCsCoCkChCdCaCXCUCRCOCMCKCHCFCDCCCAB_B9B8B7B6B5B5B4B4B3B3B3B3B3B3B3B4B4B4B4B5B5B5B5B6B6B6B7B7B7B7B8B8B8B8B8B9B9B9B9B9B9B9B9B-B-B-B-B-B-B-B-B-B-B-B-B-B-B-B-B-GAFoFSE9EqEZELD_D1DqDhDYDRDKDEC_C8C4C1CxCuCqCnCjCgCdCZCWCTCQCNCLCICGCECCCAB-B9B7B6B4B3B2B1B1B0B0BzBzBzBzBzBzBzBzBzB0B0B0B0B1B1B1B1B2B2B2B2B3B3B3B3B4B4B4B4B4B4B5B5B5B5B5B5B5B5B5B5B5B5B6B6B6B6B6B6B6B6B6B6F0FdFGExEeEND_D0DpDfDWDNDGC_C5C1CyCuCrCoClCiCeCbCYCVCSCPCMCJCHCECCCAB-B8B6B4B3B2B0BzByBxBwBwBvBvBuBuBuBuBuBuBuBuBuBvBvBvBvBwBwBwBwBxBxBxByByByByByBzBzBzBzBzB0B0B0B0B0B0B0B0B0B0B0B0B1B1B1B1B1B1B1B1B1B1B1FpFRE7EmETECD0DoDeDUDLDCC7C0CvCrCnCkChCeCbCZCWCTCQCNCKCHCFCCCAB9B7B5B3B2B0BzBxBwBvBuBtBsBrBqBqBqBpBpBpBpBpBpBpBpBpBqBqBqBqBrBrBrBrBsBsBsBsBtBtBtBtBtBuBuBuBuBuBuBvBvBvBvBvBvBvBvBvBvBvBvBvBvBvBvBvBvBvBvBvFdFGEvEaEHD2DoDdDTDJDAC4CwCqClCgCdCbCYCVCSCQCNCKCHCFCCCAB9B7B5B2B0BzBxBvBuBtBrBqBpBoBnBmBmBlBlBkBkBkBkBkBkBkBkBkBkBkBlBlBlBlBmBmBmBmBnBnBnBnBoBoBoBoBoBpBpBpBpBpBpBpBpBpBqBqBqBqBqBqBqBqBqBqBqBqBqBqBqBqBqFSE7EkEPD8DrDdDSDIC-C1CtCmCgCaCWCUCRCOCMCJCHCECCB_B9B6B4B2B0ByBwBuBsBrBpBoBnBlBkBjBiBiBhBgBgBfBfBfBeBeBeBeBfBfBfBfBfBfBgBgBgBgBhBhBhBhBiBiBiBiBiBjBjBjBjBjBjBkBkBkBkBkBkBkBkBkBkBkBkBkBlBlBlBlBlBlBlBlBlBlFIEwEaEFDyDhDTDIC9C0CrCjCcCWCRCNCKCICFCDCBB-B8B6B3B1BzBxBvBtBrBpBnBmBlBjBiBhBgBfBeBdBcBcBbBbBaBaBaBZBZBZBZBaBaBaBaBaBaBbBbBbBbBcBcBcBcBdBdBdBdBdBeBeBeBeBeBeBeBfBfBfBfBfBfBfBfBfBfBfBfBfBfBfBfBfBfBfBfBfBfE_EnEQD7DoDXDJC-C0CqCiCaCTCNCICECCB_B9B7B5B3B0ByBwBuBsBqBoBmBlBjBiBgBfBeBdBbBaBaBZBYBXBXBWBWBVBVBVBVBVBVBVBVBVBVBVBWBWBWBWBWBXBXBXBXBYBYBYBYBYBZBZBZBZBZBZBZBaBaBaBaBaBaBaBaBaBaBaBaBaBaBaBaBaBaBaBaBaBaBaE2EfEIDzDgDPDBC2CsCiCZCRCLCFCAB8B6B4B2B0ByBvBtBsBqBoBmBkBiBhBfBdBcBbBaBYBXBWBVBVBUBTBSBSBRBRBRBQBQBQBQBQBQBQBQBRBRBRBRBRBSBSBSBSBTBTBTBTBTBUBUBUBUBUBUBVBVBVBVBVBVBVBVBVBVBVBWBWBWBWBWBWBWBWBWBWBWBWBWBWBWEvEXEBDsDYDIC6CvCkCbCSCKCDB-B5B1BzBxBvBtBrBpBnBlBkBiBgBeBdBbBaBYBXBWBVBUBTBSBRBQBPBPBOBNBNBNBMBMBMBMBMBMBMBMBMBMBNBNBNBNBNBOBOBOBOBOBPBPBPBPBPBPBQBQBQBQBQBQBQBRBRBRBRBRBRBRBRBRBRBRBRBRBRBRBRBRBRBRBRBRBREpERD6DlDSDBCzCoCeCUCMCEB9B3ByBvBtBrBpBnBlBjBhBgBeBcBaBZBXBWBUBTBSBRBQBPBOBNBMBLBLBKBKBJBJBIBIBIBIBHBHBHBIBIBIBIBIBIBJBJBJBJBJBKBKBKBKBKBLBLBLBLBLBLBLBMBMBMBMBMBMBMBMBMBMBMBMBNBNBNBNBNBNBNBNBNBNBNBNBNBNEjELD0DfDMC7CtCiCYCOCFB-B3BxBsBpBnBlBjBhBfBdBcBaBYBXBVBTBSBRBPBOBNBMBLBKBJBIBIBHBGBGBFBFBEBEBEBDBDBDBDBDBDBDBEBEBEBEBEBEBFBFBFBFBFBGBGBGBGBGBGBHBHBHBHBHBHBHBHBHBIBIBIBIBIBIBIBIBIBIBIBIBIBIBIBIBIBIBIBIBIEdEGDvDZDGC1CnCcCSCICAB4BxBrBmBjBhBfBdBbBZBYBWBUBTBRBQBOBNBLBKBJBIBHBGBFBEBEBDBCBCBBBABABAA_A_A_A_A_A_A_A_A_A_A_A_A_BABABABABABBBBBBBBBBBBBCBCBCBCBCBCBCBCBDBDBDBDBDBDBDBDBDBDBDBDBDBDBDBDBDBDBDBDBDBDBDBDEYEBDqDUDBCwCiCXCNCDB6ByBrBmBhBdBbBZBXBVBUBSBQBPBNBLBKBJBHBGBFBEBDBCBBBAA_A_A-A9A9A8A8A7A7A6A6A6A6A6A6A6A6A6A6A6A6A7A7A7A7A7A7A8A8A8A8A8A8A9A9A9A9A9A9A9A9A9A-A-A-A-A-A-A-A-A-A-A-A-A-A-A-A-A-A-A-A-A-A-A-EUD8DlDQC8CrCdCSCIB-B1BtBmBgBcBYBWBUBSBQBOBMBLBJBIBGBFBDBCBBA_A-A9A8A8A7A6A5A5A4A4A3A3A2A2A2A1A1A1A1A1A1A1A1A1A1A1A2A2A2A2A2A2A3A3A3A3A3A3A3A4A4A4A4A4A4A4A4A4A4A4A4A5A5A5A5A5A5A5A5A5A5A5A5A5A5A5A5A5A5A5EQD4DhDMC4CnCZCOCDB6BxBpBiBcBXBTBRBPBNBLBJBHBFBEBCBBA_A-A9A7A6A5A4A3A2A2A1A0A0AzAzAyAyAxAxAxAwAwAwAwAwAwAwAwAwAwAwAxAxAxAxAxAxAxAyAyAyAyAyAyAyAyAzAzAzAzAzAzAzAzAzAzAzAzAzAzAzAzAzAzAzAzAzA0A0A0A0A0A0A0A0END1DeDIC1CkCVCKCAB2BtBlBdBXBSBPBMBKBIBGBEBCBAA_A9A8A6A5A3A2A1A0AzAyAyAxAwAwAvAuAuAtAtAsAsAsAsArArArArArArArArArAsAsAsAsAsAsAsAsAtAtAtAtAtAtAtAtAtAuAuAuAuAuAuAuAuAuAuAuAuAuAuAuAuAuAuAuAuAuAuAuAuAuAuAuAuEKDyDbDFCyChCSCHB8ByBpBhBaBTBOBLBIBGBEBCBAA-A8A6A5A3A2A0AzAyAwAvAuAuAtAsAsArAqAqApApAoAoAoAnAnAnAnAnAnAnAnAnAnAnAnAnAnAnAnAoAoAoAoAoAoAoAoAoAoApApApApApApApApApApApApApApApApApApApApApApApApApApApApApApEHDvDYDDCvCeCPCEB5BvBmBeBWBQBLBHBEBCBAA9A7A5A4A2A0AzAxAwAuAtAsArAqApApAoAnAnAmAlAlAkAkAkAjAjAjAjAiAiAiAiAiAiAiAiAjAjAjAjAjAjAjAjAjAjAkAkAkAkAkAkAkAkAkAkAkAkAkAkAkAkAlAlAlAlAlAlAlAlAlAlAlAlAlAlAlAlAlAlAlEFDtDWDACsCbCNCBB2BsBjBaBTBMBHBDBAA-A8A5A3A1AzAyAwAuAtArAqApAoAnAmAlAkAkAjAiAiAhAhAgAgAfAfAfAeAeAeAeAeAeAeAeAeAeAeAeAeAeAeAfAfAfAfAfAfAfAfAfAfAfAfAfAgAgAgAgAgAgAgAgAgAgAgAgAgAgAgAgAgAgAgAgAgAgAgAgAgAgAgEDDrDTC-CqCZCKB-BzBpBgBXBQBJBEBAA9A6A4A2AzAxAvAuAsAqApAnAmAlAjAiAiAhAgAfAfAeAeAdAcAcAcAbAbAbAaAaAaAaAaAaAaAaAaAaAaAaAaAaAaAaAaAaAaAbAbAbAbAbAbAbAbAbAbAbAbAbAbAbAbAbAbAbAbAbAbAbAbAbAbAbAbAcAcAcAcAcAcAcAcEBDoDRC8CoCWCIB8BxBnBdBVBNBGBBA9A6A3A1AyAwAuAsAqAoAmAlAjAiAhAgAfAeAdAcAcAbAaAaAZAZAYAYAXAXAXAXAWAWAWAWAWAWAWAWAWAWAWAWAWAWAWAWAWAXAXAXAXAXAXAXAXAXAXAXAXAXAXAXAXAXAXAXAXAXAXAXAXAXAXAXAXAXAXAXAXAXAXAXAXAXD_DmDPC6CmCUCGB6BvBkBbBSBKBEA-A6A3A0AyAvAtArApAnAlAjAiAgAfAeAcAbAaAaAZAYAYAXAXAWAWAVAVAUAUAUATATATATATATATATATATATATATATATATATATATATATATATATAUAUAUAUAUAUAUAUAUAUAUAUAUAUAUAUAUAUAUAUAUAUAUAUAUAUAUAUAUAUAUD9DlDNC4CkCSCEB4BtBiBZBQBIBBA8A3A0AyAvAtAqAoAmAkAiAhAfAdAcAbAaAZAYAXAWAWAVAVAUAUATATASASARARARARAQAQAQAQAQAQAQAQAQAQAQAQAQAQARARARARARARARARARARARARARARARARARARARARARARARARARARARARARARARARARARARARARARARD7DjDMC2CiCQCCB2BrBgBXBOBGA_A5A1AyAvAtAqAoAmAkAiAgAeAdAbAaAZAXAWAWAVAUATATASASARARAQAQAQAPAPAPAOAOAOAOAOAOAOAOAOAOAOAOAOAOAOAOAOAOAOAOAOAOAPAPAPAPAPAPAPAPAPAPAPAPAPAPAPAPAPAPAPAPAPAPAPAPAPAPAPAPAPAPAPAPD5DhDKC0CgCPCAB0BpBeBVBMBEA9A3AzAwAtArAoAmAkAhAgAeAcAaAZAYAWAVAUATATASARARAQAQAPAPAOAOAOANANANAMAMAMAMAMAMAMAMAMAMAMAMAMAMAMAMAMAMAMAMAMAMAMAMANANANANANANANANANANANANANANANANANANANANANANANANANANANANANAND4DfDICyCfCNB-ByBnBdBTBKBCA7A2AxAuArApAmAkAiAgAeAcAaAYAXAWAUATASASARAQAQAPAOAOANANANAMAMALALALALALAKAKAKAKAKAKAKAKAKAKAKAKAKAKAKAKALALALALALALALALALALALALALALALALALALALALALALALALALALALALALALALALALALALALD2DeDHCxCdCLB9BxBlBbBRBIBAA5A0AvAsApAnAkAiAgAeAcAaAYAXAVAUATASARAQAPAOAOANANAMAMALALALAKAKAKAJAJAJAJAJAJAJAJAJAJAJAJAJAJAJAJAJAJAJAJAJAJAJAJAJAJAJAJAJAJAJAJAJAJAJAJAJAJAJAJAJAJAJAJAJAJAJAJAJAJAJAJAJAJAJD1DdDFCvCcCKB7BvBkBZBQBHA_A4AyAuArAoAlAjAgAeAcAaAYAXAVAUASARAQAPAOAOANAMAMALALAKAKAJAJAJAIAIAIAIAHAHAHAHAHAHAHAHAHAHAHAHAHAHAHAHAHAHAHAHAHAHAHAHAHAHAHAHAHAHAHAHAIAIAIAIAIAIAIAIAIAIAIAIAIAIAIAIAIAIAIAIAIDzDbDECuCaCIB6BuBiBYBOBFA9A2AxAsApAmAjAhAfAcAaAYAXAVATASARAPAOAOANAMALALAKAKAJAJAIAIAIAHAHAHAGAGAGAGAGAGAGAGAGAGAGAGAGAGAGAGAGAGAGAGAGAGAGAGAGAGAGAGAGAGAGAGAGAGAGAGAGAGAGAGAGAGAGAGAGAGAGAGAGAGAGAGAGAGAGDyDaDDCtCZCHB4BsBhBWBNBEA8A1AvArAnAlAiAfAdAbAZAXAVATASAQAPAOANAMALALAKAJAJAIAIAHAHAHAGAGAGAFAFAFAFAEAEAEAEAEAEAEAEAEAEAEAEAEAEAEAEAEAEAEAEAEAEAEAFAFAFAFAFAFAFAFAFAFAFAFAFAFAFAFAFAFAFAFAFAFAFAFAFAFAFAFAFDxDZDBCsCYCGB3BrBgBVBLBCA6AzAuApAmAjAhAeAcAZAXAVAUASAQAPAOANAMALAKAJAJAIAIAHAHAGAGAFAFAFAEAEAEAEADADADADADADADADADADADADADADADADADADADADADADADADADADADADADADADADADADADADADADADADADADADADADADADADADADADADADDwDXDACqCWCFB2BqBeBUBKBBA5AyAsAoAlAiAfAdAaAYAWAUASARAPAOAMALAKAJAJAIAHAHAGAGAFAFAFAEAEADADADADACACACACACACACACACACACACACACACACACACACACACACACACACACACACACACACACACACACACACACACACACACACACACACACACACACACACACACDvDWC_CpCVCEB1BoBdBTBJBAA4AxArAnAjAhAeAbAZAXAVATARAPAOANALAKAJAIAIAHAGAGAFAFAEAEAEADADACACACACABABABABABABABABABABABABABABABABABABABABABABABABABABABABABABABABABABABABABABABABABABABABABABABABABABABABABABDuDVC-CoCUCDB0BnBcBSBIA_A3AwAqAmAiAgAdAaAYAWAUASAQAOANAMAKAJAIAHAHAGAFAFAEAEADADADACACACABABABABAAAAAAAAAAAAAAAAAAAAAAAAAAAAAAAAAAAAAAAAAAAAAAAAAAAAAAAAAAAAAAAAAAAAAAAAAAAAAAAAAAAAAAAAAAAAAAAAAAAAAAAAAA",-1.499,-0.0),{"ox": 990.5, "oy": 502.3, "ax": 26.06, "ay": 16.4, "sx": 42.03, "sy": -10.23, "zs": 242.9, "zmin": -1.5, "zmax": 0},-1.499,-0.0,1.35);
})();
</script>
</body></html>
